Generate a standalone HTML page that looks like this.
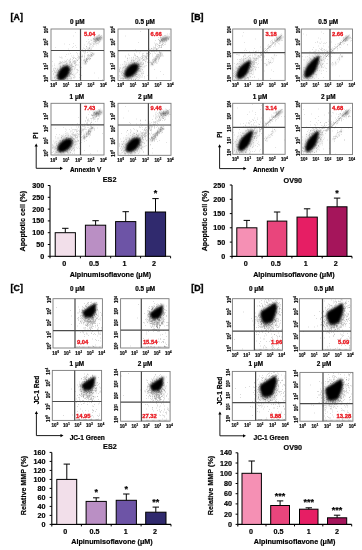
<!DOCTYPE html>
<html><head><meta charset="utf-8"><style>
html,body{margin:0;padding:0;background:#fff;width:362px;height:550px;overflow:hidden}
svg{display:block;filter:blur(.3px)}
text{font-family:"Liberation Sans", sans-serif;stroke:#000;stroke-width:.2px}
</style></head><body>
<svg width="362" height="550" viewBox="0 0 362 550">
<defs><filter id="bl" x="-50%" y="-50%" width="200%" height="200%"><feGaussianBlur stdDeviation="0.8"/></filter><filter id="bl2" x="-50%" y="-50%" width="200%" height="200%"><feGaussianBlur stdDeviation="2.5"/></filter>
<g id="h0"><text x="0" y="0" font-size="4.5" font-weight="bold" text-anchor="middle" fill="#111" stroke="#111" stroke-width=".2">10<tspan font-size="2.8" dy="-1.8" dx=".2">0</tspan></text></g>
<g id="v0"><text x="0" y="0" font-size="4.5" font-weight="bold" text-anchor="middle" fill="#111" stroke="#111" stroke-width=".2" transform="rotate(-90)">10<tspan font-size="2.8" dy="-1.8" dx=".2">0</tspan></text></g>
<g id="h1"><text x="0" y="0" font-size="4.5" font-weight="bold" text-anchor="middle" fill="#111" stroke="#111" stroke-width=".2">10<tspan font-size="2.8" dy="-1.8" dx=".2">1</tspan></text></g>
<g id="v1"><text x="0" y="0" font-size="4.5" font-weight="bold" text-anchor="middle" fill="#111" stroke="#111" stroke-width=".2" transform="rotate(-90)">10<tspan font-size="2.8" dy="-1.8" dx=".2">1</tspan></text></g>
<g id="h2"><text x="0" y="0" font-size="4.5" font-weight="bold" text-anchor="middle" fill="#111" stroke="#111" stroke-width=".2">10<tspan font-size="2.8" dy="-1.8" dx=".2">2</tspan></text></g>
<g id="v2"><text x="0" y="0" font-size="4.5" font-weight="bold" text-anchor="middle" fill="#111" stroke="#111" stroke-width=".2" transform="rotate(-90)">10<tspan font-size="2.8" dy="-1.8" dx=".2">2</tspan></text></g>
<g id="h3"><text x="0" y="0" font-size="4.5" font-weight="bold" text-anchor="middle" fill="#111" stroke="#111" stroke-width=".2">10<tspan font-size="2.8" dy="-1.8" dx=".2">3</tspan></text></g>
<g id="v3"><text x="0" y="0" font-size="4.5" font-weight="bold" text-anchor="middle" fill="#111" stroke="#111" stroke-width=".2" transform="rotate(-90)">10<tspan font-size="2.8" dy="-1.8" dx=".2">3</tspan></text></g>
<g id="h4"><text x="0" y="0" font-size="4.5" font-weight="bold" text-anchor="middle" fill="#111" stroke="#111" stroke-width=".2">10<tspan font-size="2.8" dy="-1.8" dx=".2">4</tspan></text></g>
<g id="v4"><text x="0" y="0" font-size="4.5" font-weight="bold" text-anchor="middle" fill="#111" stroke="#111" stroke-width=".2" transform="rotate(-90)">10<tspan font-size="2.8" dy="-1.8" dx=".2">4</tspan></text></g>
<clipPath id="c10"><rect x="51.5" y="29.5" width="52.0" height="50.5"/></clipPath>
<clipPath id="c11"><rect x="51.5" y="29.5" width="52.0" height="50.5"/></clipPath>
<clipPath id="c12"><rect x="51.5" y="29.5" width="52.0" height="50.5"/></clipPath>
<clipPath id="c13"><rect x="118.5" y="29.5" width="52.0" height="50.5"/></clipPath>
<clipPath id="c14"><rect x="118.5" y="29.5" width="52.0" height="50.5"/></clipPath>
<clipPath id="c15"><rect x="118.5" y="29.5" width="52.0" height="50.5"/></clipPath>
<clipPath id="c16"><rect x="51.5" y="103.8" width="52.0" height="50.7"/></clipPath>
<clipPath id="c17"><rect x="51.5" y="103.8" width="52.0" height="50.7"/></clipPath>
<clipPath id="c18"><rect x="51.5" y="103.8" width="52.0" height="50.7"/></clipPath>
<clipPath id="c19"><rect x="118.5" y="103.8" width="52.0" height="51.0"/></clipPath>
<clipPath id="c20"><rect x="118.5" y="103.8" width="52.0" height="51.0"/></clipPath>
<clipPath id="c21"><rect x="118.5" y="103.8" width="52.0" height="51.0"/></clipPath>
<clipPath id="c22"><rect x="233.2" y="29.5" width="51.4" height="50.4"/></clipPath>
<clipPath id="c23"><rect x="233.2" y="29.5" width="51.4" height="50.4"/></clipPath>
<clipPath id="c24"><rect x="233.2" y="29.5" width="51.4" height="50.4"/></clipPath>
<clipPath id="c25"><rect x="301.8" y="29.5" width="50.2" height="50.4"/></clipPath>
<clipPath id="c26"><rect x="301.8" y="29.5" width="50.2" height="50.4"/></clipPath>
<clipPath id="c27"><rect x="301.8" y="29.5" width="50.2" height="50.4"/></clipPath>
<clipPath id="c28"><rect x="233.2" y="103.8" width="51.4" height="50.0"/></clipPath>
<clipPath id="c29"><rect x="233.2" y="103.8" width="51.4" height="50.0"/></clipPath>
<clipPath id="c30"><rect x="233.2" y="103.8" width="51.4" height="50.0"/></clipPath>
<clipPath id="c31"><rect x="301.8" y="103.8" width="50.2" height="50.3"/></clipPath>
<clipPath id="c32"><rect x="301.8" y="103.8" width="50.2" height="50.3"/></clipPath>
<clipPath id="c33"><rect x="301.8" y="103.8" width="50.2" height="50.3"/></clipPath>
<clipPath id="c34"><rect x="53.5" y="299.2" width="48.4" height="48.3"/></clipPath>
<clipPath id="c35"><rect x="53.5" y="299.2" width="48.4" height="48.3"/></clipPath>
<clipPath id="c36"><rect x="121.1" y="299.2" width="47.4" height="48.3"/></clipPath>
<clipPath id="c37"><rect x="121.1" y="299.2" width="47.4" height="48.3"/></clipPath>
<clipPath id="c38"><rect x="52.8" y="370.9" width="48.3" height="49.0"/></clipPath>
<clipPath id="c39"><rect x="52.8" y="370.9" width="48.3" height="49.0"/></clipPath>
<clipPath id="c40"><rect x="121.1" y="372.0" width="48.5" height="48.7"/></clipPath>
<clipPath id="c41"><rect x="121.1" y="372.0" width="48.5" height="48.7"/></clipPath>
<clipPath id="c42"><rect x="232.9" y="299.2" width="49.0" height="50.6"/></clipPath>
<clipPath id="c43"><rect x="232.9" y="299.2" width="49.0" height="50.6"/></clipPath>
<clipPath id="c44"><rect x="232.9" y="299.2" width="49.0" height="50.6"/></clipPath>
<clipPath id="c45"><rect x="299.9" y="299.2" width="50.6" height="50.6"/></clipPath>
<clipPath id="c46"><rect x="299.9" y="299.2" width="50.6" height="50.6"/></clipPath>
<clipPath id="c47"><rect x="299.9" y="299.2" width="50.6" height="50.6"/></clipPath>
<clipPath id="c48"><rect x="232.8" y="371.9" width="52.5" height="48.0"/></clipPath>
<clipPath id="c49"><rect x="232.8" y="371.9" width="52.5" height="48.0"/></clipPath>
<clipPath id="c50"><rect x="232.8" y="371.9" width="52.5" height="48.0"/></clipPath>
<clipPath id="c51"><rect x="300.4" y="372.9" width="52.0" height="47.8"/></clipPath>
<clipPath id="c52"><rect x="300.4" y="372.9" width="52.0" height="47.8"/></clipPath>
<clipPath id="c53"><rect x="300.4" y="372.9" width="52.0" height="47.8"/></clipPath></defs>
<g clip-path="url(#c10)"><ellipse cx="63.7" cy="73" rx="11.25" ry="7.68" opacity="0.12" transform="rotate(-55 63.7 73)" filter="url(#bl2)"/></g>
<g clip-path="url(#c11)"><ellipse cx="63.7" cy="73" rx="8.4" ry="4.896" opacity="1" transform="rotate(-55 63.7 73)" filter="url(#bl)"/></g>
<g clip-path="url(#c12)"><ellipse cx="98" cy="38.8" rx="4.5" ry="1.7" opacity="0.5" transform="rotate(-18 98 38.8)" filter="url(#bl)"/></g>
<path d="M83.0 63.5L93.0 53.0" stroke="#000" stroke-width="2.2" stroke-linecap="round" opacity="0.09" filter="url(#bl)"/>
<path transform="scale(.5)" d="M0 0m150 65h1m47 4h1m-2 1h1m-1 1h1m0 0h1m4 0h1m-58 1h1m48 0h1m4 1h1m-12 1h1m2 0h1m5 1h1m4 0h1m-15 1h1m4 0h1m-9 1h1m0 0h1m4 0h1m0 1h1m0 0h1m4 0h1m-23 1h1m9 0h1m1 0h1m5 0h1m5 0h1m-21 1h1m1 0h1m11 0h1m0 0h1m-15 1h1m8 0h1m3 0h1m0 0h1m0 0h1m-5 1h1m5 0h1m1 0h1m-29 1h1m5 0h1m7 0h1m1 0h1m1 0h1m1 0h1m4 0h1m-23 1h1m12 0h1m0 0h1m6 0h1m-8 1h1m7 0h1m-22 1h1m0 0h1m4 0h1m0 0h1m2 0h1m3 0h1m1 0h1m0 0h1m1 0h1m-51 1h1m34 0h1m4 0h1m1 0h1m4 0h1m1 0h1m-67 1h1m45 0h1m3 0h1m11 0h1m4 0h1m-58 1h1m40 0h1m1 0h1m3 0h1m1 0h1m-20 1h1m10 0h1m6 0h1m5 0h1m-43 1h1m26 0h1m5 0h1m-38 2h1m24 0h1m0 0h1m12 0h1m-14 1h1m5 0h1m1 0h1m0 0h1m1 0h1m-74 1h1m32 0h1m7 0h1m25 0h1m-13 1h1m8 0h1m1 0h1m0 0h1m-11 1h1m3 0h1m5 0h1m0 0h1m3 0h1m-47 1h1m38 0h1m1 0h1m1 0h1m-17 1h1m5 0h1m4 0h1m0 0h1m6 0h1m-13 1h1m8 0h1m-16 1h1m1 0h1m11 0h1m-42 1h1m31 0h1m6 0h1m-13 1h1m0 0h1m2 0h1m0 0h1m7 0h1m-13 1h1m3 0h1m4 0h1m4 0h1m-28 1h1m21 0h1m7 0h1m-16 1h1m2 0h1m12 0h1m-45 1h1m13 0h1m6 0h1m23 0h1m1 0h1m-52 1h1m22 0h1m9 0h1m10 0h1m3 0h1m3 0h1m-56 1h1m27 0h1m15 0h1m4 0h1m0 0h1m3 0h1m-34 1h1m10 0h1m8 0h1m2 0h1m2 0h1m1 0h1m0 0h1m3 0h1m-19 1h1m4 0h1m3 0h1m4 0h1m1 0h1m-43 1h1m3 0h1m9 0h1m7 0h1m10 0h1m0 0h1m0 0h1m2 0h1m0 0h1m1 0h1m-54 1h1m25 0h1m1 0h1m1 0h1m0 0h1m2 0h1m3 0h1m10 0h1m2 0h1m-65 1h1m3 0h1m34 0h1m4 0h1m1 0h1m3 0h1m5 0h1m-56 1h1m24 0h1m0 0h1m2 0h1m5 0h1m1 0h1m0 0h1m2 0h1m17 0h1m-58 1h1m1 0h1m33 0h1m9 0h1m6 0h1m1 0h1m-37 1h1m4 0h1m0 0h1m2 0h1m0 0h1m6 0h1m1 0h1m11 0h1m0 0h1m2 0h1m2 0h1m0 0h1m0 0h1m-29 1h1m2 0h1m0 0h1m2 0h1m11 0h1m0 0h1m1 0h1m1 0h1m2 0h1m-46 1h1m5 0h1m2 0h1m16 0h1m7 0h1m3 0h1m0 0h1m0 0h1m3 0h1m-41 1h1m0 0h1m11 0h1m2 0h1m7 0h1m2 0h1m1 0h1m1 0h1m1 0h1m0 0h1m4 0h1m-47 1h1m16 0h1m0 0h1m3 0h1m0 0h1m11 0h1m1 0h1m2 0h1m0 0h1m-45 1h1m6 0h1m1 0h1m0 0h1m4 0h1m2 0h1m0 0h1m22 0h1m2 0h1m-71 1h1m20 0h1m5 0h1m1 0h1m7 0h1m4 0h1m2 0h1m0 0h1m17 0h1m1 0h1m0 0h1m1 0h1m0 0h1m-57 1h1m1 0h1m0 0h1m9 0h1m8 0h1m0 0h1m5 0h1m1 0h1m0 0h1m2 0h1m16 0h1m0 0h1m0 0h1m1 0h1m-53 1h1m4 0h1m1 0h1m8 0h1m1 0h1m4 0h1m4 0h1m8 0h1m10 0h1m0 0h1m-51 1h1m1 0h1m0 0h1m7 0h1m2 0h1m3 0h1m6 0h1m1 0h1m0 0h1m0 0h1m9 0h1m7 0h1m1 0h1m-53 1h1m0 0h1m0 0h1m11 0h1m10 0h1m5 0h1m20 0h1m2 0h1m-65 1h1m7 0h1m14 0h1m2 0h1m2 0h1m2 0h1m1 0h1m1 0h1m3 0h1m0 0h1m0 0h1m8 0h1m7 0h1m4 0h1m-43 1h1m7 0h1m2 0h1m9 0h1m18 0h1m-54 1h1m2 0h1m3 0h1m1 0h1m1 0h1m3 0h1m2 0h1m3 0h1m2 0h1m0 0h1m7 0h1m1 0h1m1 0h1m-48 1h1m16 0h1m0 0h1m6 0h1m0 0h1m4 0h1m1 0h1m7 0h1m0 0h1m-47 1h1m14 0h1m3 0h1m1 0h1m1 0h1m2 0h1m0 0h1m0 0h1m0 0h1m4 0h1m0 0h1m1 0h1m0 0h1m0 0h1m-25 1h1m0 0h1m11 0h1m1 0h1m1 0h1m0 0h1m5 0h1m0 0h1m0 0h1m0 0h1m-29 1h1m9 0h1m5 0h1m2 0h1m3 0h1m5 0h1m1 0h1m7 0h1m-38 1h1m3 0h1m0 0h1m3 0h1m0 0h1m3 0h1m0 0h1m3 0h1m2 0h1m19 0h1m-55 1h1m10 0h1m3 0h1m0 0h1m1 0h1m3 0h1m0 0h1m8 0h1m0 0h1m2 0h1m5 0h1m-41 1h1m9 0h1m0 0h1m1 0h1m5 0h1m2 0h1m0 0h1m1 0h1m2 0h1m1 0h1m-36 1h1m0 0h1m2 0h1m3 0h1m0 0h1m11 0h1m1 0h1m3 0h1m2 0h1m2 0h1m0 0h1m0 0h1m1 0h1m0 0h1m3 0h1m0 0h1m-32 1h1m2 0h1m0 0h1m2 0h1m0 0h1m3 0h1m2 0h1m0 0h1m2 0h1m0 0h1m0 0h1m3 0h1m1 0h1m7 0h1m0 0h1m-40 1h1m5 0h1m0 0h1m0 0h1m4 0h1m0 0h1m1 0h1m0 0h1m1 0h1m0 0h1m1 0h1m0 0h1m0 0h1m0 0h1m2 0h1m11 0h1m-50 1h1m2 0h1m2 0h1m3 0h1m0 0h1m2 0h1m4 0h1m3 0h1m0 0h1m1 0h1m1 0h1m1 0h1m2 0h1m0 0h1m16 0h1m-38 1h1m3 0h1m0 0h1m0 0h1m7 0h1m1 0h1m3 0h1m2 0h1m1 0h1m9 0h1m-52 1h1m4 0h1m7 0h1m0 0h1m0 0h1m2 0h1m3 0h1m1 0h1m0 0h1m11 0h1m-32 1h1m1 0h1m3 0h1m1 0h1m1 0h1m0 0h1m3 0h1m0 0h1m3 0h1m0 0h1m1 0h1m1 0h1m3 0h1m-32 1h1m2 0h1m3 0h1m0 0h1m5 0h1m1 0h1m3 0h1m1 0h1m0 0h1m4 0h1m0 0h1m5 0h1m10 0h1m-36 1h1m1 0h1m2 0h1m0 0h1m3 0h1m0 0h1m0 0h1m1 0h1m0 0h1m0 0h1m2 0h1m0 0h1m3 0h1m9 0h1m35 0h1m-84 1h1m11 0h1m4 0h1m1 0h1m0 0h1m1 0h1m1 0h1m2 0h1m3 0h1m2 0h1m0 0h1m1 0h1m-30 1h1m1 0h1m3 0h1m3 0h1m1 0h1m5 0h1m1 0h1m1 0h1m3 0h1m5 0h1m3 0h1m-45 1h1m7 0h1m0 0h1m4 0h1m1 0h1m0 0h1m2 0h1m0 0h1m1 0h1m0 0h1m1 0h1m5 0h1m1 0h1m1 0h1m1 0h1m0 0h1m12 0h1m-46 1h1m3 0h1m1 0h1m1 0h1m0 0h1m0 0h1m0 0h1m1 0h1m4 0h1m7 0h1m8 0h1m-37 1h1m1 0h1m0 0h1m0 0h1m0 0h1m4 0h1m0 0h1m3 0h1m1 0h1m8 0h1m7 0h1m15 0h1m-53 1h1m1 0h1m1 0h1m3 0h1m1 0h1m1 0h1m3 0h1m5 0h1m0 0h1m0 0h1m0 0h1m1 0h1m1 0h1m8 0h1m-33 1h1m1 0h1m6 0h1m0 0h1m3 0h1m3 0h1m3 0h1m1 0h1m-33 1h1m6 0h1m0 0h1m6 0h1m25 0h1m0 0h1m-42 1h1m0 0h1m11 0h1m4 0h1m0 0h1m2 0h1m11 0h1m3 0h1m10 0h1m-55 1h1m10 0h1m0 0h1m0 0h1m0 0h1m4 0h1m1 0h1m14 0h1m6 0h1m1 0h1m47 0h1m-89 1h1m3 0h1m0 0h1m0 0h1m0 0h1m0 0h1m0 0h1m2 0h1m0 0h1m4 0h1m2 0h1m0 0h1m2 0h1m3 0h1m4 0h1m-28 1h1m0 0h1m0 0h1m1 0h1m0 0h1m5 0h1m1 0h1m3 0h1m1 0h1m0 0h1m3 0h1m1 0h1m-32 1h1m15 0h1m1 0h1m4 0h1m70 0h1m-101 1h1" stroke="#000" stroke-width="1.3" stroke-opacity="0.35" fill="none"/>
<g clip-path="url(#c13)"><ellipse cx="131.5" cy="70.5" rx="12.0" ry="8.0" opacity="0.12" transform="rotate(-45 131.5 70.5)" filter="url(#bl2)"/></g>
<g clip-path="url(#c14)"><ellipse cx="131.5" cy="70.5" rx="8.96" ry="5.1" opacity="1" transform="rotate(-45 131.5 70.5)" filter="url(#bl)"/></g>
<g clip-path="url(#c15)"><ellipse cx="165" cy="38.8" rx="4.5" ry="1.7" opacity="0.5" transform="rotate(-18 165 38.8)" filter="url(#bl)"/></g>
<path d="M151.1 64.7L161.1 53.2" stroke="#000" stroke-width="2.2" stroke-linecap="round" opacity="0.15" filter="url(#bl)"/>
<path transform="scale(.5)" d="M0 0m280 63h1m39 4h1m14 1h1m2 0h1m-17 3h1m5 0h1m2 0h1m-81 1h1m72 0h1m-4 2h1m5 0h1m10 0h1m0 0h1m-23 1h1m2 0h1m1 0h1m-3 1h1m3 0h1m6 0h1m1 0h1m-10 1h1m11 0h1m-14 1h1m2 0h1m0 0h1m1 0h1m7 0h1m-22 1h1m0 0h1m4 0h1m0 0h1m1 0h1m4 0h1m1 0h1m3 0h1m-14 1h1m3 0h1m1 0h1m-20 1h1m7 0h1m0 0h1m2 0h1m0 0h1m0 0h1m0 0h1m2 0h1m1 0h1m1 0h1m0 0h1m-16 1h1m1 0h1m0 0h1m0 0h1m2 0h1m1 0h1m-8 1h1m0 0h1m3 0h1m1 0h1m0 0h1m4 0h1m-15 1h1m0 0h1m2 0h1m0 0h1m3 0h1m2 0h1m-56 1h1m44 0h1m2 0h1m-16 1h1m8 0h1m0 0h1m6 0h1m4 0h1m-20 1h1m5 0h1m2 0h1m4 0h1m-17 1h1m3 0h1m9 0h1m0 0h1m-16 1h1m4 0h1m8 0h1m4 0h1m0 0h1m-18 1h1m2 0h1m5 0h1m0 0h1m0 0h1m-14 1h1m4 0h1m1 0h1m0 0h1m0 0h1m1 0h1m4 0h1m-17 1h1m6 0h1m0 0h1m-5 1h1m6 0h1m-16 1h1m3 0h1m6 0h1m3 0h1m-14 1h1m1 0h1m4 0h1m1 0h1m2 0h1m0 0h1m0 0h1m-18 1h1m-5 1h1m0 0h1m4 0h1m2 0h1m1 0h1m0 0h1m2 0h1m-19 1h1m3 0h1m0 0h1m2 0h1m4 0h1m0 0h1m-43 1h1m29 0h1m4 0h1m5 0h1m0 0h1m0 0h1m-6 1h1m0 0h1m-5 1h1m-5 1h1m-23 1h1m22 0h1m0 0h1m2 0h1m0 0h1m3 0h1m5 0h1m-47 1h1m23 0h1m1 0h1m0 0h1m19 0h1m-21 1h1m19 0h1m0 0h1m-43 1h1m13 0h1m1 0h1m2 0h1m10 0h1m9 0h1m2 0h1m0 0h1m-55 1h1m15 0h1m1 0h1m5 0h1m1 0h1m0 0h1m4 0h1m0 0h1m8 0h1m9 0h1m-64 1h1m34 0h1m2 0h1m1 0h1m0 0h1m5 0h1m10 0h1m4 0h1m3 0h1m-40 1h1m11 0h1m1 0h1m14 0h1m1 0h1m4 0h1m-65 1h1m10 0h1m0 0h1m1 0h1m21 0h1m0 0h1m17 0h1m0 0h1m2 0h1m0 0h1m1 0h1m3 0h1m1 0h1m-68 1h1m11 0h1m13 0h1m2 0h1m1 0h1m5 0h1m19 0h1m4 0h1m-71 1h1m34 0h1m1 0h1m2 0h1m1 0h1m3 0h1m1 0h1m5 0h1m8 0h1m4 0h1m1 0h1m1 0h1m1 0h1m1 0h1m-54 1h1m0 0h1m0 0h1m6 0h1m1 0h1m4 0h1m1 0h1m0 0h1m2 0h1m15 0h1m0 0h1m1 0h1m0 0h1m1 0h1m3 0h1m-72 1h1m16 0h1m3 0h1m3 0h1m15 0h1m1 0h1m19 0h1m2 0h1m1 0h1m-56 1h1m2 0h1m10 0h1m2 0h1m3 0h1m0 0h1m1 0h1m3 0h1m0 0h1m4 0h1m13 0h1m3 0h1m3 0h1m-66 1h1m3 0h1m16 0h1m3 0h1m8 0h1m3 0h1m0 0h1m3 0h1m9 0h1m1 0h1m3 0h1m1 0h1m0 0h1m1 0h1m-65 1h1m15 0h1m2 0h1m3 0h1m4 0h1m1 0h1m0 0h1m7 0h1m1 0h1m14 0h1m0 0h1m0 0h1m5 0h1m-65 1h1m8 0h1m3 0h1m13 0h1m0 0h1m6 0h1m0 0h1m3 0h1m14 0h1m1 0h1m0 0h1m3 0h1m2 0h1m-50 1h1m7 0h1m7 0h1m0 0h1m5 0h1m10 0h1m2 0h1m1 0h1m1 0h1m0 0h1m3 0h1m-52 1h1m9 0h1m1 0h1m1 0h1m4 0h1m2 0h1m0 0h1m2 0h1m4 0h1m10 0h1m2 0h1m0 0h1m1 0h1m-59 1h1m7 0h1m2 0h1m0 0h1m1 0h1m8 0h1m6 0h1m0 0h1m1 0h1m9 0h1m6 0h1m2 0h1m2 0h1m-50 1h1m0 0h1m12 0h1m4 0h1m10 0h1m15 0h1m0 0h1m0 0h1m0 0h1m4 0h1m0 0h1m-70 1h1m18 0h1m6 0h1m0 0h1m14 0h1m0 0h1m14 0h1m-59 1h1m2 0h1m26 0h1m3 0h1m2 0h1m8 0h1m4 0h1m0 0h1m4 0h1m0 0h1m0 0h1m2 0h1m1 0h1m0 0h1m-53 1h1m0 0h1m5 0h1m0 0h1m3 0h1m3 0h1m3 0h1m1 0h1m2 0h1m7 0h1m4 0h1m0 0h1m2 0h1m3 0h1m3 0h1m-60 1h1m4 0h1m7 0h1m0 0h1m2 0h1m1 0h1m0 0h1m2 0h1m4 0h1m9 0h1m12 0h1m1 0h1m2 0h1m6 0h1m-48 1h1m0 0h1m4 0h1m2 0h1m1 0h1m1 0h1m0 0h1m3 0h1m0 0h1m15 0h1m0 0h1m7 0h1m-64 1h1m8 0h1m5 0h1m1 0h1m5 0h1m3 0h1m0 0h1m1 0h1m0 0h1m3 0h1m17 0h1m1 0h1m-60 1h1m6 0h1m4 0h1m3 0h1m3 0h1m10 0h1m0 0h1m0 0h1m1 0h1m1 0h1m1 0h1m2 0h1m14 0h1m1 0h1m0 0h1m-66 1h1m10 0h1m7 0h1m3 0h1m0 0h1m1 0h1m2 0h1m0 0h1m2 0h1m0 0h1m1 0h1m0 0h1m1 0h1m2 0h1m1 0h1m19 0h1m2 0h1m-52 1h1m2 0h1m0 0h1m1 0h1m0 0h1m6 0h1m0 0h1m0 0h1m2 0h1m3 0h1m12 0h1m-43 1h1m5 0h1m2 0h1m2 0h1m4 0h1m1 0h1m1 0h1m1 0h1m0 0h1m1 0h1m1 0h1m2 0h1m7 0h1m1 0h1m-44 1h1m2 0h1m2 0h1m4 0h1m8 0h1m4 0h1m0 0h1m2 0h1m0 0h1m1 0h1m0 0h1m0 0h1m0 0h1m-37 1h1m3 0h1m0 0h1m2 0h1m0 0h1m0 0h1m3 0h1m2 0h1m0 0h1m0 0h1m1 0h1m1 0h1m1 0h1m0 0h1m3 0h1m0 0h1m1 0h1m4 0h1m0 0h1m1 0h1m-49 1h1m6 0h1m0 0h1m5 0h1m0 0h1m1 0h1m1 0h1m0 0h1m0 0h1m3 0h1m3 0h1m5 0h1m-37 1h1m5 0h1m1 0h1m16 0h1m0 0h1m0 0h1m2 0h1m0 0h1m0 0h1m1 0h1m-33 1h1m8 0h1m2 0h1m0 0h1m2 0h1m0 0h1m1 0h1m1 0h1m1 0h1m2 0h1m0 0h1m2 0h1m1 0h1m2 0h1m0 0h1m0 0h1m0 0h1m-35 1h1m8 0h1m2 0h1m1 0h1m0 0h1m4 0h1m1 0h1m1 0h1m4 0h1m1 0h1m0 0h1m3 0h1m0 0h1m-45 1h1m0 0h1m14 0h1m1 0h1m3 0h1m5 0h1m2 0h1m1 0h1m1 0h1m1 0h1m8 0h1m23 0h1m-58 1h1m7 0h1m4 0h1m3 0h1m0 0h1m3 0h1m1 0h1m1 0h1m0 0h1m1 0h1m4 0h1m-48 1h1m6 0h1m3 0h1m1 0h1m7 0h1m0 0h1m8 0h1m3 0h1m1 0h1m1 0h1m1 0h1m-42 1h1m15 0h1m7 0h1m1 0h1m0 0h1m4 0h1m2 0h1m6 0h1m-42 1h1m2 0h1m6 0h1m4 0h1m2 0h1m4 0h1m0 0h1m1 0h1m0 0h1m0 0h1m2 0h1m5 0h1m1 0h1m2 0h1m4 0h1m34 0h1m-84 1h1m1 0h1m4 0h1m4 0h1m0 0h1m7 0h1m1 0h1m10 0h1m2 0h1m6 0h1m-39 1h1m11 0h1m0 0h1m0 0h1m2 0h1m0 0h1m0 0h1m0 0h1m3 0h1m3 0h1m-30 1h1m4 0h1m4 0h1m1 0h1m3 0h1m0 0h1m4 0h1m2 0h1m16 0h1m1 0h1m-45 1h1m2 0h1m0 0h1m5 0h1m2 0h1m5 0h1m0 0h1m0 0h1m2 0h1m1 0h1m1 0h1m10 0h1m4 0h1m-40 1h1m0 0h1m0 0h1m1 0h1m1 0h1m1 0h1m4 0h1m3 0h1m6 0h1m4 0h1m4 0h1m1 0h1m-34 1h1m4 0h1m0 0h1m7 0h1m4 0h1m1 0h1m0 0h1m1 0h1m2 0h1m47 0h1m-85 1h1m1 0h1m2 0h1m1 0h1m2 0h1m1 0h1m3 0h1m5 0h1m2 0h1m2 0h1m-32 1h1m5 0h1m6 0h1m0 0h1m4 0h1m0 0h1m0 0h1m0 0h1m1 0h1m0 0h1m3 0h1m1 0h1m5 0h1m4 0h1m2 0h1m10 0h1m-49 1h1m0 0h1m3 0h1m1 0h1m0 0h1m4 0h1m5 0h1m11 0h1m-33 1h1m2 0h1m6 0h1m7 0h1m0 0h1m0 0h1m3 0h1m1 0h1m1 0h1m13 0h1m-51 1h1m1 0h1m7 0h1m0 0h1m1 0h1m2 0h1m5 0h1m3 0h1m4 0h1m3 0h1m4 0h1m2 0h1m0 0h1m1 0h1m-41 1h1m5 0h1m4 0h1m19 0h1m0 0h1m-34 1h1m3 0h1m3 0h1m1 0h1m8 0h1m26 0h1m22 0h1m-73 1h1m1 0h1m1 0h1m2 0h1m1 0h1m0 0h1m0 0h1m3 0h1m2 0h1m1 0h1m12 0h1m5 0h1m-40 1h1m3 0h1m1 0h1m0 0h1m5 0h1m2 0h1m2 0h1m2 0h1m0 0h1m2 0h1m3 0h1m-16 1h1m0 0h1m6 0h1m2 0h1m3 0h1m0 0h1m5 0h1m-4 1h1" stroke="#000" stroke-width="1.3" stroke-opacity="0.35" fill="none"/>
<g clip-path="url(#c16)"><ellipse cx="65" cy="145.3" rx="12.0" ry="8.0" opacity="0.12" transform="rotate(-40 65 145.3)" filter="url(#bl2)"/></g>
<g clip-path="url(#c17)"><ellipse cx="65" cy="145.3" rx="8.96" ry="5.1" opacity="1" transform="rotate(-40 65 145.3)" filter="url(#bl)"/></g>
<g clip-path="url(#c18)"><ellipse cx="98" cy="113.1" rx="4.5" ry="1.7" opacity="0.5" transform="rotate(-18 98 113.1)" filter="url(#bl)"/></g>
<path d="M83.0 138.8L93.0 127.3" stroke="#000" stroke-width="2.2" stroke-linecap="round" opacity="0.132" filter="url(#bl)"/>
<path transform="scale(.5)" d="M0 0m186 209h1m-16 1h1m16 5h1m-7 3h1m18 0h1m-5 1h1m1 0h1m-1 2h1m-16 1h1m1 0h1m1 0h1m1 0h1m3 0h1m2 0h1m0 0h1m0 0h1m0 0h1m-2 1h1m-21 1h1m9 0h1m2 0h1m0 0h1m-8 1h1m1 0h1m0 0h1m3 0h1m1 0h1m7 0h1m-17 1h1m0 0h1m1 0h1m1 0h1m2 0h1m-10 1h1m3 0h1m1 0h1m0 0h1m0 0h1m1 0h1m-8 1h1m0 0h1m2 0h1m2 0h1m0 0h1m1 0h1m-23 1h1m4 0h1m3 0h1m4 0h1m0 0h1m4 0h1m2 0h1m-18 1h1m0 0h1m1 0h1m1 0h1m1 0h1m1 0h1m1 0h1m1 0h1m1 0h1m-16 1h1m0 0h1m0 0h1m0 0h1m2 0h1m2 0h1m4 0h1m-14 1h1m0 0h1m1 0h1m5 0h1m0 0h1m4 0h1m-9 1h1m0 0h1m0 0h1m3 0h1m-26 1h1m14 0h1m0 0h1m0 0h1m1 0h1m0 0h1m6 0h1m-44 1h1m16 0h1m11 0h1m0 0h1m0 0h1m2 0h1m-19 2h1m7 0h1m2 0h1m0 0h1m1 0h1m2 0h1m5 0h1m0 0h1m-20 1h1m5 0h1m2 0h1m3 0h1m6 0h1m-9 1h1m4 0h1m-21 1h1m0 0h1m0 0h1m9 0h1m-17 2h1m0 0h1m3 0h1m0 0h1m1 0h1m4 0h1m11 0h1m-5 1h1m-18 2h1m7 0h1m0 0h1m-12 1h1m7 0h1m-27 1h1m20 0h1m4 0h1m-13 1h1m3 0h1m13 0h1m-42 1h1m13 0h1m2 0h1m2 0h1m5 0h1m2 0h1m5 0h1m-6 1h1m0 0h1m1 0h1m3 0h1m-19 1h1m3 0h1m6 0h1m0 0h1m3 0h1m-12 1h1m-13 1h1m3 0h1m2 0h1m2 0h1m13 0h1m1 0h1m-32 1h1m16 0h1m1 0h1m11 0h1m-58 1h1m30 0h1m16 0h1m2 0h1m4 0h1m1 0h1m0 0h1m-43 1h1m18 0h1m8 0h1m8 0h1m2 0h1m0 0h1m0 0h1m0 0h1m8 0h1m-85 1h1m49 0h1m17 0h1m0 0h1m1 0h1m0 0h1m1 0h1m2 0h1m-58 1h1m23 0h1m4 0h1m2 0h1m1 0h1m1 0h1m0 0h1m0 0h1m12 0h1m-45 1h1m6 0h1m1 0h1m0 0h1m1 0h1m1 0h1m11 0h1m1 0h1m3 0h1m2 0h1m3 0h1m1 0h1m0 0h1m7 0h1m-56 1h1m17 0h1m7 0h1m2 0h1m3 0h1m10 0h1m-25 1h1m2 0h1m4 0h1m0 0h1m1 0h1m12 0h1m1 0h1m1 0h1m6 0h1m-48 1h1m0 0h1m1 0h1m3 0h1m6 0h1m2 0h1m1 0h1m0 0h1m2 0h1m1 0h1m9 0h1m0 0h1m0 0h1m0 0h1m3 0h1m-54 1h1m21 0h1m2 0h1m3 0h1m1 0h1m0 0h1m13 0h1m0 0h1m1 0h1m0 0h1m0 0h1m-41 1h1m10 0h1m5 0h1m4 0h1m6 0h1m2 0h1m0 0h1m1 0h1m0 0h1m1 0h1m0 0h1m0 0h1m-36 1h1m15 0h1m13 0h1m3 0h1m-48 1h1m0 0h1m10 0h1m1 0h1m10 0h1m4 0h1m2 0h1m6 0h1m0 0h1m1 0h1m0 0h1m-48 1h1m23 0h1m17 0h1m1 0h1m2 0h1m0 0h1m0 0h1m25 0h1m-69 1h1m4 0h1m1 0h1m5 0h1m1 0h1m1 0h1m1 0h1m2 0h1m1 0h1m1 0h1m4 0h1m3 0h1m0 0h1m2 0h1m1 0h1m1 0h1m0 0h1m-69 1h1m5 0h1m25 0h1m0 0h1m2 0h1m7 0h1m0 0h1m4 0h1m9 0h1m1 0h1m1 0h1m0 0h1m-53 1h1m5 0h1m1 0h1m12 0h1m1 0h1m0 0h1m0 0h1m0 0h1m14 0h1m1 0h1m3 0h1m2 0h1m0 0h1m0 0h1m-57 1h1m7 0h1m6 0h1m3 0h1m7 0h1m2 0h1m14 0h1m13 0h1m-58 1h1m6 0h1m5 0h1m7 0h1m1 0h1m0 0h1m1 0h1m0 0h1m2 0h1m0 0h1m1 0h1m0 0h1m2 0h1m6 0h1m4 0h1m1 0h1m-65 1h1m13 0h1m14 0h1m2 0h1m6 0h1m14 0h1m1 0h1m0 0h1m3 0h1m0 0h1m0 0h1m-52 1h1m2 0h1m2 0h1m5 0h1m7 0h1m11 0h1m3 0h1m3 0h1m4 0h1m0 0h1m1 0h1m0 0h1m6 0h1m-58 1h1m9 0h1m0 0h1m8 0h1m2 0h1m5 0h1m1 0h1m0 0h1m7 0h1m4 0h1m0 0h1m0 0h1m-60 1h1m4 0h1m1 0h1m4 0h1m0 0h1m6 0h1m1 0h1m1 0h1m1 0h1m3 0h1m0 0h1m2 0h1m0 0h1m4 0h1m2 0h1m1 0h1m11 0h1m2 0h1m-39 1h1m4 0h1m0 0h1m0 0h1m0 0h1m0 0h1m0 0h1m3 0h1m0 0h1m1 0h1m17 0h1m1 0h1m-46 1h1m2 0h1m5 0h1m2 0h1m0 0h1m0 0h1m1 0h1m1 0h1m0 0h1m17 0h1m6 0h1m0 0h1m-44 1h1m4 0h1m0 0h1m0 0h1m12 0h1m2 0h1m5 0h1m-16 1h1m2 0h1m0 0h1m0 0h1m3 0h1m13 0h1m-45 1h1m0 0h1m3 0h1m0 0h1m0 0h1m6 0h1m2 0h1m0 0h1m0 0h1m5 0h1m0 0h1m4 0h1m3 0h1m1 0h1m0 0h1m15 0h1m-68 1h1m14 0h1m2 0h1m0 0h1m4 0h1m8 0h1m0 0h1m3 0h1m0 0h1m1 0h1m-35 1h1m11 0h1m2 0h1m0 0h1m3 0h1m1 0h1m0 0h1m1 0h1m1 0h1m1 0h1m7 0h1m2 0h1m0 0h1m1 0h1m11 0h1m-58 1h1m7 0h1m0 0h1m5 0h1m1 0h1m0 0h1m2 0h1m2 0h1m0 0h1m0 0h1m6 0h1m1 0h1m1 0h1m0 0h1m1 0h1m0 0h1m-37 1h1m9 0h1m0 0h1m6 0h1m1 0h1m0 0h1m0 0h1m0 0h1m4 0h1m15 0h1m1 0h1m-55 1h1m12 0h1m0 0h1m2 0h1m1 0h1m0 0h1m5 0h1m1 0h1m1 0h1m0 0h1m0 0h1m0 0h1m1 0h1m2 0h1m3 0h1m10 0h1m-50 1h1m5 0h1m2 0h1m2 0h1m0 0h1m0 0h1m1 0h1m10 0h1m5 0h1m0 0h1m11 0h1m-47 1h1m4 0h1m1 0h1m1 0h1m2 0h1m0 0h1m2 0h1m5 0h1m2 0h1m0 0h1m2 0h1m1 0h1m1 0h1m6 0h1m2 0h1m-40 1h1m6 0h1m0 0h1m4 0h1m20 0h1m-47 1h1m0 0h1m7 0h1m8 0h1m2 0h1m1 0h1m5 0h1m0 0h1m0 0h1m3 0h1m0 0h1m3 0h1m0 0h1m1 0h1m0 0h1m0 0h1m1 0h1m-39 1h1m4 0h1m1 0h1m1 0h1m1 0h1m3 0h1m0 0h1m2 0h1m2 0h1m1 0h1m0 0h1m0 0h1m0 0h1m0 0h1m0 0h1m-37 1h1m7 0h1m0 0h1m1 0h1m0 0h1m1 0h1m4 0h1m4 0h1m0 0h1m0 0h1m1 0h1m1 0h1m0 0h1m5 0h1m34 0h1m-69 1h1m5 0h1m2 0h1m1 0h1m2 0h1m3 0h1m1 0h1m1 0h1m1 0h1m2 0h1m2 0h1m1 0h1m0 0h1m-40 1h1m1 0h1m1 0h1m5 0h1m1 0h1m0 0h1m2 0h1m1 0h1m6 0h1m3 0h1m1 0h1m3 0h1m2 0h1m0 0h1m0 0h1m2 0h1m0 0h1m8 0h1m-54 1h1m6 0h1m2 0h1m1 0h1m3 0h1m2 0h1m2 0h1m0 0h1m3 0h1m2 0h1m6 0h1m11 0h1m-47 1h1m1 0h1m4 0h1m3 0h1m1 0h1m0 0h1m0 0h1m0 0h1m1 0h1m0 0h1m1 0h1m1 0h1m1 0h1m3 0h1m0 0h1m1 0h1m7 0h1m0 0h1m-45 1h1m6 0h1m1 0h1m0 0h1m2 0h1m0 0h1m0 0h1m6 0h1m0 0h1m3 0h1m1 0h1m1 0h1m0 0h1m3 0h1m4 0h1m1 0h1m7 0h1m2 0h1m-49 1h1m5 0h1m0 0h1m5 0h1m4 0h1m5 0h1m8 0h1m-36 1h1m5 0h1m0 0h1m2 0h1m2 0h1m6 0h1m6 0h1m3 0h1m1 0h1m3 0h1m3 0h1m-36 1h1m2 0h1m4 0h1m0 0h1m1 0h1m3 0h1m0 0h1m3 0h1m3 0h1m9 0h1m-35 1h1m0 0h1m11 0h1m1 0h1m0 0h1m11 0h1m0 0h1m4 0h1m19 0h1m-56 1h1m5 0h1m1 0h1m3 0h1m5 0h1m1 0h1m1 0h1m0 0h1m2 0h1m7 0h1m46 0h1m-88 1h1m3 0h1m6 0h1m0 0h1m0 0h1m0 0h1m4 0h1m6 0h1m0 0h1m-23 1h1m4 0h1m3 0h1m5 0h1m6 0h1m6 0h1m6 0h1m-46 1h1m0 0h1m5 0h1m1 0h1m2 0h1m3 0h1m1 0h1m13 0h1m5 0h1m-30 1h1m8 0h1m5 0h1m7 0h1m0 0h1m0 0h1m1 0h1m0 0h1m-32 1h1m0 0h1m34 0h1m2 0h1m31 0h1m-66 1h1m1 0h1m5 0h1m5 0h1" stroke="#000" stroke-width="1.3" stroke-opacity="0.35" fill="none"/>
<g clip-path="url(#c19)"><ellipse cx="133" cy="144.8" rx="12.299999999999999" ry="8.0" opacity="0.12" transform="rotate(-45 133 144.8)" filter="url(#bl2)"/></g>
<g clip-path="url(#c20)"><ellipse cx="133" cy="144.8" rx="9.184" ry="5.1" opacity="1" transform="rotate(-45 133 144.8)" filter="url(#bl)"/></g>
<g clip-path="url(#c21)"><ellipse cx="165" cy="113.1" rx="4.5" ry="1.7" opacity="0.5" transform="rotate(-18 165 113.1)" filter="url(#bl)"/></g>
<path d="M150.9 140.5L162.4 127.5" stroke="#000" stroke-width="2.2" stroke-linecap="round" opacity="0.21" filter="url(#bl)"/>
<path transform="scale(.5)" d="M0 0m300 209h1m-51 4h1m80 5h1m-12 1h1m4 0h1m7 0h1m5 0h1m-18 1h1m-3 1h1m0 0h1m12 0h1m0 0h1m1 0h1m-82 1h1m62 0h1m6 0h1m6 0h1m-11 1h1m3 0h1m8 0h1m-24 1h1m5 0h1m1 0h1m5 0h1m3 0h1m0 0h1m1 0h1m-17 1h1m0 0h1m5 0h1m11 0h1m-27 1h1m5 0h1m2 0h1m2 0h1m2 0h1m0 0h1m0 0h1m8 0h1m-24 1h1m3 0h1m2 0h1m1 0h1m0 0h1m1 0h1m0 0h1m0 0h1m1 0h1m0 0h1m2 0h1m2 0h1m-18 1h1m0 0h1m2 0h1m2 0h1m2 0h1m3 0h1m1 0h1m-27 1h1m5 0h1m3 0h1m2 0h1m3 0h1m0 0h1m5 0h1m3 0h1m1 0h1m-28 1h1m8 0h1m7 0h1m2 0h1m-18 1h1m3 0h1m1 0h1m0 0h1m3 0h1m1 0h1m0 0h1m0 0h1m-25 1h1m2 0h1m3 0h1m3 0h1m4 0h1m0 0h1m2 0h1m0 0h1m2 0h1m1 0h1m3 0h1m-25 1h1m3 0h1m1 0h1m1 0h1m3 0h1m1 0h1m-9 1h1m5 0h1m-15 1h1m2 0h1m3 0h1m0 0h1m3 0h1m0 0h1m4 0h1m-84 1h1m65 0h1m6 0h1m1 0h1m2 0h1m1 0h1m0 0h1m2 0h1m-20 1h1m13 0h1m0 0h1m0 0h1m-55 1h1m36 0h1m5 0h1m2 0h1m0 0h1m1 0h1m-19 1h1m11 0h1m12 0h1m0 0h1m-51 1h1m9 0h1m21 0h1m6 0h1m0 0h1m0 0h1m-42 1h1m10 0h1m23 0h1m0 0h1m1 0h1m2 0h1m2 0h1m3 0h1m-49 1h1m30 1h1m2 0h1m2 0h1m-20 1h1m7 0h1m0 0h1m1 0h1m1 0h1m0 0h1m6 0h1m-61 1h1m43 0h1m4 0h1m1 0h1m3 1h1m-54 1h1m18 0h1m16 0h1m0 0h1m12 0h1m3 0h1m-43 1h1m27 0h1m5 0h1m-2 1h1m1 0h1m0 0h1m1 0h1m4 0h1m-33 1h1m20 0h1m0 0h1m-8 1h1m0 0h1m1 0h1m6 0h1m2 0h1m-31 1h1m16 0h1m0 0h1m0 0h1m1 0h1m-25 1h1m15 0h1m2 0h1m4 0h1m0 0h1m4 0h1m4 0h1m11 0h1m-31 1h1m2 0h1m5 0h1m3 0h1m11 0h1m0 0h1m0 0h1m-46 1h1m2 0h1m3 0h1m4 0h1m1 0h1m6 0h1m2 0h1m5 0h1m4 0h1m2 0h1m4 0h1m1 0h1m-33 1h1m2 0h1m1 0h1m1 0h1m0 0h1m0 0h1m1 0h1m18 0h1m1 0h1m1 0h1m-60 1h1m32 0h1m8 0h1m7 0h1m7 0h1m0 0h1m0 0h1m-38 1h1m1 0h1m6 0h1m4 0h1m13 0h1m1 0h1m0 0h1m0 0h1m1 0h1m0 0h1m1 0h1m0 0h1m1 0h1m-70 1h1m8 0h1m15 0h1m3 0h1m2 0h1m7 0h1m1 0h1m17 0h1m0 0h1m1 0h1m0 0h1m1 0h1m-54 1h1m14 0h1m3 0h1m0 0h1m1 0h1m3 0h1m15 0h1m2 0h1m0 0h1m0 0h1m1 0h1m-69 1h1m0 0h1m18 0h1m14 0h1m0 0h1m0 0h1m8 0h1m0 0h1m1 0h1m10 0h1m6 0h1m1 0h1m1 0h1m-66 1h1m1 0h1m11 0h1m0 0h1m11 0h1m6 0h1m0 0h1m20 0h1m3 0h1m0 0h1m-47 1h1m5 0h1m8 0h1m23 0h1m0 0h1m1 0h1m1 0h1m0 0h1m0 0h1m1 0h1m-72 1h1m39 0h1m0 0h1m1 0h1m6 0h1m11 0h1m0 0h1m3 0h1m4 0h1m-64 1h1m21 0h1m0 0h1m2 0h1m1 0h1m0 0h1m0 0h1m21 0h1m0 0h1m0 0h1m0 0h1m0 0h1m1 0h1m4 0h1m-64 1h1m5 0h1m5 0h1m7 0h1m3 0h1m1 0h1m4 0h1m1 0h1m15 0h1m1 0h1m0 0h1m0 0h1m3 0h1m3 0h1m-81 1h1m25 0h1m0 0h1m13 0h1m0 0h1m3 0h1m0 0h1m0 0h1m0 0h1m0 0h1m5 0h1m3 0h1m6 0h1m0 0h1m1 0h1m1 0h1m1 0h1m1 0h1m-63 1h1m9 0h1m9 0h1m2 0h1m2 0h1m2 0h1m5 0h1m7 0h1m7 0h1m3 0h1m0 0h1m0 0h1m0 0h1m0 0h1m-51 1h1m6 0h1m0 0h1m10 0h1m3 0h1m0 0h1m1 0h1m3 0h1m0 0h1m7 0h1m1 0h1m2 0h1m1 0h1m2 0h1m0 0h1m-43 1h1m1 0h1m0 0h1m2 0h1m1 0h1m4 0h1m0 0h1m0 0h1m5 0h1m5 0h1m5 0h1m4 0h1m0 0h1m-60 1h1m6 0h1m5 0h1m1 0h1m5 0h1m2 0h1m5 0h1m0 0h1m1 0h1m1 0h1m1 0h1m0 0h1m1 0h1m15 0h1m0 0h1m2 0h1m0 0h1m0 0h1m-51 1h1m5 0h1m3 0h1m0 0h1m5 0h1m0 0h1m0 0h1m8 0h1m11 0h1m2 0h1m0 0h1m0 0h1m0 0h1m2 0h1m-50 1h1m9 0h1m9 0h1m2 0h1m0 0h1m0 0h1m0 0h1m10 0h1m3 0h1m0 0h1m0 0h1m2 0h1m-48 1h1m1 0h1m2 0h1m2 0h1m4 0h1m2 0h1m1 0h1m1 0h1m3 0h1m5 0h1m15 0h1m-43 1h1m3 0h1m2 0h1m3 0h1m0 0h1m3 0h1m0 0h1m0 0h1m4 0h1m10 0h1m0 0h1m0 0h1m0 0h1m2 0h1m1 0h1m0 0h1m-65 1h1m3 0h1m0 0h1m1 0h1m2 0h1m0 0h1m3 0h1m5 0h1m3 0h1m1 0h1m4 0h1m0 0h1m3 0h1m17 0h1m0 0h1m0 0h1m2 0h1m0 0h1m3 0h1m-55 1h1m5 0h1m1 0h1m0 0h1m1 0h1m3 0h1m3 0h1m0 0h1m0 0h1m0 0h1m4 0h1m4 0h1m7 0h1m3 0h1m2 0h1m0 0h1m1 0h1m-69 1h1m18 0h1m4 0h1m7 0h1m2 0h1m2 0h1m0 0h1m3 0h1m0 0h1m0 0h1m19 0h1m0 0h1m0 0h1m0 0h1m0 0h1m0 0h1m-60 1h1m1 0h1m5 0h1m4 0h1m2 0h1m3 0h1m3 0h1m1 0h1m0 0h1m1 0h1m0 0h1m5 0h1m2 0h1m10 0h1m3 0h1m6 0h1m-61 1h1m6 0h1m3 0h1m5 0h1m2 0h1m6 0h1m0 0h1m0 0h1m5 0h1m7 0h1m5 0h1m2 0h1m1 0h1m1 0h1m-53 1h1m2 0h1m0 0h1m2 0h1m2 0h1m3 0h1m3 0h1m0 0h1m0 0h1m2 0h1m0 0h1m12 0h1m2 0h1m7 0h1m0 0h1m3 0h1m8 0h1m-71 1h1m14 0h1m6 0h1m0 0h1m0 0h1m0 0h1m0 0h1m0 0h1m4 0h1m0 0h1m11 0h1m9 0h1m-62 1h1m4 0h1m4 0h1m4 0h1m3 0h1m5 0h1m6 0h1m0 0h1m7 0h1m20 0h1m3 0h1m5 0h1m-68 1h1m10 0h1m0 0h1m9 0h1m2 0h1m1 0h1m3 0h1m4 0h1m1 0h1m-29 1h1m4 0h1m2 0h1m0 0h1m4 0h1m2 0h1m2 0h1m1 0h1m1 0h1m2 0h1m1 0h1m46 0h1m-83 1h1m2 0h1m1 0h1m5 0h1m2 0h1m0 0h1m2 0h1m0 0h1m0 0h1m0 0h1m0 0h1m1 0h1m1 0h1m11 0h1m-51 1h1m7 0h1m4 0h1m2 0h1m2 0h1m1 0h1m1 0h1m7 0h1m1 0h1m1 0h1m0 0h1m0 0h1m0 0h1m0 0h1m9 0h1m-46 1h1m1 0h1m3 0h1m6 0h1m2 0h1m0 0h1m0 0h1m2 0h1m2 0h1m6 0h1m1 0h1m1 0h1m3 0h1m13 0h1m-53 1h1m0 0h1m5 0h1m1 0h1m5 0h1m1 0h1m0 0h1m0 0h1m0 0h1m0 0h1m11 0h1m0 0h1m0 0h1m1 0h1m0 0h1m18 0h1m-64 1h1m0 0h1m11 0h1m1 0h1m2 0h1m5 0h1m3 0h1m1 0h1m2 0h1m0 0h1m2 0h1m0 0h1m1 0h1m21 0h1m-47 1h1m0 0h1m3 0h1m1 0h1m0 0h1m1 0h1m1 0h1m5 0h1m5 0h1m0 0h1m0 0h1m0 0h1m0 0h1m0 0h1m8 0h1m-46 1h1m9 0h1m1 0h1m1 0h1m1 0h1m0 0h1m2 0h1m0 0h1m3 0h1m6 0h1m0 0h1m10 0h1m5 0h1m-60 1h1m3 0h1m4 0h1m11 0h1m1 0h1m0 0h1m2 0h1m2 0h1m0 0h1m5 0h1m0 0h1m2 0h1m3 0h1m1 0h1m3 0h1m6 0h1m-55 1h1m11 0h1m1 0h1m1 0h1m0 0h1m4 0h1m0 0h1m3 0h1m5 0h1m0 0h1m10 0h1m-39 1h1m9 0h1m0 0h1m3 0h1m3 0h1m0 0h1m0 0h1m0 0h1m2 0h1m1 0h1m2 0h1m2 0h1m1 0h1m-41 1h1m1 0h1m11 0h1m0 0h1m0 0h1m1 0h1m8 0h1m1 0h1m5 0h1m1 0h1m0 0h1m13 0h1m-56 1h1m13 0h1m5 0h1m0 0h1m0 0h1m2 0h1m0 0h1m0 0h1m0 0h1m7 0h1m3 0h1m0 0h1m22 0h1m-61 1h1m6 0h1m0 0h1m3 0h1m1 0h1m5 0h1m1 0h1m0 0h1m1 0h1m0 0h1m1 0h1m2 0h1m0 0h1m4 0h1m0 0h1m-33 1h1m0 0h1m1 0h1m8 0h1m1 0h1m1 0h1m6 0h1m-32 1h1m6 0h1m3 0h1m1 0h1m9 0h1m0 0h1m3 0h1m0 0h1m1 0h1m3 0h1m6 0h1m-43 1h1m3 0h1m0 0h1m2 0h1m0 0h1m12 0h1m5 0h1m2 0h1m-26 1h1m3 0h1m9 0h1m2 0h1m1 0h1m3 0h1m-26 1h1m4 0h1m10 0h1m5 0h1m4 0h1m11 0h1m-33 1h1m0 0h1m7 0h1m15 0h1m-36 1h1m3 0h1m19 0h1m2 0h1m15 0h1m-50 1h1m3 0h1m20 0h1m7 0h1m33 0h1m-58 1h1m2 0h1m8 0h1m16 0h1m-38 1h1m8 0h1m0 0h1m0 0h1m9 0h1m1 0h1m0 0h1m4 0h1m-14 1h1" stroke="#000" stroke-width="1.3" stroke-opacity="0.35" fill="none"/>
<g clip-path="url(#c22)"><ellipse cx="243.5" cy="70.3" rx="13.5" ry="7.2" opacity="0.12" transform="rotate(-55 243.5 70.3)" filter="url(#bl2)"/></g>
<g clip-path="url(#c23)"><path d="M250.3 60.6L250.7 61.3L250.7 62.8L250.3 64.8L249.6 67.3L248.6 70.1L247.4 73.0L245.8 75.0L244.0 76.7L242.2 78.0L240.5 78.7L239.0 78.8L237.8 78.4L237.0 77.4L236.6 76.0L236.7 74.1L237.3 72.0L238.3 69.8L239.6 67.6L241.9 65.4L244.2 63.6L246.4 62.0L248.1 61.0L249.5 60.5Z" opacity="1" filter="url(#bl)"/></g>
<g clip-path="url(#c24)"><ellipse cx="279.1" cy="38.5" rx="3.5" ry="1.3" opacity="0.45" transform="rotate(-35 279.1 38.5)" filter="url(#bl)"/></g>
<path d="M259.0 56.7L282.1 35.0" stroke="#000" stroke-width=".7" opacity="0.35"/>
<path d="M265.5 65.7L275.5 55.2" stroke="#000" stroke-width="2.2" stroke-linecap="round" opacity="0.036" filter="url(#bl)"/>
<path transform="scale(.5)" d="M0 0m486 65h1m76 3h1m-12 2h1m7 0h1m-77 2h1m67 1h1m5 1h1m8 0h1m-16 1h1m-1 1h1m2 0h1m5 0h1m-52 2h1m37 0h1m5 0h1m0 0h1m2 1h1m-14 1h1m2 0h1m3 0h1m1 0h1m-12 1h1m4 0h1m10 0h1m3 0h1m1 0h1m-16 1h1m0 0h1m2 0h1m2 0h1m-18 1h1m4 0h1m7 0h1m-9 1h1m7 0h1m-66 1h1m56 0h1m1 0h1m6 0h1m-15 1h1m2 0h1m3 0h1m2 0h1m6 1h1m-13 1h1m2 0h1m1 0h1m0 0h1m6 0h1m-22 1h1m10 1h1m-9 1h1m-6 1h1m0 0h1m1 0h1m3 0h1m7 0h1m-13 1h1m7 0h1m-27 1h1m16 0h1m3 0h1m-4 1h1m2 0h1m-34 2h1m21 0h1m3 0h1m2 0h1m-48 1h1m38 0h1m-4 2h1m11 0h1m-51 1h1m4 0h1m32 0h1m7 0h1m-28 1h1m4 0h1m3 0h1m-18 1h1m10 0h1m0 0h1m13 0h1m7 0h1m1 0h1m-24 1h1m8 0h1m0 0h1m3 0h1m-43 2h1m19 0h1m16 0h1m4 0h1m10 0h1m-18 1h1m0 0h1m8 0h1m-30 1h1m18 0h1m1 0h1m-51 1h1m1 0h1m14 0h1m19 0h1m39 0h1m18 0h1m-93 1h1m2 0h1m11 0h1m13 0h1m2 0h1m1 0h1m0 0h1m1 0h1m12 0h1m-39 1h1m9 0h1m2 0h1m14 0h1m0 0h1m4 0h1m0 0h1m24 0h1m3 0h1m-67 1h1m3 0h1m5 0h1m7 0h1m10 0h1m8 0h1m4 0h1m-43 1h1m8 0h1m20 0h1m-32 1h1m22 0h1m1 0h1m2 0h1m2 0h1m3 0h1m4 0h1m1 0h1m-34 1h1m3 0h1m12 0h1m5 0h1m2 0h1m20 0h1m-51 1h1m5 0h1m1 0h1m0 0h1m2 0h1m1 0h1m0 0h1m8 0h1m-35 1h1m3 0h1m3 0h1m0 0h1m16 0h1m0 0h1m0 0h1m1 0h1m0 0h1m0 0h1m30 0h1m-58 1h1m7 0h1m3 0h1m6 0h1m3 0h1m0 0h1m0 0h1m0 0h1m1 0h1m29 0h1m-73 1h1m4 0h1m0 0h1m5 0h1m22 0h1m22 0h1m3 0h1m-55 1h1m2 0h1m1 0h1m9 0h1m2 0h1m7 0h1m1 0h1m0 0h1m0 0h1m10 0h1m-37 1h1m9 0h1m1 0h1m7 0h1m3 0h1m1 0h1m-33 1h1m18 0h1m0 0h1m5 0h1m0 0h1m7 0h1m23 0h1m6 0h1m-69 1h1m7 0h1m5 0h1m8 0h1m2 0h1m3 0h1m27 0h1m-56 1h1m4 0h1m12 0h1m4 0h1m0 0h1m0 0h1m1 0h1m-22 1h1m6 0h1m8 0h1m1 0h1m2 0h1m0 0h1m1 0h1m26 0h1m0 0h1m0 0h1m2 0h1m-64 1h1m2 0h1m6 0h1m0 0h1m3 0h1m0 0h1m2 0h1m0 0h1m3 0h1m7 0h1m23 0h1m0 0h1m3 0h1m-75 1h1m5 0h1m3 0h1m8 0h1m2 0h1m2 0h1m1 0h1m0 0h1m2 0h1m0 0h1m2 0h1m2 0h1m1 0h1m7 0h1m12 0h1m1 0h1m-58 1h1m1 0h1m6 0h1m4 0h1m0 0h1m13 0h1m0 0h1m2 0h1m0 0h1m30 0h1m-67 1h1m6 0h1m5 0h1m2 0h1m4 0h1m8 0h1m3 0h1m0 0h1m5 0h1m18 0h1m-50 1h1m1 0h1m2 0h1m1 0h1m4 0h1m0 0h1m0 0h1m6 0h1m1 0h1m24 0h1m1 0h1m-53 1h1m1 0h1m2 0h1m3 0h1m0 0h1m0 0h1m1 0h1m1 0h1m0 0h1m0 0h1m1 0h1m3 0h1m26 0h1m-55 1h1m0 0h1m10 0h1m6 0h1m1 0h1m0 0h1m0 0h1m-26 1h1m1 0h1m0 0h1m2 0h1m1 0h1m1 0h1m1 0h1m2 0h1m1 0h1m2 0h1m3 0h1m0 0h1m3 0h1m0 0h1m0 0h1m0 0h1m-39 1h1m5 0h1m2 0h1m0 0h1m0 0h1m3 0h1m0 0h1m3 0h1m2 0h1m1 0h1m1 0h1m2 0h1m1 0h1m0 0h1m6 0h1m-27 1h1m0 0h1m7 0h1m1 0h1m0 0h1m0 0h1m0 0h1m0 0h1m1 0h1m0 0h1m5 0h1m3 0h1m3 0h1m-45 1h1m0 0h1m1 0h1m4 0h1m1 0h1m2 0h1m0 0h1m2 0h1m1 0h1m2 0h1m0 0h1m9 0h1m-32 1h1m2 0h1m2 0h1m1 0h1m1 0h1m3 0h1m7 0h1m1 0h1m0 0h1m7 0h1m-38 1h1m6 0h1m0 0h1m5 0h1m0 0h1m1 0h1m3 0h1m0 0h1m6 0h1m3 0h1m0 0h1m6 0h1m-37 1h1m5 0h1m0 0h1m0 0h1m0 0h1m0 0h1m0 0h1m2 0h1m5 0h1m0 0h1m4 0h1m3 0h1m5 0h1m-45 1h1m9 0h1m4 0h1m0 0h1m0 0h1m1 0h1m0 0h1m6 0h1m3 0h1m2 0h1m0 0h1m3 0h1m4 0h1m30 0h1m-69 1h1m8 0h1m2 0h1m0 0h1m0 0h1m2 0h1m0 0h1m9 0h1m0 0h1m1 0h1m-37 1h1m5 0h1m6 0h1m2 0h1m0 0h1m2 0h1m1 0h1m2 0h1m1 0h1m0 0h1m3 0h1m27 0h1m-60 1h1m5 0h1m2 0h1m3 0h1m2 0h1m0 0h1m2 0h1m1 0h1m5 0h1m1 0h1m1 0h1m44 0h1m-75 1h1m14 0h1m1 0h1m5 0h1m0 0h1m9 0h1m-39 1h1m5 0h1m1 0h1m2 0h1m0 0h1m0 0h1m0 0h1m1 0h1m0 0h1m1 0h1m6 0h1m-21 1h1m1 0h1m0 0h1m1 0h1m0 0h1m2 0h1m4 0h1m0 0h1m4 0h1m0 0h1m2 0h1m3 0h1m-37 1h1m3 0h1m7 0h1m1 0h1m0 0h1m0 0h1m1 0h1m0 0h1m0 0h1m2 0h1m10 0h1m0 0h1m-26 1h1m2 0h1m1 0h1m8 0h1m1 0h1m4 0h1m7 0h1m-39 1h1m4 0h1m2 0h1m2 0h1m0 0h1m0 0h1m8 0h1m14 0h1m-33 1h1m2 0h1m0 0h1m1 0h1m0 0h1m1 0h1m0 0h1m0 0h1m1 0h1m-20 1h1m3 0h1m2 0h1m4 0h1m0 0h1m4 0h1m0 0h1m0 0h1m5 0h1m-24 1h1m2 0h1m5 0h1m1 0h1m4 0h1m0 0h1m10 0h1m-32 1h1m0 0h1m11 0h1m2 0h1m2 0h1m1 0h1m11 0h1m7 0h1m-39 1h1m5 0h1m1 0h1m2 0h1m7 0h1m1 0h1m1 0h1m6 0h1m-30 1h1m9 0h1m3 0h1m0 0h1m7 0h1m0 0h1m0 0h1m8 0h1m3 0h1m-40 1h1m11 0h1m1 0h1m3 0h1m2 0h1m3 0h1m0 0h1m-18 1h1m1 0h1m8 0h1m2 0h1m3 0h1m42 0h1m-69 1h1m3 0h1m4 0h1m1 0h1m5 0h1m26 0h1m-48 1h1m5 0h1m0 0h1m12 0h1m1 0h1m4 0h1" stroke="#000" stroke-width="1.3" stroke-opacity="0.35" fill="none"/>
<g clip-path="url(#c25)"><ellipse cx="311.6" cy="67.9" rx="15.75" ry="7.2" opacity="0.12" transform="rotate(-58 311.6 67.9)" filter="url(#bl2)"/></g>
<g clip-path="url(#c26)"><path d="M318.9 56.1L319.3 56.9L319.3 58.5L318.8 60.9L318.0 63.8L317.0 67.0L315.6 70.4L313.9 72.9L312.0 75.0L310.1 76.6L308.3 77.6L306.7 78.0L305.5 77.7L304.7 76.7L304.3 75.1L304.4 73.1L305.1 70.6L306.1 68.0L307.6 65.4L310.0 62.7L312.5 60.3L314.8 58.3L316.7 56.9L318.1 56.1Z" opacity="1" filter="url(#bl)"/></g>
<g clip-path="url(#c27)"><ellipse cx="346.5" cy="38.5" rx="3.5" ry="1.3" opacity="0.45" transform="rotate(-35 346.5 38.5)" filter="url(#bl)"/></g>
<path d="M326.0 56.9L349.5 35.0" stroke="#000" stroke-width=".7" opacity="0.35"/>
<path d="M332.5 65.9L342.5 55.4" stroke="#000" stroke-width="2.2" stroke-linecap="round" opacity="0.036" filter="url(#bl)"/>
<path transform="scale(.5)" d="M0 0m642 64h1m4 3h1m19 0h1m-62 1h1m78 0h1m-74 2h1m77 2h1m2 0h1m-7 3h1m12 0h1m-64 1h1m40 0h1m11 0h1m1 0h1m6 0h1m1 0h1m1 1h1m-64 1h1m46 0h1m-1 2h1m1 0h1m0 0h1m1 0h1m0 0h1m-12 1h1m3 0h1m4 0h1m3 0h1m6 0h1m-17 1h1m4 0h1m9 0h1m-13 1h1m0 0h1m-57 1h1m0 0h1m6 0h1m15 0h1m4 0h1m16 0h1m3 0h1m2 0h1m-57 1h1m20 0h1m27 0h1m0 0h1m-44 1h1m9 0h1m29 0h1m2 0h1m2 0h1m-44 1h1m5 0h1m2 0h1m26 0h1m11 0h1m-15 1h1m3 0h1m0 0h1m6 0h1m-17 1h1m6 0h1m1 0h1m0 0h1m13 0h1m-13 1h1m11 0h1m-18 1h1m-43 1h1m10 0h1m21 1h1m5 0h1m-20 1h1m14 0h1m7 0h1m-53 1h1m52 0h1m-39 1h1m21 0h1m9 0h1m-37 1h1m5 0h1m22 0h1m1 0h1m4 0h1m-33 1h1m20 0h1m-40 1h1m16 0h1m1 0h1m4 0h1m12 0h1m1 0h1m-34 1h1m1 0h1m13 0h1m2 0h1m3 0h1m8 0h1m1 0h1m10 0h1m-40 1h1m6 0h1m0 0h1m5 0h1m14 0h1m-12 1h1m1 0h1m4 0h1m3 0h1m-38 1h1m2 0h1m16 0h1m3 0h1m1 0h1m0 0h1m3 0h1m0 0h1m0 0h1m1 0h1m-45 1h1m1 0h1m5 0h1m8 0h1m2 0h1m4 0h1m21 0h1m-40 1h1m32 0h1m6 0h1m-21 1h1m6 0h1m0 0h1m7 0h1m-31 1h1m6 0h1m4 0h1m19 0h1m2 0h1m-40 1h1m0 0h1m5 0h1m5 0h1m7 0h1m1 0h1m-19 1h1m3 0h1m8 0h1m2 0h1m0 0h1m29 0h1m-64 1h1m11 0h1m14 0h1m1 0h1m6 0h1m0 0h1m5 0h1m19 0h1m-34 1h1m2 0h1m7 0h1m-35 1h1m10 0h1m4 0h1m6 0h1m1 0h1m1 0h1m26 0h1m2 0h1m1 0h1m-81 1h1m10 0h1m11 0h1m5 0h1m3 0h1m1 0h1m1 0h1m1 0h1m3 0h1m4 0h1m0 0h1m3 0h1m0 0h1m3 0h1m19 0h1m2 0h1m-76 1h1m23 0h1m0 0h1m0 0h1m2 0h1m3 0h1m6 0h1m31 0h1m2 0h1m-67 1h1m7 0h1m0 0h1m0 0h1m8 0h1m8 0h1m30 0h1m-51 1h1m0 0h1m4 0h1m2 0h1m0 0h1m7 0h1m1 0h1m2 0h1m8 0h1m15 0h1m-57 1h1m8 0h1m0 0h1m3 0h1m0 0h1m14 0h1m-32 1h1m0 0h1m2 0h1m2 0h1m0 0h1m1 0h1m1 0h1m1 0h1m0 0h1m2 0h1m4 0h1m2 0h1m32 0h1m0 0h1m-60 1h1m5 0h1m7 0h1m1 0h1m10 0h1m6 0h1m19 0h1m-69 1h1m1 0h1m6 0h1m6 0h1m1 0h1m2 0h1m0 0h1m3 0h1m1 0h1m0 0h1m1 0h1m2 0h1m1 0h1m0 0h1m2 0h1m1 0h1m29 0h1m-61 1h1m6 0h1m3 0h1m0 0h1m2 0h1m1 0h1m0 0h1m6 0h1m0 0h1m-24 1h1m1 0h1m1 0h1m0 0h1m2 0h1m1 0h1m5 0h1m1 0h1m2 0h1m-26 1h1m5 0h1m1 0h1m1 0h1m1 0h1m1 0h1m2 0h1m3 0h1m0 0h1m8 0h1m-36 1h1m5 0h1m1 0h1m4 0h1m2 0h1m1 0h1m0 0h1m1 0h1m0 0h1m34 0h1m5 0h1m-63 1h1m7 0h1m0 0h1m0 0h1m3 0h1m2 0h1m2 0h1m0 0h1m0 0h1m2 0h1m24 0h1m6 0h1m-55 1h1m3 0h1m1 0h1m0 0h1m0 0h1m0 0h1m1 0h1m1 0h1m0 0h1m0 0h1m1 0h1m4 0h1m0 0h1m2 0h1m20 0h1m-50 1h1m1 0h1m1 0h1m2 0h1m2 0h1m2 0h1m4 0h1m0 0h1m0 0h1m0 0h1m2 0h1m6 0h1m5 0h1m1 0h1m15 0h1m-58 1h1m2 0h1m5 0h1m0 0h1m3 0h1m1 0h1m0 0h1m1 0h1m0 0h1m1 0h1m1 0h1m3 0h1m2 0h1m0 0h1m17 0h1m3 0h1m5 0h1m-59 1h1m4 0h1m3 0h1m2 0h1m1 0h1m2 0h1m2 0h1m0 0h1m3 0h1m3 0h1m-30 1h1m2 0h1m4 0h1m4 0h1m5 0h1m0 0h1m7 0h1m20 0h1m5 0h1m-49 1h1m1 0h1m1 0h1m0 0h1m3 0h1m9 0h1m1 0h1m-32 1h1m3 0h1m0 0h1m0 0h1m1 0h1m0 0h1m2 0h1m0 0h1m5 0h1m0 0h1m1 0h1m14 0h1m-32 1h1m0 0h1m4 0h1m0 0h1m2 0h1m1 0h1m1 0h1m2 0h1m6 0h1m-28 1h1m2 0h1m1 0h1m0 0h1m0 0h1m1 0h1m0 0h1m3 0h1m9 0h1m2 0h1m1 0h1m-38 1h1m1 0h1m6 0h1m7 0h1m0 0h1m1 0h1m1 0h1m5 0h1m6 0h1m4 0h1m-37 1h1m6 0h1m3 0h1m4 0h1m5 0h1m2 0h1m13 0h1m-37 1h1m9 0h1m1 0h1m2 0h1m1 0h1m2 0h1m17 0h1m-46 1h1m5 0h1m0 0h1m2 0h1m3 0h1m1 0h1m1 0h1m0 0h1m2 0h1m2 0h1m1 0h1m-15 1h1m6 0h1m0 0h1m1 0h1m-24 1h1m4 0h1m3 0h1m2 0h1m1 0h1m3 0h1m0 0h1m0 0h1m6 0h1m-18 1h1m0 0h1m1 0h1m0 0h1m3 0h1m0 0h1m8 0h1m2 0h1m8 0h1m-41 1h1m0 0h1m8 0h1m0 0h1m0 0h1m3 0h1m1 0h1m2 0h1m14 0h1m-36 1h1m1 0h1m1 0h1m0 0h1m0 0h1m1 0h1m1 0h1m3 0h1m0 0h1m1 0h1m0 0h1m0 0h1m3 0h1m20 0h1m-47 1h1m6 0h1m5 0h1m2 0h1m-14 1h1m9 0h1m0 0h1m0 0h1m4 0h1m0 0h1m-12 1h1m5 0h1m0 0h1m2 0h1m-19 1h1m4 0h1m4 0h1m2 0h1m4 0h1m0 0h1m14 0h1m-34 1h1m9 0h1m1 0h1m0 0h1m0 0h1m0 0h1m4 0h1m-23 1h1m10 0h1m0 0h1m1 0h1m0 0h1m3 0h1m3 0h1m1 0h1m-27 1h1m4 0h1m4 0h1m1 0h1m0 0h1m0 0h1m0 0h1m10 0h1m-24 1h1m8 0h1m-14 1h1m2 0h1m7 0h1m0 0h1m0 0h1m4 0h1m54 0h1m-71 1h1m1 0h1m1 0h1m4 0h1m2 0h1m0 0h1m0 0h1m2 0h1m-22 1h1m10 0h1m3 0h1m1 0h1m2 0h1m2 0h1m5 0h1m-27 1h1m3 0h1m13 0h1m20 0h1m-23 1h1m-18 1h1m0 0h1m3 0h1m1 0h1m4 0h1m1 0h1m1 0h1m5 0h1m7 0h1m-23 1h1m1 0h1m-13 1h1m11 0h1" stroke="#000" stroke-width="1.3" stroke-opacity="0.35" fill="none"/>
<g clip-path="url(#c28)"><ellipse cx="245.3" cy="141.4" rx="15.0" ry="7.2" opacity="0.12" transform="rotate(-57 245.3 141.4)" filter="url(#bl2)"/></g>
<g clip-path="url(#c29)"><path d="M252.5 130.3L252.9 131.1L252.8 132.7L252.4 134.9L251.6 137.6L250.6 140.8L249.3 144.0L247.6 146.3L245.7 148.2L243.9 149.7L242.1 150.7L240.5 151.0L239.3 150.6L238.5 149.6L238.1 148.1L238.3 146.1L238.9 143.8L239.9 141.3L241.3 138.8L243.7 136.3L246.1 134.1L248.4 132.3L250.2 131.0L251.6 130.3Z" opacity="1" filter="url(#bl)"/></g>
<g clip-path="url(#c30)"><ellipse cx="279.1" cy="112.8" rx="3.5" ry="1.3" opacity="0.45" transform="rotate(-35 279.1 112.8)" filter="url(#bl)"/></g>
<path d="M259.0 131.3L282.1 109.3" stroke="#000" stroke-width=".7" opacity="0.35"/>
<path d="M265.5 140.3L275.5 129.8" stroke="#000" stroke-width="2.2" stroke-linecap="round" opacity="0.036" filter="url(#bl)"/>
<path transform="scale(.5)" d="M0 0m505 209h1m16 2h1m-49 5h1m45 3h1m43 0h1m-33 2h1m-28 1h1m44 0h1m2 1h1m3 0h1m-59 1h1m64 0h1m-54 1h1m39 0h1m1 0h1m-8 1h1m1 0h1m3 0h1m0 1h1m2 0h1m1 1h1m-65 1h1m15 0h1m42 0h1m0 0h1m0 0h1m-29 1h1m15 0h1m7 0h1m1 0h1m2 0h1m-6 1h1m0 0h1m1 0h1m1 0h1m-12 1h1m1 0h1m0 0h1m1 0h1m0 0h1m1 0h1m4 0h1m-16 1h1m2 0h1m3 0h1m0 0h1m1 0h1m0 0h1m8 0h1m4 0h1m-25 1h1m1 0h1m4 0h1m5 0h1m-16 1h1m2 0h1m1 0h1m0 0h1m0 0h1m1 0h1m1 0h1m-46 1h1m5 0h1m8 0h1m15 0h1m10 0h1m3 0h1m1 0h1m-8 1h1m-46 2h1m9 0h1m23 0h1m1 0h1m4 0h1m0 0h1m5 0h1m-46 1h1m32 0h1m0 0h1m1 0h1m0 0h1m5 0h1m-52 1h1m7 0h1m3 0h1m27 0h1m0 0h1m2 0h1m-5 1h1m2 0h1m8 0h1m-49 1h1m32 0h1m2 0h1m4 0h1m-44 1h1m11 0h1m6 0h1m8 0h1m5 0h1m4 0h1m-44 1h1m11 0h1m26 0h1m1 0h1m-46 1h1m4 0h1m31 0h1m1 0h1m1 0h1m2 0h1m2 0h1m-54 1h1m9 0h1m26 0h1m6 0h1m3 0h1m-55 1h1m16 0h1m7 0h1m10 0h1m10 0h1m1 0h1m1 0h1m0 0h1m-32 1h1m15 0h1m0 0h1m17 0h1m-47 1h1m15 0h1m18 0h1m5 0h1m-42 1h1m34 0h1m9 0h1m-35 1h1m6 0h1m0 0h1m2 0h1m19 0h1m-48 1h1m12 0h1m12 0h1m3 0h1m2 0h1m4 0h1m-35 1h1m2 0h1m0 0h1m2 0h1m6 0h1m18 0h1m0 0h1m7 0h1m-45 1h1m5 0h1m7 0h1m20 0h1m0 0h1m5 0h1m-18 1h1m4 0h1m-11 1h1m2 0h1m7 0h1m2 0h1m-28 1h1m4 0h1m1 0h1m6 0h1m4 0h1m3 0h1m4 0h1m2 0h1m17 0h1m-67 1h1m15 0h1m1 0h1m8 0h1m2 0h1m9 0h1m1 0h1m27 0h1m0 0h1m-53 1h1m0 0h1m1 0h1m12 0h1m-24 1h1m2 0h1m1 0h1m0 0h1m9 0h1m0 0h1m0 0h1m6 0h1m29 0h1m-53 1h1m11 0h1m5 0h1m1 0h1m36 0h1m-61 1h1m5 0h1m9 0h1m8 0h1m3 0h1m0 0h1m22 0h1m0 0h1m-48 1h1m9 0h1m3 0h1m1 0h1m0 0h1m3 0h1m25 0h1m1 0h1m-80 1h1m12 0h1m17 0h1m3 0h1m1 0h1m0 0h1m3 0h1m0 0h1m0 0h1m0 0h1m-37 1h1m8 0h1m0 0h1m2 0h1m3 0h1m0 0h1m3 0h1m0 0h1m3 0h1m2 0h1m1 0h1m0 0h1m0 0h1m1 0h1m0 0h1m1 0h1m-32 1h1m1 0h1m9 0h1m0 0h1m3 0h1m2 0h1m0 0h1m2 0h1m2 0h1m0 0h1m10 0h1m19 0h1m1 0h1m-56 1h1m2 0h1m3 0h1m0 0h1m1 0h1m2 0h1m1 0h1m4 0h1m1 0h1m5 0h1m-25 1h1m1 0h1m0 0h1m0 0h1m0 0h1m0 0h1m3 0h1m2 0h1m0 0h1m2 0h1m29 0h1m1 0h1m-76 1h1m12 0h1m10 0h1m0 0h1m0 0h1m3 0h1m8 0h1m4 0h1m24 0h1m5 0h1m-61 1h1m2 0h1m2 0h1m4 0h1m1 0h1m1 0h1m1 0h1m1 0h1m11 0h1m4 0h1m18 0h1m5 0h1m-68 1h1m5 0h1m4 0h1m2 0h1m0 0h1m0 0h1m1 0h1m0 0h1m0 0h1m0 0h1m1 0h1m0 0h1m1 0h1m1 0h1m4 0h1m0 0h1m5 0h1m-43 1h1m15 0h1m8 0h1m2 0h1m1 0h1m1 0h1m0 0h1m0 0h1m0 0h1m-28 1h1m6 0h1m13 0h1m3 0h1m3 0h1m1 0h1m16 0h1m2 0h1m2 0h1m2 0h1m-59 1h1m1 0h1m1 0h1m8 0h1m0 0h1m0 0h1m1 0h1m0 0h1m4 0h1m2 0h1m30 0h1m-66 1h1m9 0h1m0 0h1m2 0h1m0 0h1m0 0h1m0 0h1m0 0h1m0 0h1m0 0h1m2 0h1m1 0h1m6 0h1m1 0h1m4 0h1m19 0h1m1 0h1m-54 1h1m0 0h1m3 0h1m3 0h1m0 0h1m5 0h1m9 0h1m0 0h1m2 0h1m15 0h1m3 0h1m-53 1h1m2 0h1m3 0h1m11 0h1m5 0h1m1 0h1m25 0h1m-61 1h1m5 0h1m9 0h1m4 0h1m3 0h1m2 0h1m0 0h1m-36 1h1m10 0h1m2 0h1m5 0h1m0 0h1m2 0h1m1 0h1m0 0h1m6 0h1m2 0h1m26 0h1m37 0h1m-96 1h1m4 0h1m0 0h1m3 0h1m0 0h1m1 0h1m2 0h1m8 0h1m0 0h1m5 0h1m6 0h1m17 0h1m-59 1h1m6 0h1m5 0h1m1 0h1m0 0h1m3 0h1m39 0h1m0 0h1m-65 1h1m7 0h1m2 0h1m0 0h1m1 0h1m0 0h1m2 0h1m1 0h1m0 0h1m6 0h1m1 0h1m3 0h1m-36 1h1m1 0h1m4 0h1m2 0h1m4 0h1m1 0h1m1 0h1m2 0h1m6 0h1m17 0h1m-38 1h1m3 0h1m3 0h1m0 0h1m1 0h1m2 0h1m0 0h1m12 0h1m-36 1h1m5 0h1m0 0h1m0 0h1m0 0h1m1 0h1m0 0h1m0 0h1m1 0h1m0 0h1m11 0h1m4 0h1m0 0h1m-40 1h1m13 0h1m1 0h1m2 0h1m1 0h1m3 0h1m4 0h1m1 0h1m3 0h1m10 0h1m-44 1h1m2 0h1m2 0h1m3 0h1m0 0h1m1 0h1m2 0h1m9 0h1m1 0h1m-28 1h1m0 0h1m0 0h1m1 0h1m3 0h1m1 0h1m1 0h1m0 0h1m2 0h1m0 0h1m0 0h1m2 0h1m8 0h1m13 0h1m-40 1h1m1 0h1m3 0h1m2 0h1m2 0h1m2 0h1m1 0h1m5 0h1m1 0h1m4 0h1m10 0h1m-47 1h1m7 0h1m1 0h1m3 0h1m2 0h1m1 0h1m0 0h1m0 0h1m17 0h1m-42 1h1m4 0h1m2 0h1m4 0h1m4 0h1m3 0h1m0 0h1m7 0h1m-29 1h1m3 0h1m0 0h1m1 0h1m1 0h1m0 0h1m1 0h1m0 0h1m0 0h1m7 0h1m4 0h1m6 0h1m7 0h1m-44 1h1m1 0h1m0 0h1m1 0h1m1 0h1m3 0h1m3 0h1m0 0h1m16 0h1m-29 1h1m3 0h1m0 0h1m1 0h1m8 0h1m0 0h1m9 0h1m45 0h1m-77 1h1m5 0h1m8 0h1m5 0h1m-10 1h1m0 0h1m1 0h1m-21 1h1m8 0h1m4 0h1m1 0h1m2 0h1m3 0h1m5 0h1m-27 1h1m1 0h1m2 0h1m4 0h1m7 0h1m4 0h1m24 0h1m-44 1h1m3 0h1m2 0h1m0 0h1m3 0h1m3 0h1m17 0h1m-43 1h1m3 0h1m3 0h1m0 0h1m8 0h1m4 0h1m6 0h1m-31 1h1m15 0h1m33 0h1m-47 1h1m2 0h1m5 0h1m7 0h1m10 0h1m3 0h1m3 0h1m-43 1h1m4 0h1m0 0h1m8 0h1m2 0h1m1 0h1m0 0h1m2 0h1m0 0h1m0 0h1m-19 1h1m2 0h1m0 0h1m1 0h1m1 0h1m0 0h1m5 0h1m0 0h1m-21 1h1m0 0h1m14 0h1m10 0h1m2 0h1m-27 1h1m2 0h1m19 0h1" stroke="#000" stroke-width="1.3" stroke-opacity="0.35" fill="none"/>
<g clip-path="url(#c31)"><ellipse cx="311.9" cy="142.2" rx="14.549999999999999" ry="6.720000000000001" opacity="0.12" transform="rotate(-60 311.9 142.2)" filter="url(#bl2)"/></g>
<g clip-path="url(#c32)"><path d="M318.3 131.1L318.7 131.8L318.7 133.3L318.4 135.5L317.7 138.2L316.9 141.2L315.7 144.4L314.2 146.7L312.5 148.7L310.8 150.3L309.2 151.3L307.7 151.7L306.6 151.4L305.8 150.6L305.4 149.1L305.4 147.2L305.9 144.9L306.8 142.5L308.1 140.0L310.2 137.4L312.5 135.1L314.5 133.2L316.2 131.9L317.5 131.1Z" opacity="1" filter="url(#bl)"/></g>
<g clip-path="url(#c33)"><ellipse cx="346.5" cy="112.8" rx="3.5" ry="1.3" opacity="0.5" transform="rotate(-35 346.5 112.8)" filter="url(#bl)"/></g>
<path d="M326.0 131.5L349.5 109.3" stroke="#000" stroke-width=".7" opacity="0.35"/>
<path d="M332.5 140.5L342.5 130.0" stroke="#000" stroke-width="2.2" stroke-linecap="round" opacity="0.036" filter="url(#bl)"/>
<path transform="scale(.5)" d="M0 0m701 216h1m-65 2h1m-32 1h1m81 0h1m-7 1h1m10 0h1m-4 1h1m9 0h1m-18 1h1m6 0h1m-31 2h1m25 0h1m6 0h1m0 0h1m-38 1h1m6 0h1m2 1h1m22 0h1m1 0h1m1 0h1m-38 1h1m22 0h1m0 0h1m2 0h1m6 0h1m0 0h1m3 0h1m-74 1h1m49 0h1m4 0h1m1 0h1m8 0h1m0 0h1m3 0h1m-87 1h1m67 0h1m6 0h1m0 0h1m1 0h1m4 0h1m1 0h1m0 0h1m-46 1h1m30 0h1m5 0h1m10 0h1m-15 1h1m0 0h1m0 0h1m0 0h1m3 0h1m1 0h1m6 0h1m-37 1h1m15 0h1m5 0h1m2 0h1m-53 1h1m39 0h1m0 0h1m6 0h1m1 0h1m2 0h1m3 0h1m2 0h1m0 0h1m0 0h1m2 0h1m-16 1h1m1 0h1m2 0h1m5 0h1m-28 2h1m3 0h1m2 0h1m1 0h1m0 0h1m0 0h1m3 0h1m7 0h1m-64 1h1m45 0h1m1 0h1m4 0h1m-5 1h1m3 0h1m-12 1h1m9 0h1m4 0h1m-32 1h1m15 0h1m5 0h1m-42 1h1m39 0h1m1 0h1m2 0h1m-13 1h1m3 0h1m7 0h1m-62 1h1m35 0h1m5 0h1m3 1h1m7 0h1m0 0h1m-44 1h1m6 0h1m0 0h1m8 0h1m1 0h1m0 0h1m6 0h1m5 0h1m1 0h1m2 0h1m-13 1h1m3 0h1m2 0h1m4 0h1m0 0h1m1 0h1m-15 1h1m7 0h1m6 0h1m-41 1h1m12 0h1m0 0h1m13 0h1m0 0h1m1 0h1m5 0h1m-45 1h1m28 0h1m5 0h1m5 0h1m-49 1h1m9 0h1m29 0h1m-20 1h1m5 0h1m0 0h1m3 0h1m13 0h1m-38 1h1m14 0h1m17 0h1m0 0h1m-19 1h1m3 0h1m6 0h1m0 0h1m0 0h1m0 0h1m1 0h1m2 0h1m5 0h1m-59 1h1m32 0h1m2 0h1m7 0h1m0 0h1m1 0h1m-41 1h1m10 0h1m3 0h1m10 0h1m8 0h1m3 0h1m5 0h1m-24 1h1m0 0h1m10 0h1m2 0h1m0 0h1m9 0h1m27 0h1m-72 1h1m0 0h1m3 0h1m2 0h1m4 0h1m5 0h1m0 0h1m0 0h1m1 0h1m5 0h1m0 0h1m0 0h1m3 0h1m-28 1h1m49 0h1m-57 1h1m1 0h1m4 0h1m5 0h1m12 0h1m1 0h1m-39 1h1m5 0h1m18 0h1m7 0h1m2 0h1m2 0h1m24 0h1m0 0h1m-62 1h1m3 0h1m1 0h1m4 0h1m4 0h1m0 0h1m1 0h1m0 0h1m5 0h1m0 0h1m1 0h1m2 0h1m4 0h1m16 0h1m-56 1h1m0 0h1m6 0h1m3 0h1m0 0h1m4 0h1m4 0h1m3 0h1m2 0h1m3 0h1m10 0h1m15 0h1m1 0h1m-70 1h1m13 0h1m0 0h1m9 0h1m1 0h1m2 0h1m33 0h1m2 0h1m0 0h1m0 0h1m-52 1h1m0 0h1m1 0h1m3 0h1m1 0h1m33 0h1m3 0h1m1 0h1m-63 1h1m10 0h1m0 0h1m2 0h1m0 0h1m5 0h1m0 0h1m1 0h1m0 0h1m28 0h1m2 0h1m5 0h1m-60 1h1m0 0h1m0 0h1m2 0h1m5 0h1m0 0h1m0 0h1m4 0h1m2 0h1m29 0h1m-55 1h1m1 0h1m3 0h1m3 0h1m1 0h1m5 0h1m10 0h1m-32 1h1m3 0h1m0 0h1m3 0h1m1 0h1m0 0h1m0 0h1m0 0h1m0 0h1m2 0h1m1 0h1m2 0h1m1 0h1m28 0h1m4 0h1m-67 1h1m0 0h1m5 0h1m3 0h1m5 0h1m0 0h1m2 0h1m0 0h1m1 0h1m0 0h1m2 0h1m0 0h1m1 0h1m0 0h1m31 0h1m6 0h1m-66 1h1m0 0h1m11 0h1m1 0h1m2 0h1m1 0h1m8 0h1m-32 1h1m8 0h1m2 0h1m5 0h1m7 0h1m35 0h1m-60 1h1m4 0h1m7 0h1m0 0h1m3 0h1m1 0h1m1 0h1m3 0h1m25 0h1m1 0h1m3 0h1m0 0h1m-66 1h1m4 0h1m2 0h1m6 0h1m0 0h1m0 0h1m3 0h1m1 0h1m29 0h1m1 0h1m1 0h1m2 0h1m-69 1h1m19 0h1m3 0h1m0 0h1m1 0h1m0 0h1m0 0h1m1 0h1m1 0h1m1 0h1m34 0h1m-57 1h1m0 0h1m0 0h1m3 0h1m2 0h1m1 0h1m0 0h1m1 0h1m0 0h1m1 0h1m1 0h1m0 0h1m2 0h1m31 0h1m-61 1h1m4 0h1m1 0h1m1 0h1m7 0h1m0 0h1m0 0h1m0 0h1m1 0h1m0 0h1m0 0h1m3 0h1m5 0h1m17 0h1m4 0h1m-44 1h1m0 0h1m0 0h1m0 0h1m0 0h1m3 0h1m0 0h1m0 0h1m2 0h1m27 0h1m1 0h1m-61 1h1m5 0h1m7 0h1m4 0h1m2 0h1m0 0h1m0 0h1m5 0h1m23 0h1m0 0h1m1 0h1m-54 1h1m0 0h1m7 0h1m0 0h1m3 0h1m4 0h1m5 0h1m0 0h1m1 0h1m3 0h1m41 0h1m-85 1h1m6 0h1m3 0h1m2 0h1m2 0h1m1 0h1m1 0h1m0 0h1m0 0h1m3 0h1m0 0h1m1 0h1m1 0h1m17 0h1m13 0h1m-59 1h1m5 0h1m8 0h1m0 0h1m61 0h1m-75 1h1m0 0h1m0 0h1m0 0h1m3 0h1m2 0h1m0 0h1m0 0h1m1 0h1m0 0h1m0 0h1m1 0h1m0 0h1m4 0h1m0 0h1m0 0h1m1 0h1m0 0h1m-35 1h1m3 0h1m1 0h1m3 0h1m0 0h1m0 0h1m0 0h1m4 0h1m2 0h1m0 0h1m4 0h1m30 0h1m-58 1h1m5 0h1m2 0h1m2 0h1m0 0h1m0 0h1m4 0h1m0 0h1m1 0h1m0 0h1m3 0h1m5 0h1m-33 1h1m2 0h1m4 0h1m1 0h1m0 0h1m0 0h1m2 0h1m2 0h1m4 0h1m1 0h1m-26 1h1m4 0h1m0 0h1m4 0h1m0 0h1m2 0h1m5 0h1m0 0h1m8 0h1m15 0h1m-49 1h1m2 0h1m0 0h1m2 0h1m1 0h1m4 0h1m1 0h1m1 0h1m14 0h1m-41 1h1m4 0h1m6 0h1m2 0h1m3 0h1m2 0h1m0 0h1m0 0h1m0 0h1m1 0h1m1 0h1m5 0h1m0 0h1m-30 1h1m2 0h1m1 0h1m2 0h1m3 0h1m0 0h1m0 0h1m3 0h1m1 0h1m-15 1h1m12 0h1m0 0h1m0 0h1m11 0h1m-30 1h1m0 0h1m3 0h1m4 0h1m4 0h1m2 0h1m2 0h1m0 0h1m-30 1h1m2 0h1m8 0h1m3 0h1m0 0h1m2 0h1m0 0h1m0 0h1m6 0h1m-29 1h1m1 0h1m0 0h1m1 0h1m3 0h1m0 0h1m0 0h1m2 0h1m2 0h1m9 0h1m-33 1h1m5 0h1m1 0h1m0 0h1m1 0h1m0 0h1m4 0h1m2 0h1m4 0h1m1 0h1m6 0h1m-33 1h1m3 0h1m9 0h1m0 0h1m0 0h1m0 0h1m8 0h1m2 0h1m-32 1h1m0 0h1m5 0h1m0 0h1m3 0h1m3 0h1m3 0h1m0 0h1m0 0h1m-21 1h1m0 0h1m8 0h1m3 0h1m4 0h1m2 0h1m3 0h1m0 0h1m25 0h1m-46 1h1m6 0h1m3 0h1m11 0h1m8 0h1m-37 1h1m2 0h1m0 0h1m5 0h1m1 0h1m11 0h1m-20 1h1m0 0h1m3 0h1m1 0h1m16 0h1m-35 1h1m5 0h1m-7 1h1m2 0h1m4 0h1m1 0h1m0 0h1m2 0h1m5 0h1m6 0h1m0 0h1m-28 1h1m2 0h1m1 0h1m5 0h1m0 0h1m4 0h1m1 0h1m-20 1h1m6 0h1m0 0h1m0 0h1m0 0h1m2 0h1m0 0h1m0 0h1m1 0h1m1 0h1m7 0h1m-19 1h1m3 0h1m1 0h1m6 0h1m0 0h1m-17 1h1m3 0h1m-11 1h1m13 0h1m48 1h1" stroke="#000" stroke-width="1.3" stroke-opacity="0.35" fill="none"/>
<g clip-path="url(#c34)"><ellipse cx="88.8" cy="315.5" rx="7.0" ry="6.3" opacity="0.15" transform="rotate(-40 88.8 315.5)" filter="url(#bl2)"/></g>
<g clip-path="url(#c35)"><path d="M95.7 303.8L95.0 311.4L91.6 316.7L85.2 316.9L82.9 312.3L89.3 307.6Z" opacity="1" filter="url(#bl)" stroke="#000" stroke-width="1.2" stroke-linejoin="round"/></g>
<path transform="scale(.5)" d="M0 0m183 604h1m-8 1h1m4 0h1m11 0h1m-20 1h1m2 0h1m4 0h1m6 0h1m-22 1h1m6 0h1m8 0h1m1 0h1m1 1h1m-16 1h1m2 0h1m3 0h1m2 0h1m3 0h1m4 0h1m1 0h1m-21 1h1m11 0h1m0 0h1m2 0h1m-21 1h1m10 0h1m0 0h1m1 0h1m0 0h1m-16 1h1m1 0h1m6 0h1m0 0h1m3 0h1m0 0h1m2 0h1m0 0h1m-25 1h1m4 0h1m2 0h1m2 0h1m1 0h1m1 0h1m1 0h1m0 0h1m-28 1h1m15 0h1m4 0h1m2 0h1m2 0h1m0 0h1m-73 1h1m53 0h1m7 0h1m1 0h1m1 0h1m0 0h1m2 0h1m0 0h1m0 0h1m0 0h1m0 0h1m0 0h1m-23 1h1m3 0h1m6 0h1m7 0h1m9 0h1m-27 1h1m6 0h1m6 0h1m1 0h1m0 0h1m0 0h1m0 0h1m-16 1h1m1 0h1m4 0h1m1 0h1m1 0h1m5 0h1m0 0h1m0 0h1m-33 1h1m4 0h1m5 0h1m3 0h1m0 0h1m0 0h1m1 0h1m0 0h1m0 0h1m0 0h1m1 0h1m3 0h1m0 0h1m2 0h1m2 0h1m-32 1h1m4 0h1m1 0h1m0 0h1m1 0h1m0 0h1m0 0h1m0 0h1m0 0h1m1 0h1m1 0h1m0 0h1m0 0h1m1 0h1m0 0h1m2 0h1m0 0h1m1 0h1m1 0h1m0 0h1m-55 1h1m22 0h1m0 0h1m1 0h1m0 0h1m3 0h1m0 0h1m2 0h1m0 0h1m0 0h1m0 0h1m0 0h1m0 0h1m0 0h1m0 0h1m0 0h1m0 0h1m2 0h1m1 0h1m0 0h1m-33 1h1m4 0h1m1 0h1m0 0h1m3 0h1m4 0h1m7 0h1m0 0h1m0 0h1m1 0h1m0 0h1m0 0h1m0 0h1m4 0h1m-27 1h1m0 0h1m1 0h1m1 0h1m1 0h1m0 0h1m0 0h1m0 0h1m0 0h1m2 0h1m0 0h1m0 0h1m0 0h1m1 0h1m-31 1h1m4 0h1m0 0h1m5 0h1m1 0h1m4 0h1m1 0h1m0 0h1m0 0h1m0 0h1m1 0h1m1 0h1m0 0h1m0 0h1m1 0h1m-29 1h1m2 0h1m3 0h1m0 0h1m0 0h1m0 0h1m1 0h1m0 0h1m0 0h1m3 0h1m2 0h1m0 0h1m0 0h1m0 0h1m2 0h1m0 0h1m9 0h1m-47 1h1m1 0h1m11 0h1m4 0h1m0 0h1m0 0h1m0 0h1m0 0h1m0 0h1m0 0h1m0 0h1m2 0h1m0 0h1m1 0h1m1 0h1m6 0h1m-28 1h1m0 0h1m8 0h1m0 0h1m0 0h1m0 0h1m1 0h1m1 0h1m0 0h1m3 0h1m0 0h1m-23 1h1m1 0h1m1 0h1m1 0h1m0 0h1m1 0h1m1 0h1m7 0h1m12 0h1m-36 1h1m0 0h1m1 0h1m1 0h1m0 0h1m0 0h1m0 0h1m0 0h1m1 0h1m0 0h1m0 0h1m1 0h1m0 0h1m2 0h1m1 0h1m1 0h1m1 0h1m0 0h1m-21 1h1m0 0h1m0 0h1m1 0h1m0 0h1m1 0h1m0 0h1m3 0h1m2 0h1m3 0h1m3 0h1m-37 1h1m2 0h1m0 0h1m2 0h1m4 0h1m0 0h1m0 0h1m1 0h1m1 0h1m0 0h1m0 0h1m0 0h1m0 0h1m0 0h1m0 0h1m0 0h1m2 0h1m0 0h1m5 0h1m7 0h1m-61 1h1m20 0h1m1 0h1m3 0h1m2 0h1m0 0h1m3 0h1m0 0h1m0 0h1m0 0h1m2 0h1m0 0h1m1 0h1m-27 1h1m2 0h1m5 0h1m0 0h1m0 0h1m4 0h1m0 0h1m0 0h1m0 0h1m0 0h1m0 0h1m8 0h1m5 0h1m-31 1h1m1 0h1m0 0h1m0 0h1m0 0h1m3 0h1m0 0h1m1 0h1m1 0h1m0 0h1m1 0h1m0 0h1m2 0h1m1 0h1m-35 1h1m5 0h1m11 0h1m0 0h1m1 0h1m0 0h1m1 0h1m3 0h1m0 0h1m0 0h1m0 0h1m6 0h1m-38 1h1m6 0h1m1 0h1m1 0h1m0 0h1m0 0h1m0 0h1m0 0h1m0 0h1m6 0h1m1 0h1m2 0h1m0 0h1m6 0h1m7 0h1m-47 1h1m4 0h1m4 0h1m5 0h1m0 0h1m1 0h1m2 0h1m0 0h1m4 0h1m1 0h1m0 0h1m5 0h1m2 0h1m-33 1h1m7 0h1m0 0h1m2 0h1m0 0h1m1 0h1m1 0h1m2 0h1m0 0h1m2 0h1m4 0h1m5 0h1m-42 1h1m8 0h1m9 0h1m0 0h1m0 0h1m4 0h1m1 0h1m1 0h1m2 0h1m6 0h1m-30 1h1m0 0h1m0 0h1m0 0h1m2 0h1m2 0h1m0 0h1m5 0h1m2 0h1m1 0h1m0 0h1m10 0h1m-45 1h1m11 0h1m3 0h1m1 0h1m4 0h1m0 0h1m5 0h1m2 0h1m-30 1h1m1 0h1m0 0h1m5 0h1m4 0h1m1 0h1m0 0h1m4 0h1m1 0h1m1 0h1m2 0h1m-30 1h1m8 0h1m2 0h1m0 0h1m0 0h1m0 0h1m1 0h1m1 0h1m0 0h1m1 0h1m0 0h1m1 0h1m1 0h1m0 0h1m0 0h1m-31 1h1m7 0h1m0 0h1m3 0h1m2 0h1m0 0h1m0 0h1m0 0h1m0 0h1m0 0h1m1 0h1m0 0h1m1 0h1m-25 1h1m3 0h1m7 0h1m1 0h1m1 0h1m4 0h1m1 0h1m0 0h1m1 0h1m-22 1h1m12 0h1m2 0h1m2 0h1m1 0h1m2 0h1m-33 1h1m2 0h1m11 0h1m2 0h1m3 0h1m0 0h1m2 0h1m0 0h1m1 0h1m2 0h1m6 0h1m-33 1h1m5 0h1m2 0h1m0 0h1m7 0h1m0 0h1m9 0h1m-54 1h1m27 0h1m3 0h1m4 0h1m5 0h1m-12 1h1m0 0h1m4 0h1m0 0h1m0 0h1m-12 1h1m0 0h1m0 0h1m3 0h1m6 0h1m6 0h1m3 0h1m-41 1h1m19 0h1m2 0h1m16 0h1m-22 1h1m8 0h1m1 0h1m0 0h1m-7 1h1m10 0h1m-22 1h1m7 0h1m3 0h1m14 0h1m5 0h1m-37 1h1m1 0h1m11 0h1m0 0h1m-4 1h1m5 0h1m-16 1h1m4 0h1m5 0h1m12 0h1m2 0h1m5 0h1m-23 1h1m13 0h1m-27 1h1m7 0h1m3 0h1m3 1h1m-21 1h1m31 0h1m-14 1h1m-21 1h1m2 0h1m29 0h1m-37 1h1m5 1h1m5 0h1m9 0h1m12 0h1m4 0h1m-20 1h1m5 0h1m-17 1h1m1 0h1m22 0h1m0 0h1m-30 1h1m17 0h1m2 0h1m10 0h1m-25 2h1m16 1h1m-26 1h1m30 3h1m-17 2h1m5 1h1m-32 2h1m32 0h1m3 0h1m-37 1h1m40 0h1m-31 4h1m-11 3h1m28 1h1m-6 2h1m16 0h1m-45 1h1m27 0h1m0 0h1m-11 1h1m21 0h1" stroke="#000" stroke-width="1.3" stroke-opacity="0.45" fill="none"/>
<path d="M76 347.1H101.4" stroke="#000" stroke-width="1" stroke-dasharray=".7 .5" opacity=".45"/>
<g clip-path="url(#c36)"><ellipse cx="155.8" cy="317" rx="7.5" ry="6.3" opacity="0.15" transform="rotate(-50 155.8 317)" filter="url(#bl2)"/></g>
<g clip-path="url(#c37)"><path d="M162.6 305.4L161.9 312.9L158.6 318.0L152.3 318.3L150.1 313.8L156.4 309.2Z" opacity="1" filter="url(#bl)" stroke="#000" stroke-width="1.2" stroke-linejoin="round"/></g>
<path transform="scale(.5)" d="M0 0m306 603h1m2 4h1m11 0h1m-7 1h1m6 0h1m-46 1h1m35 0h1m3 0h1m3 1h1m1 0h1m-10 1h1m2 0h1m0 0h1m-13 1h1m2 0h1m3 0h1m19 0h1m-35 1h1m3 0h1m1 0h1m2 0h1m4 0h1m0 0h1m-3 1h1m2 0h1m1 0h1m4 0h1m1 0h1m-21 1h1m1 0h1m4 0h1m4 0h1m1 0h1m2 0h1m-25 1h1m5 0h1m1 0h1m0 0h1m5 0h1m0 0h1m0 0h1m0 0h1m3 0h1m-21 1h1m4 0h1m0 0h1m4 0h1m2 0h1m0 0h1m6 0h1m5 0h1m-24 1h1m0 0h1m3 0h1m1 0h1m0 0h1m2 0h1m1 0h1m2 0h1m4 0h1m1 0h1m-26 1h1m0 0h1m0 0h1m4 0h1m0 0h1m2 0h1m0 0h1m3 0h1m4 0h1m4 0h1m-27 1h1m5 0h1m3 0h1m0 0h1m0 0h1m0 0h1m0 0h1m1 0h1m5 0h1m5 0h1m-36 1h1m12 0h1m0 0h1m0 0h1m0 0h1m0 0h1m2 0h1m2 0h1m0 0h1m2 0h1m4 0h1m4 0h1m-37 1h1m0 0h1m1 0h1m6 0h1m0 0h1m1 0h1m1 0h1m0 0h1m0 0h1m1 0h1m1 0h1m2 0h1m2 0h1m0 0h1m-27 1h1m8 0h1m0 0h1m0 0h1m0 0h1m1 0h1m1 0h1m0 0h1m0 0h1m1 0h1m0 0h1m0 0h1m1 0h1m3 0h1m-32 1h1m2 0h1m0 0h1m0 0h1m3 0h1m2 0h1m0 0h1m1 0h1m0 0h1m1 0h1m1 0h1m0 0h1m0 0h1m0 0h1m6 0h1m0 0h1m-28 1h1m2 0h1m1 0h1m0 0h1m1 0h1m3 0h1m1 0h1m0 0h1m1 0h1m0 0h1m0 0h1m2 0h1m0 0h1m3 0h1m1 0h1m2 0h1m-26 1h1m1 0h1m0 0h1m0 0h1m1 0h1m2 0h1m5 0h1m5 0h1m-39 1h1m6 0h1m2 0h1m4 0h1m2 0h1m2 0h1m0 0h1m3 0h1m1 0h1m2 0h1m3 0h1m1 0h1m2 0h1m-34 1h1m9 0h1m0 0h1m1 0h1m0 0h1m0 0h1m0 0h1m0 0h1m0 0h1m3 0h1m10 0h1m-33 1h1m1 0h1m6 0h1m1 0h1m0 0h1m0 0h1m1 0h1m0 0h1m0 0h1m0 0h1m0 0h1m2 0h1m1 0h1m0 0h1m1 0h1m2 0h1m0 0h1m-35 1h1m0 0h1m4 0h1m1 0h1m2 0h1m0 0h1m1 0h1m0 0h1m0 0h1m0 0h1m0 0h1m0 0h1m0 0h1m1 0h1m1 0h1m1 0h1m0 0h1m-17 1h1m0 0h1m0 0h1m3 0h1m0 0h1m1 0h1m0 0h1m0 0h1m2 0h1m3 0h1m2 0h1m0 0h1m5 0h1m-37 1h1m2 0h1m0 0h1m4 0h1m1 0h1m1 0h1m0 0h1m1 0h1m7 0h1m-26 1h1m2 0h1m0 0h1m2 0h1m2 0h1m0 0h1m0 0h1m0 0h1m1 0h1m1 0h1m1 0h1m1 0h1m3 0h1m10 0h1m-39 1h1m1 0h1m1 0h1m1 0h1m0 0h1m4 0h1m2 0h1m2 0h1m1 0h1m0 0h1m5 0h1m2 0h1m-26 1h1m4 0h1m0 0h1m2 0h1m0 0h1m3 0h1m1 0h1m1 0h1m2 0h1m0 0h1m0 0h1m4 0h1m-53 1h1m22 0h1m2 0h1m4 0h1m1 0h1m1 0h1m0 0h1m3 0h1m3 0h1m0 0h1m0 0h1m-23 1h1m0 0h1m1 0h1m2 0h1m1 0h1m1 0h1m1 0h1m1 0h1m0 0h1m0 0h1m7 0h1m2 0h1m-34 1h1m5 0h1m7 0h1m0 0h1m0 0h1m0 0h1m13 0h1m0 0h1m-35 1h1m3 0h1m3 0h1m0 0h1m6 0h1m1 0h1m0 0h1m3 0h1m0 0h1m1 0h1m0 0h1m0 0h1m3 0h1m2 0h1m1 0h1m-32 1h1m1 0h1m4 0h1m0 0h1m0 0h1m0 0h1m0 0h1m0 0h1m0 0h1m0 0h1m4 0h1m0 0h1m0 0h1m0 0h1m-22 1h1m2 0h1m1 0h1m0 0h1m2 0h1m0 0h1m0 0h1m1 0h1m5 0h1m1 0h1m0 0h1m6 0h1m-36 1h1m3 0h1m5 0h1m2 0h1m1 0h1m5 0h1m1 0h1m0 0h1m1 0h1m0 0h1m0 0h1m2 0h1m1 0h1m0 0h1m-29 1h1m1 0h1m0 0h1m0 0h1m0 0h1m1 0h1m5 0h1m0 0h1m11 0h1m2 0h1m-33 1h1m6 0h1m1 0h1m3 0h1m0 0h1m0 0h1m4 0h1m0 0h1m2 0h1m6 0h1m1 0h1m-42 1h1m7 0h1m9 0h1m0 0h1m1 0h1m3 0h1m1 0h1m0 0h1m0 0h1m5 0h1m0 0h1m0 0h1m0 0h1m6 0h1m1 0h1m1 0h1m-48 1h1m8 0h1m9 0h1m2 0h1m0 0h1m1 0h1m2 0h1m0 0h1m0 0h1m2 0h1m1 0h1m-25 1h1m0 0h1m0 0h1m0 0h1m0 0h1m1 0h1m5 0h1m2 0h1m1 0h1m4 0h1m0 0h1m0 0h1m0 0h1m-22 1h1m2 0h1m1 0h1m2 0h1m1 0h1m0 0h1m11 0h1m8 0h1m-33 1h1m2 0h1m1 0h1m0 0h1m2 0h1m1 0h1m0 0h1m2 0h1m2 0h1m2 0h1m-18 1h1m4 0h1m0 0h1m3 0h1m1 0h1m15 0h1m-46 1h1m12 0h1m8 0h1m1 0h1m2 0h1m0 0h1m0 0h1m0 0h1m10 0h1m2 0h1m-35 1h1m6 0h1m3 0h1m1 0h1m5 0h1m7 0h1m7 0h1m-33 1h1m7 0h1m0 0h1m0 0h1m4 0h1m-17 1h1m2 0h1m6 0h1m1 0h1m-13 1h1m10 0h1m0 0h1m2 0h1m0 0h1m-6 1h1m0 0h1m3 1h1m-13 1h1m0 0h1m0 0h1m7 0h1m-14 1h1m1 0h1m4 0h1m0 1h1m0 0h1m3 0h1m-10 1h1m2 0h1m0 0h1m5 0h1m8 0h1m-32 2h1m10 0h1m6 0h1m2 0h1m1 0h1m-27 1h1m36 2h1m-39 2h1m31 1h1m-4 1h1m11 3h1m-48 4h1m33 0h1m-24 1h1m19 0h1m3 1h1m5 0h1m0 0h1m-32 2h1m2 0h1m14 2h1m1 0h1m7 0h1m1 0h1m-14 1h1m4 0h1m7 0h1m-31 1h1m24 0h1m4 0h1m2 1h1m-41 2h1m17 0h1m-6 1h1m29 0h1m2 1h1m-77 2h1m67 0h1m-33 1h1m4 0h1m0 0h1m25 0h1m0 0h1m1 0h1m-24 1h1m8 0h1m-25 1h1" stroke="#000" stroke-width="1.3" stroke-opacity="0.45" fill="none"/>
<path d="M142.3 347.1H168" stroke="#000" stroke-width="1" stroke-dasharray=".7 .5" opacity=".45"/>
<g clip-path="url(#c38)"><ellipse cx="87.8" cy="388.5" rx="7.3" ry="6.3" opacity="0.15" transform="rotate(-55 87.8 388.5)" filter="url(#bl2)"/></g>
<g clip-path="url(#c39)"><path d="M94.6 376.9L93.9 384.4L90.6 389.5L84.3 389.8L82.0 385.3L88.3 380.7Z" opacity="1" filter="url(#bl)" stroke="#000" stroke-width="1.2" stroke-linejoin="round"/></g>
<path transform="scale(.5)" d="M0 0m168 748h1m5 0h1m0 1h1m0 1h1m7 0h1m-12 1h1m11 0h1m-2 1h1m-17 1h1m4 0h1m-3 1h1m2 0h1m5 0h1m3 0h1m-18 1h1m0 0h1m3 0h1m0 0h1m7 0h1m4 0h1m4 0h1m4 0h1m-26 1h1m4 0h1m3 0h1m0 0h1m1 0h1m-21 1h1m5 0h1m1 0h1m6 0h1m11 0h1m-29 1h1m8 0h1m0 0h1m3 0h1m0 0h1m1 0h1m2 0h1m4 0h1m3 0h1m-25 1h1m1 0h1m0 0h1m1 0h1m0 0h1m9 0h1m0 0h1m-9 1h1m0 0h1m0 0h1m2 0h1m0 0h1m1 0h1m0 0h1m0 0h1m2 0h1m-18 1h1m1 0h1m1 0h1m0 0h1m8 0h1m0 0h1m-20 1h1m3 0h1m0 0h1m0 0h1m1 0h1m4 0h1m0 0h1m0 0h1m-18 1h1m1 0h1m0 0h1m1 0h1m0 0h1m0 0h1m0 0h1m1 0h1m1 0h1m2 0h1m0 0h1m4 0h1m-29 1h1m4 0h1m0 0h1m7 0h1m1 0h1m3 0h1m0 0h1m1 0h1m0 0h1m2 0h1m0 0h1m1 0h1m-20 1h1m0 0h1m0 0h1m0 0h1m2 0h1m0 0h1m0 0h1m2 0h1m4 0h1m7 0h1m-32 1h1m3 0h1m0 0h1m0 0h1m2 0h1m1 0h1m1 0h1m3 0h1m0 0h1m0 0h1m2 0h1m0 0h1m2 0h1m2 0h1m2 0h1m-28 1h1m0 0h1m0 0h1m0 0h1m1 0h1m0 0h1m0 0h1m0 0h1m1 0h1m1 0h1m0 0h1m16 0h1m-41 1h1m4 0h1m4 0h1m5 0h1m1 0h1m0 0h1m0 0h1m4 0h1m0 0h1m-25 1h1m4 0h1m0 0h1m1 0h1m0 0h1m0 0h1m0 0h1m2 0h1m1 0h1m0 0h1m0 0h1m0 0h1m0 0h1m0 0h1m2 0h1m0 0h1m10 0h1m-43 1h1m4 0h1m6 0h1m1 0h1m1 0h1m1 0h1m0 0h1m1 0h1m0 0h1m0 0h1m0 0h1m0 0h1m0 0h1m0 0h1m1 0h1m1 0h1m0 0h1m0 0h1m0 0h1m3 0h1m-33 1h1m0 0h1m3 0h1m0 0h1m0 0h1m0 0h1m0 0h1m4 0h1m0 0h1m0 0h1m0 0h1m3 0h1m0 0h1m2 0h1m2 0h1m1 0h1m0 0h1m2 0h1m-29 1h1m0 0h1m1 0h1m0 0h1m2 0h1m0 0h1m0 0h1m0 0h1m0 0h1m0 0h1m0 0h1m0 0h1m0 0h1m0 0h1m2 0h1m1 0h1m1 0h1m-32 1h1m1 0h1m0 0h1m3 0h1m0 0h1m1 0h1m1 0h1m1 0h1m2 0h1m0 0h1m1 0h1m0 0h1m3 0h1m0 0h1m0 0h1m0 0h1m-30 1h1m5 0h1m1 0h1m0 0h1m2 0h1m0 0h1m1 0h1m1 0h1m0 0h1m0 0h1m1 0h1m1 0h1m0 0h1m1 0h1m0 0h1m1 0h1m0 0h1m10 0h1m-39 1h1m3 0h1m0 0h1m3 0h1m0 0h1m0 0h1m0 0h1m0 0h1m0 0h1m0 0h1m0 0h1m1 0h1m0 0h1m0 0h1m2 0h1m0 0h1m4 0h1m3 0h1m-30 1h1m4 0h1m0 0h1m0 0h1m0 0h1m3 0h1m1 0h1m1 0h1m3 0h1m6 0h1m1 0h1m6 0h1m-40 1h1m6 0h1m0 0h1m3 0h1m0 0h1m0 0h1m0 0h1m0 0h1m0 0h1m0 0h1m0 0h1m0 0h1m3 0h1m0 0h1m3 0h1m0 0h1m1 0h1m-51 1h1m19 0h1m5 0h1m1 0h1m2 0h1m0 0h1m0 0h1m1 0h1m4 0h1m4 0h1m-28 1h1m3 0h1m1 0h1m0 0h1m4 0h1m1 0h1m0 0h1m0 0h1m1 0h1m0 0h1m4 0h1m6 0h1m-34 1h1m0 0h1m0 0h1m0 0h1m6 0h1m0 0h1m0 0h1m0 0h1m2 0h1m0 0h1m0 0h1m0 0h1m4 0h1m0 0h1m0 0h1m5 0h1m-26 1h1m1 0h1m1 0h1m0 0h1m1 0h1m0 0h1m1 0h1m3 0h1m0 0h1m0 0h1m0 0h1m0 0h1m1 0h1m1 0h1m1 0h1m2 0h1m-31 1h1m0 0h1m3 0h1m0 0h1m0 0h1m1 0h1m1 0h1m1 0h1m0 0h1m1 0h1m0 0h1m0 0h1m2 0h1m5 0h1m2 0h1m6 0h1m-50 1h1m9 0h1m0 0h1m0 0h1m2 0h1m2 0h1m1 0h1m0 0h1m0 0h1m2 0h1m0 0h1m0 0h1m0 0h1m3 0h1m7 0h1m-22 1h1m0 0h1m0 0h1m0 0h1m0 0h1m0 0h1m3 0h1m1 0h1m0 0h1m0 0h1m15 0h1m1 0h1m-36 1h1m0 0h1m0 0h1m0 0h1m4 0h1m0 0h1m1 0h1m0 0h1m2 0h1m0 0h1m0 0h1m3 0h1m14 0h1m-41 1h1m2 0h1m2 0h1m2 0h1m1 0h1m1 0h1m2 0h1m0 0h1m0 0h1m0 0h1m0 0h1m1 0h1m0 0h1m0 0h1m5 0h1m-30 1h1m8 0h1m0 0h1m5 0h1m4 0h1m11 0h1m-35 1h1m4 0h1m2 0h1m5 0h1m2 0h1m-22 1h1m3 0h1m3 0h1m1 0h1m3 0h1m8 0h1m0 0h1m-24 1h1m5 0h1m1 0h1m1 0h1m1 0h1m1 0h1m0 0h1m3 0h1m5 0h1m-30 1h1m4 0h1m5 0h1m5 0h1m2 0h1m0 0h1m2 0h1m0 0h1m2 0h1m-21 1h1m1 0h1m1 0h1m8 0h1m1 0h1m0 0h1m0 0h1m-19 1h1m3 0h1m0 0h1m6 0h1m0 0h1m1 0h1m0 0h1m5 0h1m1 0h1m0 0h1m6 0h1m0 0h1m-29 1h1m5 0h1m0 0h1m8 0h1m2 0h1m1 0h1m1 0h1m-34 1h1m1 0h1m7 0h1m4 0h1m2 0h1m0 0h1m2 0h1m-10 1h1m5 0h1m3 0h1m1 0h1m0 0h1m-16 1h1m2 0h1m3 0h1m0 0h1m5 0h1m4 0h1m-35 1h1m4 0h1m21 0h1m0 0h1m3 0h1m1 0h1m-15 1h1m3 0h1m1 0h1m1 0h1m1 0h1m13 0h1m-40 1h1m23 0h1m1 0h1m-21 1h1m2 0h1m17 0h1m-32 1h1m6 0h1m14 0h1m7 0h1m3 0h1m-29 2h1m14 0h1m2 0h1m4 0h1m-31 1h1m29 0h1m-15 1h1m28 0h1m-33 1h1m30 1h1m-42 1h1m6 0h1m11 0h1m12 0h1m13 0h1m-19 3h1m-31 1h1m31 0h1m-27 5h1m32 1h1m-10 1h1m0 0h1m-15 1h1m15 0h1m-24 1h1m12 0h1m8 0h1m-33 1h1m35 0h1m-6 2h1m-20 1h1m32 2h1m-55 2h1m19 0h1m-39 1h1m32 0h1m11 0h1m2 0h1m9 0h1m9 0h1m3 0h1m-19 1h1m1 0h1m13 1h1m-11 1h1m-20 1h1m-16 1h1m5 0h1m22 2h1m13 0h1m-38 1h1m13 0h1" stroke="#000" stroke-width="1.3" stroke-opacity="0.45" fill="none"/>
<path d="M75.7 419.5H100.6" stroke="#000" stroke-width="1" stroke-dasharray=".7 .5" opacity=".45"/>
<g clip-path="url(#c40)"><ellipse cx="156.2" cy="389" rx="7.2" ry="6.58" opacity="0.15" transform="rotate(-55 156.2 389)" filter="url(#bl2)"/></g>
<g clip-path="url(#c41)"><path d="M163.0 377.4L162.3 384.9L159.0 390.0L152.7 390.3L150.4 385.8L156.8 381.2Z" opacity="1" filter="url(#bl)" stroke="#000" stroke-width="1.2" stroke-linejoin="round"/></g>
<path transform="scale(.5)" d="M0 0m256 747h1m53 2h1m10 0h1m-12 1h1m8 1h1m-77 1h1m79 0h1m-16 1h1m4 1h1m0 0h1m2 0h1m4 0h1m9 0h1m-9 1h1m-18 1h1m0 0h1m5 0h1m4 0h1m4 0h1m-12 1h1m4 0h1m0 0h1m1 0h1m1 0h1m-21 1h1m3 0h1m3 0h1m6 0h1m1 0h1m2 0h1m0 0h1m-21 1h1m7 0h1m0 0h1m9 0h1m-32 1h1m15 0h1m6 0h1m0 0h1m5 0h1m-28 1h1m9 0h1m3 0h1m2 0h1m5 0h1m0 0h1m-15 1h1m1 0h1m3 0h1m1 0h1m0 0h1m0 0h1m0 0h1m0 0h1m1 0h1m0 0h1m0 0h1m-22 1h1m8 0h1m0 0h1m2 0h1m0 0h1m2 0h1m3 0h1m3 0h1m-23 1h1m1 0h1m3 0h1m1 0h1m1 0h1m0 0h1m3 0h1m0 0h1m1 0h1m1 0h1m1 0h1m-31 1h1m6 0h1m1 0h1m8 0h1m1 0h1m0 0h1m0 0h1m0 0h1m4 0h1m2 0h1m7 0h1m-34 1h1m2 0h1m0 0h1m0 0h1m0 0h1m0 0h1m0 0h1m0 0h1m0 0h1m0 0h1m9 0h1m4 0h1m0 0h1m-33 1h1m6 0h1m0 0h1m0 0h1m0 0h1m0 0h1m0 0h1m5 0h1m0 0h1m1 0h1m1 0h1m4 0h1m2 0h1m-28 1h1m6 0h1m0 0h1m1 0h1m2 0h1m0 0h1m0 0h1m0 0h1m0 0h1m2 0h1m1 0h1m0 0h1m0 0h1m-28 1h1m0 0h1m6 0h1m2 0h1m1 0h1m0 0h1m1 0h1m0 0h1m0 0h1m0 0h1m0 0h1m1 0h1m0 0h1m1 0h1m1 0h1m-24 1h1m1 0h1m0 0h1m1 0h1m0 0h1m1 0h1m1 0h1m0 0h1m0 0h1m2 0h1m2 0h1m3 0h1m0 0h1m1 0h1m1 0h1m0 0h1m-25 1h1m1 0h1m0 0h1m0 0h1m2 0h1m1 0h1m0 0h1m0 0h1m3 0h1m2 0h1m1 0h1m1 0h1m-33 1h1m2 0h1m2 0h1m0 0h1m0 0h1m0 0h1m2 0h1m0 0h1m1 0h1m0 0h1m0 0h1m0 0h1m1 0h1m1 0h1m1 0h1m0 0h1m2 0h1m8 0h1m-39 1h1m2 0h1m6 0h1m0 0h1m0 0h1m0 0h1m0 0h1m0 0h1m2 0h1m0 0h1m0 0h1m0 0h1m4 0h1m0 0h1m1 0h1m-21 1h1m0 0h1m1 0h1m0 0h1m0 0h1m0 0h1m2 0h1m0 0h1m1 0h1m2 0h1m0 0h1m0 0h1m0 0h1m6 0h1m2 0h1m-37 1h1m7 0h1m2 0h1m0 0h1m1 0h1m0 0h1m0 0h1m1 0h1m0 0h1m0 0h1m0 0h1m3 0h1m1 0h1m0 0h1m-24 1h1m2 0h1m0 0h1m0 0h1m1 0h1m2 0h1m0 0h1m0 0h1m0 0h1m0 0h1m0 0h1m0 0h1m0 0h1m0 0h1m1 0h1m0 0h1m-23 1h1m2 0h1m1 0h1m1 0h1m0 0h1m0 0h1m0 0h1m1 0h1m0 0h1m0 0h1m0 0h1m1 0h1m1 0h1m0 0h1m0 0h1m0 0h1m3 0h1m4 0h1m-37 1h1m7 0h1m0 0h1m2 0h1m2 0h1m1 0h1m0 0h1m0 0h1m0 0h1m0 0h1m0 0h1m2 0h1m1 0h1m2 0h1m1 0h1m-35 1h1m6 0h1m4 0h1m0 0h1m0 0h1m1 0h1m1 0h1m3 0h1m2 0h1m7 0h1m1 0h1m1 0h1m-50 1h1m18 0h1m2 0h1m1 0h1m1 0h1m0 0h1m0 0h1m3 0h1m1 0h1m0 0h1m0 0h1m1 0h1m0 0h1m2 0h1m0 0h1m2 0h1m-31 1h1m0 0h1m0 0h1m2 0h1m3 0h1m0 0h1m0 0h1m3 0h1m2 0h1m0 0h1m0 0h1m0 0h1m5 0h1m4 0h1m0 0h1m-41 1h1m0 0h1m3 0h1m8 0h1m0 0h1m1 0h1m1 0h1m0 0h1m1 0h1m0 0h1m1 0h1m1 0h1m0 0h1m0 0h1m0 0h1m2 0h1m5 0h1m-34 1h1m1 0h1m5 0h1m0 0h1m4 0h1m1 0h1m0 0h1m0 0h1m1 0h1m0 0h1m1 0h1m0 0h1m0 0h1m1 0h1m0 0h1m1 0h1m-35 1h1m3 0h1m7 0h1m2 0h1m1 0h1m3 0h1m2 0h1m0 0h1m0 0h1m1 0h1m0 0h1m9 0h1m0 0h1m-35 1h1m0 0h1m1 0h1m2 0h1m0 0h1m2 0h1m3 0h1m0 0h1m1 0h1m1 0h1m0 0h1m0 0h1m1 0h1m0 0h1m0 0h1m-27 1h1m4 0h1m0 0h1m0 0h1m1 0h1m0 0h1m2 0h1m0 0h1m0 0h1m0 0h1m0 0h1m0 0h1m0 0h1m0 0h1m1 0h1m0 0h1m0 0h1m4 0h1m-31 1h1m6 0h1m1 0h1m3 0h1m4 0h1m6 0h1m1 0h1m-17 1h1m0 0h1m1 0h1m12 0h1m0 0h1m2 0h1m2 0h1m4 0h1m-30 1h1m4 0h1m2 0h1m0 0h1m1 0h1m1 0h1m1 0h1m1 0h1m-25 1h1m6 0h1m4 0h1m1 0h1m0 0h1m0 0h1m0 0h1m0 0h1m0 0h1m9 0h1m-82 1h1m46 0h1m5 0h1m9 0h1m2 0h1m5 0h1m0 0h1m12 0h1m-33 1h1m11 0h1m3 0h1m2 0h1m4 0h1m0 0h1m3 0h1m-34 1h1m3 0h1m3 0h1m3 0h1m0 0h1m3 0h1m2 0h1m2 0h1m2 0h1m0 0h1m8 0h1m-28 1h1m3 0h1m1 0h1m1 0h1m1 0h1m1 0h1m0 0h1m-7 1h1m1 0h1m1 0h1m1 0h1m1 0h1m5 0h1m-30 1h1m10 0h1m2 0h1m5 0h1m0 0h1m0 0h1m0 0h1m0 0h1m7 0h1m-37 1h1m7 0h1m3 0h1m2 0h1m1 0h1m0 0h1m0 0h1m3 0h1m1 0h1m-6 1h1m4 0h1m9 0h1m8 0h1m-36 1h1m7 0h1m1 0h1m5 0h1m1 0h1m0 0h1m0 0h1m-18 1h1m0 0h1m4 0h1m2 0h1m5 0h1m6 0h1m-22 1h1m8 0h1m2 0h1m-3 1h1m9 0h1m-26 1h1m3 0h1m6 0h1m0 0h1m11 0h1m-10 1h1m3 0h1m5 0h1m5 0h1m-26 1h1m4 1h1m0 0h1m8 1h1m4 1h1m-37 1h1m2 0h1m19 1h1m-19 2h1m17 0h1m6 0h1m7 0h1m-12 2h1m-15 1h1m0 1h1m6 0h1m21 0h1m-43 2h1m36 0h1m7 0h1m-34 1h1m13 0h1m16 0h1m-7 1h1m-15 1h1m6 0h1m13 0h1m-30 1h1m10 0h1m19 0h1m-18 1h1m5 1h1m4 0h1m-12 1h1m8 0h1m2 1h1m-37 1h1m14 1h1m20 0h1m-34 1h1m17 1h1m6 0h1m-5 1h1m5 0h1m0 1h1m-33 2h1m31 0h1m-37 1h1m32 3h1m7 0h1m-15 3h1" stroke="#000" stroke-width="1.3" stroke-opacity="0.45" fill="none"/>
<path d="M142.4 420.3H169.1" stroke="#000" stroke-width="1" stroke-dasharray=".7 .5" opacity=".45"/>
<g clip-path="url(#c42)"><ellipse cx="267.8" cy="317.8" rx="10.5" ry="8.399999999999999" opacity="0.15" transform="rotate(-60 267.8 317.8)" filter="url(#bl2)"/></g>
<g clip-path="url(#c43)"><path d="M275.5 303.1L276.6 308.2L274.8 314.8L272.1 321.0L266.8 322.6L263.5 322.1L261.0 315.8L261.3 311.8L267.6 308.0Z" opacity="1" filter="url(#bl)" stroke="#000" stroke-width="1.2" stroke-linejoin="round"/></g>
<g clip-path="url(#c44)"><ellipse cx="267.3" cy="320.8" rx="4.5" ry="3.5" opacity="0.3" transform="rotate(-50 267.3 320.8)" filter="url(#bl)"/></g>
<path transform="scale(.5)" d="M0 0m531 599h1m4 0h1m9 0h1m-10 1h1m3 0h1m11 0h1m1 0h1m-34 1h1m28 0h1m-24 1h1m3 0h1m3 0h1m1 0h1m4 0h1m9 1h1m-36 1h1m10 0h1m2 0h1m11 0h1m-13 1h1m2 0h1m8 0h1m8 0h1m0 0h1m4 0h1m-26 1h1m12 0h1m6 0h1m-32 1h1m15 0h1m17 0h1m-30 1h1m6 0h1m1 0h1m2 0h1m2 0h1m13 0h1m0 0h1m-28 1h1m6 0h1m0 0h1m0 0h1m3 0h1m0 0h1m15 0h1m-38 1h1m11 0h1m6 0h1m1 0h1m9 0h1m-37 1h1m4 0h1m7 0h1m2 0h1m0 0h1m6 0h1m0 0h1m2 0h1m0 0h1m0 0h1m0 0h1m-36 1h1m2 0h1m11 0h1m12 0h1m13 0h1m0 0h1m1 0h1m-41 1h1m3 0h1m13 0h1m0 0h1m2 0h1m1 0h1m4 0h1m1 0h1m0 0h1m1 0h1m1 0h1m-33 1h1m2 0h1m15 0h1m0 0h1m3 0h1m5 0h1m-26 1h1m6 0h1m0 0h1m3 0h1m0 0h1m0 0h1m2 0h1m2 0h1m4 0h1m3 0h1m-25 1h1m4 0h1m1 0h1m2 0h1m0 0h1m0 0h1m6 0h1m-27 1h1m18 0h1m3 0h1m2 0h1m4 0h1m0 0h1m0 0h1m-39 1h1m10 0h1m0 0h1m0 0h1m0 0h1m3 0h1m4 0h1m4 0h1m-24 1h1m6 0h1m2 0h1m1 0h1m19 0h1m-25 1h1m4 0h1m1 0h1m0 0h1m1 0h1m1 0h1m2 0h1m2 0h1m9 0h1m-42 1h1m0 0h1m12 0h1m0 0h1m2 0h1m0 0h1m0 0h1m1 0h1m0 0h1m-17 1h1m6 0h1m0 0h1m0 0h1m1 0h1m3 0h1m5 0h1m7 0h1m-35 1h1m0 0h1m2 0h1m2 0h1m3 0h1m2 0h1m3 0h1m4 0h1m0 0h1m1 0h1m1 0h1m6 0h1m-74 1h1m21 0h1m17 0h1m1 0h1m8 0h1m1 0h1m3 0h1m0 0h1m0 0h1m0 0h1m0 0h1m0 0h1m3 0h1m1 0h1m2 0h1m-28 1h1m3 0h1m0 0h1m0 0h1m7 0h1m1 0h1m5 0h1m0 0h1m4 0h1m3 0h1m-52 1h1m14 0h1m1 0h1m6 0h1m3 0h1m1 0h1m5 0h1m-26 1h1m5 0h1m1 0h1m0 0h1m0 0h1m0 0h1m2 0h1m5 0h1m0 0h1m2 0h1m6 0h1m3 0h1m-42 1h1m1 0h1m4 0h1m4 0h1m2 0h1m3 0h1m0 0h1m7 0h1m10 0h1m0 0h1m-34 1h1m0 0h1m6 0h1m3 0h1m2 0h1m1 0h1m1 0h1m0 0h1m4 0h1m10 0h1m1 0h1m-46 1h1m1 0h1m4 0h1m1 0h1m1 0h1m0 0h1m1 0h1m0 0h1m3 0h1m12 0h1m0 0h1m0 0h1m8 0h1m-44 1h1m1 0h1m9 0h1m2 0h1m1 0h1m0 0h1m2 0h1m3 0h1m0 0h1m1 0h1m0 0h1m3 0h1m10 0h1m-44 1h1m5 0h1m0 0h1m4 0h1m1 0h1m0 0h1m0 0h1m1 0h1m2 0h1m0 0h1m0 0h1m1 0h1m0 0h1m0 0h1m0 0h1m5 0h1m-41 1h1m1 0h1m3 0h1m3 0h1m2 0h1m4 0h1m0 0h1m1 0h1m0 0h1m0 0h1m0 0h1m1 0h1m0 0h1m0 0h1m1 0h1m4 0h1m-36 1h1m14 0h1m0 0h1m0 0h1m1 0h1m1 0h1m2 0h1m2 0h1m5 0h1m3 0h1m-35 1h1m4 0h1m1 0h1m1 0h1m7 0h1m1 0h1m0 0h1m3 0h1m0 0h1m0 0h1m0 0h1m3 0h1m0 0h1m2 0h1m-37 1h1m5 0h1m5 0h1m0 0h1m2 0h1m0 0h1m1 0h1m0 0h1m0 0h1m2 0h1m1 0h1m0 0h1m0 0h1m2 0h1m1 0h1m3 0h1m-49 1h1m22 0h1m0 0h1m3 0h1m0 0h1m1 0h1m2 0h1m0 0h1m0 0h1m3 0h1m0 0h1m2 0h1m5 0h1m2 0h1m-41 1h1m7 0h1m0 0h1m3 0h1m4 0h1m0 0h1m0 0h1m0 0h1m0 0h1m7 0h1m2 0h1m3 0h1m3 0h1m-46 1h1m4 0h1m2 0h1m1 0h1m4 0h1m0 0h1m1 0h1m0 0h1m0 0h1m0 0h1m5 0h1m1 0h1m2 0h1m0 0h1m3 0h1m0 0h1m1 0h1m-40 1h1m1 0h1m4 0h1m2 0h1m0 0h1m0 0h1m1 0h1m1 0h1m1 0h1m0 0h1m1 0h1m1 0h1m0 0h1m0 0h1m0 0h1m0 0h1m0 0h1m2 0h1m0 0h1m1 0h1m4 0h1m1 0h1m2 0h1m-34 1h1m6 0h1m0 0h1m1 0h1m0 0h1m2 0h1m0 0h1m2 0h1m1 0h1m0 0h1m0 0h1m3 0h1m0 0h1m0 0h1m9 0h1m-58 1h1m6 0h1m3 0h1m0 0h1m2 0h1m1 0h1m0 0h1m1 0h1m2 0h1m0 0h1m0 0h1m3 0h1m0 0h1m0 0h1m0 0h1m1 0h1m0 0h1m1 0h1m0 0h1m1 0h1m2 0h1m2 0h1m1 0h1m2 0h1m-42 1h1m5 0h1m1 0h1m0 0h1m1 0h1m10 0h1m0 0h1m0 0h1m0 0h1m2 0h1m2 0h1m4 0h1m0 0h1m4 0h1m-41 1h1m4 0h1m2 0h1m3 0h1m1 0h1m1 0h1m0 0h1m0 0h1m3 0h1m0 0h1m0 0h1m0 0h1m0 0h1m6 0h1m2 0h1m-32 1h1m4 0h1m5 0h1m1 0h1m0 0h1m1 0h1m0 0h1m1 0h1m0 0h1m0 0h1m3 0h1m1 0h1m-41 1h1m1 0h1m11 0h1m3 0h1m0 0h1m2 0h1m0 0h1m6 0h1m5 0h1m0 0h1m15 0h1m-45 1h1m4 0h1m0 0h1m3 0h1m1 0h1m1 0h1m0 0h1m1 0h1m0 0h1m3 0h1m0 0h1m3 0h1m-23 1h1m8 0h1m0 0h1m0 0h1m3 0h1m6 0h1m7 0h1m0 0h1m4 0h1m-38 1h1m1 0h1m4 0h1m0 0h1m0 0h1m0 0h1m1 0h1m2 0h1m0 0h1m1 0h1m2 0h1m0 0h1m0 0h1m-38 1h1m14 0h1m3 0h1m2 0h1m5 0h1m0 0h1m1 0h1m1 0h1m0 0h1m0 0h1m3 0h1m3 0h1m0 0h1m-36 1h1m10 0h1m1 0h1m0 0h1m1 0h1m2 0h1m0 0h1m2 0h1m10 0h1m2 0h1m1 0h1m-29 1h1m0 0h1m1 0h1m1 0h1m5 0h1m1 0h1m0 0h1m17 0h1m-42 1h1m6 0h1m0 0h1m2 0h1m2 0h1m0 0h1m2 0h1m6 0h1m-24 1h1m0 0h1m0 0h1m0 0h1m4 0h1m0 0h1m5 0h1m7 0h1m0 0h1m2 0h1m5 0h1m2 0h1m0 0h1m-46 1h1m3 0h1m7 0h1m8 0h1m2 0h1m2 0h1m4 0h1m10 0h1m-28 1h1m0 0h1m9 0h1m-11 1h1m1 0h1m2 0h1m1 0h1m6 0h1m3 0h1m-7 1h1m2 0h1m1 0h1m-14 1h1m3 0h1m3 0h1m11 0h1m8 0h1m-41 1h1m19 0h1m-12 1h1m0 0h1m7 0h1m-24 1h1m6 0h1m2 0h1m3 0h1m0 0h1m29 0h1m-40 1h1m1 0h1m20 0h1m-11 1h1m-25 1h1m5 0h1m6 0h1m10 0h1m20 1h1m-27 1h1m11 1h1m-31 1h1m3 0h1m30 0h1m0 0h1m-18 1h1m20 1h1m-26 1h1m30 0h1m-5 1h1m3 0h1m-16 1h1m17 0h1m-21 1h1m-23 1h1m33 0h1m-11 1h1m-18 1h1m1 0h1m-62 1h1m72 1h1m5 0h1m-36 2h1m29 0h1m6 0h1m11 0h1m-42 1h1m11 0h1m6 0h1m20 1h1m-42 3h1m37 1h1m-15 1h1m8 0h1m-1 1h1m4 0h1m-29 1h1m15 0h1m-25 1h1m22 0h1m1 0h1m-20 2h1m3 0h1m11 0h1m1 0h1m-14 1h1m14 0h1m9 0h1m-31 1h1m17 1h1m2 0h1m5 0h1m-70 1h1" stroke="#000" stroke-width="1.3" stroke-opacity="0.45" fill="none"/>
<path d="M255.4 349.40000000000003H281.4" stroke="#000" stroke-width="1" stroke-dasharray=".7 .5" opacity=".45"/>
<g clip-path="url(#c45)"><ellipse cx="334.2" cy="318.6" rx="10.5" ry="8.819999999999999" opacity="0.15" transform="rotate(-57 334.2 318.6)" filter="url(#bl2)"/></g>
<g clip-path="url(#c46)"><path d="M342.0 303.7L343.2 308.9L341.3 315.6L338.6 322.0L333.2 323.6L329.8 323.1L327.2 316.7L327.6 312.6L334.0 308.7Z" opacity="1" filter="url(#bl)" stroke="#000" stroke-width="1.2" stroke-linejoin="round"/></g>
<g clip-path="url(#c47)"><ellipse cx="333.7" cy="321.6" rx="4.5" ry="3.5" opacity="0.3" transform="rotate(-50 333.7 321.6)" filter="url(#bl)"/></g>
<path transform="scale(.5)" d="M0 0m682 599h1m-21 1h1m7 0h1m10 0h1m0 0h1m2 0h1m-38 2h1m18 0h1m9 0h1m14 0h1m-23 1h1m1 0h1m4 0h1m1 0h1m1 0h1m15 0h1m-29 1h1m20 0h1m-18 1h1m17 0h1m-25 1h1m5 0h1m16 0h1m1 0h1m-16 1h1m1 0h1m9 0h1m1 0h1m0 0h1m-37 1h1m14 0h1m8 0h1m4 0h1m-27 1h1m22 0h1m4 0h1m2 0h1m-21 1h1m2 0h1m25 0h1m-39 1h1m0 0h1m5 0h1m11 0h1m1 0h1m14 0h1m-43 1h1m3 0h1m3 0h1m0 0h1m5 0h1m7 0h1m0 0h1m5 0h1m4 0h1m4 0h1m4 0h1m-22 1h1m2 0h1m6 0h1m3 0h1m-36 1h1m9 0h1m7 0h1m0 0h1m6 0h1m-35 1h1m13 0h1m4 0h1m5 0h1m14 0h1m6 0h1m0 0h1m0 0h1m-30 1h1m7 0h1m1 0h1m2 0h1m7 0h1m3 0h1m-39 1h1m14 0h1m6 0h1m0 0h1m5 0h1m0 0h1m0 0h1m2 0h1m-42 1h1m4 0h1m3 0h1m3 0h1m2 0h1m1 0h1m1 0h1m2 0h1m0 0h1m2 0h1m4 0h1m1 0h1m4 0h1m-36 1h1m8 0h1m3 0h1m2 0h1m0 0h1m8 0h1m-20 1h1m3 0h1m4 0h1m6 0h1m6 0h1m4 0h1m-38 1h1m6 0h1m2 0h1m0 0h1m1 0h1m0 0h1m0 0h1m0 0h1m0 0h1m3 0h1m0 0h1m9 0h1m4 0h1m-44 1h1m13 0h1m4 0h1m6 0h1m12 0h1m1 0h1m0 0h1m2 0h1m-53 1h1m7 0h1m6 0h1m5 0h1m9 0h1m0 0h1m1 0h1m5 0h1m2 0h1m6 0h1m9 0h1m-53 1h1m9 0h1m14 0h1m1 0h1m0 0h1m0 0h1m0 0h1m0 0h1m1 0h1m0 0h1m2 0h1m-23 1h1m7 0h1m0 0h1m1 0h1m0 0h1m2 0h1m3 0h1m1 0h1m1 0h1m0 0h1m-45 1h1m16 0h1m3 0h1m0 0h1m1 0h1m2 0h1m6 0h1m0 0h1m4 0h1m1 0h1m2 0h1m4 0h1m-36 1h1m3 0h1m3 0h1m1 0h1m0 0h1m0 0h1m0 0h1m0 0h1m5 0h1m1 0h1m0 0h1m1 0h1m-31 1h1m7 0h1m0 0h1m2 0h1m4 0h1m1 0h1m0 0h1m2 0h1m1 0h1m2 0h1m1 0h1m2 0h1m0 0h1m1 0h1m0 0h1m5 0h1m0 0h1m0 0h1m-46 1h1m6 0h1m10 0h1m0 0h1m1 0h1m1 0h1m0 0h1m1 0h1m2 0h1m0 0h1m1 0h1m0 0h1m4 0h1m-37 1h1m6 0h1m0 0h1m0 0h1m1 0h1m0 0h1m0 0h1m1 0h1m0 0h1m6 0h1m0 0h1m3 0h1m3 0h1m0 0h1m8 0h1m-68 1h1m17 0h1m3 0h1m1 0h1m2 0h1m0 0h1m6 0h1m0 0h1m2 0h1m0 0h1m0 0h1m5 0h1m3 0h1m1 0h1m2 0h1m5 0h1m-47 1h1m3 0h1m1 0h1m3 0h1m1 0h1m1 0h1m1 0h1m2 0h1m3 0h1m0 0h1m0 0h1m0 0h1m1 0h1m3 0h1m5 0h1m2 0h1m0 0h1m0 0h1m0 0h1m2 0h1m2 0h1m-47 1h1m1 0h1m6 0h1m0 0h1m1 0h1m0 0h1m3 0h1m0 0h1m1 0h1m5 0h1m3 0h1m0 0h1m2 0h1m10 0h1m-49 1h1m0 0h1m5 0h1m10 0h1m0 0h1m2 0h1m0 0h1m0 0h1m1 0h1m1 0h1m1 0h1m0 0h1m0 0h1m1 0h1m3 0h1m7 0h1m-51 1h1m0 0h1m13 0h1m1 0h1m0 0h1m0 0h1m0 0h1m0 0h1m1 0h1m0 0h1m0 0h1m1 0h1m0 0h1m0 0h1m0 0h1m1 0h1m3 0h1m4 0h1m3 0h1m0 0h1m-37 1h1m1 0h1m2 0h1m0 0h1m0 0h1m0 0h1m3 0h1m4 0h1m0 0h1m1 0h1m1 0h1m1 0h1m0 0h1m0 0h1m1 0h1m0 0h1m4 0h1m12 0h1m-67 1h1m6 0h1m4 0h1m9 0h1m0 0h1m1 0h1m1 0h1m0 0h1m0 0h1m0 0h1m5 0h1m2 0h1m1 0h1m0 0h1m2 0h1m3 0h1m4 0h1m8 0h1m-45 1h1m4 0h1m2 0h1m0 0h1m3 0h1m2 0h1m1 0h1m0 0h1m0 0h1m3 0h1m0 0h1m2 0h1m2 0h1m0 0h1m-44 1h1m6 0h1m3 0h1m4 0h1m2 0h1m2 0h1m2 0h1m1 0h1m2 0h1m0 0h1m0 0h1m2 0h1m2 0h1m2 0h1m1 0h1m0 0h1m1 0h1m4 0h1m0 0h1m2 0h1m-39 1h1m0 0h1m2 0h1m0 0h1m2 0h1m0 0h1m1 0h1m0 0h1m1 0h1m1 0h1m0 0h1m3 0h1m0 0h1m1 0h1m4 0h1m4 0h1m1 0h1m-45 1h1m2 0h1m1 0h1m2 0h1m0 0h1m1 0h1m0 0h1m0 0h1m0 0h1m2 0h1m0 0h1m0 0h1m0 0h1m3 0h1m7 0h1m1 0h1m3 0h1m9 0h1m-53 1h1m9 0h1m1 0h1m4 0h1m0 0h1m0 0h1m0 0h1m0 0h1m3 0h1m0 0h1m0 0h1m0 0h1m1 0h1m1 0h1m2 0h1m-37 1h1m1 0h1m1 0h1m4 0h1m3 0h1m0 0h1m0 0h1m0 0h1m0 0h1m0 0h1m1 0h1m0 0h1m3 0h1m0 0h1m2 0h1m1 0h1m0 0h1m3 0h1m1 0h1m6 0h1m4 0h1m-47 1h1m6 0h1m2 0h1m1 0h1m1 0h1m0 0h1m0 0h1m1 0h1m3 0h1m2 0h1m2 0h1m0 0h1m0 0h1m2 0h1m-40 1h1m5 0h1m2 0h1m2 0h1m5 0h1m1 0h1m0 0h1m2 0h1m0 0h1m0 0h1m0 0h1m1 0h1m0 0h1m3 0h1m5 0h1m1 0h1m-34 1h1m1 0h1m1 0h1m0 0h1m2 0h1m1 0h1m1 0h1m2 0h1m0 0h1m0 0h1m0 0h1m2 0h1m7 0h1m4 0h1m2 0h1m-41 1h1m2 0h1m2 0h1m3 0h1m1 0h1m2 0h1m0 0h1m0 0h1m1 0h1m1 0h1m1 0h1m1 0h1m0 0h1m0 0h1m0 0h1m0 0h1m2 0h1m0 0h1m0 0h1m5 0h1m2 0h1m5 0h1m-46 1h1m0 0h1m6 0h1m3 0h1m0 0h1m0 0h1m1 0h1m0 0h1m1 0h1m3 0h1m14 0h1m-50 1h1m4 0h1m2 0h1m5 0h1m1 0h1m2 0h1m0 0h1m0 0h1m0 0h1m3 0h1m0 0h1m0 0h1m11 0h1m1 0h1m2 0h1m2 0h1m-50 1h1m1 0h1m9 0h1m6 0h1m0 0h1m0 0h1m1 0h1m2 0h1m1 0h1m3 0h1m1 0h1m7 0h1m3 0h1m-42 1h1m0 0h1m4 0h1m2 0h1m3 0h1m3 0h1m4 0h1m1 0h1m1 0h1m0 0h1m1 0h1m8 0h1m-50 1h1m11 0h1m4 0h1m2 0h1m3 0h1m7 0h1m0 0h1m4 0h1m0 0h1m5 0h1m5 0h1m3 0h1m-42 1h1m4 0h1m6 0h1m3 0h1m2 0h1m3 0h1m0 0h1m1 0h1m7 0h1m-68 1h1m11 0h1m19 0h1m13 0h1m0 0h1m3 0h1m11 0h1m0 0h1m-20 1h1m1 0h1m0 0h1m2 0h1m0 0h1m0 0h1m3 0h1m6 0h1m2 0h1m15 0h1m-55 1h1m9 0h1m1 0h1m5 0h1m2 0h1m7 0h1m2 0h1m0 0h1m-18 1h1m0 0h1m11 0h1m-25 1h1m0 0h1m7 0h1m8 0h1m7 0h1m-32 1h1m17 0h1m6 0h1m0 0h1m2 0h1m4 0h1m-22 1h1m4 0h1m21 0h1m-27 1h1m0 0h1m8 0h1m-26 1h1m1 0h1m7 0h1m-49 1h1m40 0h1m3 0h1m3 0h1m19 0h1m-21 1h1m0 1h1m2 0h1m3 0h1m2 0h1m-15 1h1m34 0h1m-30 1h1m35 0h1m-27 1h1m11 0h1m-12 1h1m13 1h1m0 0h1m-18 1h1m19 0h1m-22 2h1m17 0h1m11 0h1m-39 1h1m-19 2h1m7 0h1m33 0h1m15 0h1m2 0h1m-22 1h1m11 1h1m2 0h1m-22 1h1m5 0h1m9 0h1m-14 1h1m18 0h1m1 1h1m-15 1h1m12 2h1m1 0h1m-18 1h1m14 0h1m-39 2h1m26 0h1m9 1h1m-15 3h1m7 0h1m8 0h1m-42 1h1m39 0h1m-45 2h1m43 1h1m-25 1h1m-5 1h1m28 0h1m-40 1h1m18 0h1m-30 1h1" stroke="#000" stroke-width="1.3" stroke-opacity="0.45" fill="none"/>
<path d="M323.5 349.40000000000003H350" stroke="#000" stroke-width="1" stroke-dasharray=".7 .5" opacity=".45"/>
<g clip-path="url(#c48)"><ellipse cx="267.4" cy="391.2" rx="10.5" ry="8.819999999999999" opacity="0.15" transform="rotate(-55 267.4 391.2)" filter="url(#bl2)"/></g>
<g clip-path="url(#c49)"><path d="M275.2 376.3L276.4 381.5L274.5 388.2L271.8 394.6L266.4 396.2L263.0 395.7L260.4 389.3L260.8 385.2L267.2 381.3Z" opacity="1" filter="url(#bl)" stroke="#000" stroke-width="1.2" stroke-linejoin="round"/></g>
<g clip-path="url(#c50)"><ellipse cx="266.9" cy="394.2" rx="4.5" ry="3.5" opacity="0.3" transform="rotate(-50 266.9 394.2)" filter="url(#bl)"/></g>
<path transform="scale(.5)" d="M0 0m547 745h1m0 0h1m-11 1h1m15 0h1m-18 1h1m4 0h1m14 1h1m-24 1h1m16 0h1m0 1h1m9 0h1m-39 1h1m13 0h1m5 0h1m1 0h1m5 0h1m2 0h1m-37 1h1m13 0h1m4 0h1m6 0h1m4 0h1m17 0h1m-32 1h1m4 0h1m0 0h1m0 0h1m5 0h1m1 0h1m0 0h1m-14 1h1m16 0h1m-36 1h1m3 0h1m-2 1h1m4 0h1m2 0h1m10 0h1m2 0h1m0 0h1m0 0h1m18 0h1m-45 1h1m14 0h1m6 0h1m3 0h1m2 0h1m2 0h1m-40 1h1m10 0h1m2 0h1m0 0h1m5 0h1m2 0h1m0 0h1m2 0h1m3 0h1m6 0h1m0 0h1m-28 1h1m0 0h1m4 0h1m1 0h1m3 0h1m10 0h1m1 0h1m-41 1h1m6 0h1m9 0h1m1 0h1m0 0h1m5 0h1m2 0h1m2 0h1m0 0h1m16 0h1m-42 1h1m4 0h1m13 0h1m3 0h1m0 0h1m0 0h1m4 0h1m1 0h1m0 0h1m1 0h1m2 0h1m2 0h1m-34 1h1m0 0h1m2 0h1m0 0h1m1 0h1m6 0h1m5 0h1m1 0h1m0 0h1m-23 1h1m1 0h1m2 0h1m4 0h1m0 0h1m0 0h1m2 0h1m-30 1h1m9 0h1m6 0h1m0 0h1m4 0h1m4 0h1m0 0h1m1 0h1m3 0h1m-47 1h1m20 0h1m12 0h1m1 0h1m16 0h1m-54 1h1m12 0h1m5 0h1m0 0h1m1 0h1m2 0h1m7 0h1m0 0h1m0 0h1m0 0h1m2 0h1m2 0h1m3 0h1m6 0h1m-39 1h1m2 0h1m1 0h1m2 0h1m3 0h1m0 0h1m0 0h1m2 0h1m0 0h1m0 0h1m0 0h1m2 0h1m1 0h1m4 0h1m-33 1h1m0 0h1m3 0h1m5 0h1m2 0h1m1 0h1m2 0h1m1 0h1m9 0h1m0 0h1m1 0h1m-40 1h1m4 0h1m0 0h1m2 0h1m2 0h1m0 0h1m3 0h1m1 0h1m1 0h1m4 0h1m0 0h1m0 0h1m0 0h1m10 0h1m9 0h1m2 0h1m-44 1h1m6 0h1m1 0h1m0 0h1m1 0h1m3 0h1m7 0h1m2 0h1m-26 1h1m2 0h1m0 0h1m13 0h1m4 0h1m2 0h1m1 0h1m11 0h1m-59 1h1m9 0h1m2 0h1m2 0h1m0 0h1m1 0h1m0 0h1m2 0h1m4 0h1m0 0h1m4 0h1m3 0h1m8 0h1m6 0h1m5 0h1m-72 1h1m10 0h1m2 0h1m4 0h1m0 0h1m5 0h1m6 0h1m2 0h1m1 0h1m1 0h1m0 0h1m5 0h1m1 0h1m2 0h1m1 0h1m3 0h1m-51 1h1m14 0h1m0 0h1m3 0h1m2 0h1m1 0h1m1 0h1m0 0h1m0 0h1m2 0h1m0 0h1m0 0h1m0 0h1m6 0h1m1 0h1m0 0h1m3 0h1m-67 1h1m18 0h1m6 0h1m0 0h1m10 0h1m0 0h1m3 0h1m0 0h1m0 0h1m0 0h1m0 0h1m0 0h1m1 0h1m0 0h1m0 0h1m0 0h1m0 0h1m1 0h1m2 0h1m-28 1h1m0 0h1m5 0h1m2 0h1m2 0h1m1 0h1m0 0h1m2 0h1m0 0h1m1 0h1m4 0h1m-79 1h1m45 0h1m7 0h1m1 0h1m0 0h1m0 0h1m3 0h1m1 0h1m1 0h1m0 0h1m1 0h1m8 0h1m2 0h1m17 0h1m-61 1h1m0 0h1m7 0h1m4 0h1m0 0h1m2 0h1m0 0h1m0 0h1m1 0h1m1 0h1m0 0h1m0 0h1m4 0h1m0 0h1m1 0h1m0 0h1m7 0h1m1 0h1m0 0h1m-43 1h1m2 0h1m6 0h1m0 0h1m0 0h1m0 0h1m1 0h1m2 0h1m5 0h1m0 0h1m3 0h1m1 0h1m2 0h1m1 0h1m14 0h1m-49 1h1m8 0h1m0 0h1m0 0h1m1 0h1m0 0h1m1 0h1m1 0h1m0 0h1m0 0h1m3 0h1m0 0h1m5 0h1m1 0h1m4 0h1m-48 1h1m1 0h1m8 0h1m2 0h1m1 0h1m2 0h1m0 0h1m0 0h1m1 0h1m0 0h1m0 0h1m0 0h1m1 0h1m0 0h1m3 0h1m10 0h1m2 0h1m-43 1h1m12 0h1m0 0h1m0 0h1m0 0h1m4 0h1m0 0h1m0 0h1m0 0h1m2 0h1m0 0h1m2 0h1m0 0h1m1 0h1m1 0h1m3 0h1m-38 1h1m7 0h1m4 0h1m0 0h1m1 0h1m3 0h1m0 0h1m0 0h1m0 0h1m3 0h1m0 0h1m0 0h1m11 0h1m1 0h1m1 0h1m1 0h1m4 0h1m-51 1h1m6 0h1m0 0h1m0 0h1m7 0h1m0 0h1m1 0h1m2 0h1m1 0h1m0 0h1m0 0h1m0 0h1m2 0h1m3 0h1m-47 1h1m7 0h1m3 0h1m1 0h1m2 0h1m0 0h1m0 0h1m0 0h1m0 0h1m2 0h1m1 0h1m1 0h1m1 0h1m2 0h1m3 0h1m4 0h1m2 0h1m6 0h1m6 0h1m-46 1h1m0 0h1m0 0h1m4 0h1m0 0h1m1 0h1m1 0h1m0 0h1m0 0h1m1 0h1m0 0h1m3 0h1m2 0h1m1 0h1m1 0h1m1 0h1m-28 1h1m0 0h1m0 0h1m0 0h1m0 0h1m2 0h1m2 0h1m0 0h1m0 0h1m0 0h1m0 0h1m2 0h1m1 0h1m2 0h1m0 0h1m15 0h1m2 0h1m-46 1h1m2 0h1m2 0h1m0 0h1m0 0h1m0 0h1m0 0h1m1 0h1m0 0h1m0 0h1m0 0h1m0 0h1m0 0h1m0 0h1m2 0h1m0 0h1m0 0h1m2 0h1m2 0h1m4 0h1m-76 1h1m27 0h1m7 0h1m4 0h1m0 0h1m1 0h1m2 0h1m0 0h1m0 0h1m0 0h1m4 0h1m5 0h1m0 0h1m1 0h1m-29 1h1m2 0h1m4 0h1m6 0h1m0 0h1m1 0h1m0 0h1m0 0h1m0 0h1m1 0h1m0 0h1m3 0h1m15 0h1m9 0h1m-51 1h1m3 0h1m0 0h1m3 0h1m0 0h1m4 0h1m0 0h1m0 0h1m0 0h1m9 0h1m3 0h1m0 0h1m-41 1h1m8 0h1m0 0h1m0 0h1m1 0h1m0 0h1m0 0h1m0 0h1m2 0h1m0 0h1m1 0h1m3 0h1m1 0h1m1 0h1m5 0h1m0 0h1m17 0h1m-52 1h1m3 0h1m0 0h1m1 0h1m6 0h1m3 0h1m3 0h1m0 0h1m7 0h1m18 0h1m-52 1h1m4 0h1m1 0h1m1 0h1m0 0h1m1 0h1m0 0h1m0 0h1m0 0h1m3 0h1m2 0h1m1 0h1m0 0h1m3 0h1m-66 1h1m35 0h1m0 0h1m6 0h1m6 0h1m1 0h1m0 0h1m0 0h1m2 0h1m2 0h1m4 0h1m2 0h1m-18 1h1m1 0h1m0 0h1m0 0h1m3 0h1m2 0h1m1 0h1m2 0h1m1 0h1m-34 1h1m7 0h1m0 0h1m0 0h1m4 0h1m-24 1h1m5 0h1m0 0h1m4 0h1m0 0h1m1 0h1m2 0h1m1 0h1m1 0h1m3 0h1m0 0h1m1 0h1m4 0h1m2 0h1m18 0h1m-56 1h1m7 0h1m9 0h1m0 0h1m0 0h1m0 0h1m8 0h1m4 0h1m3 0h1m3 0h1m-36 1h1m7 0h1m4 0h1m9 0h1m-22 1h1m14 0h1m4 0h1m0 0h1m1 0h1m0 0h1m5 0h1m18 0h1m-61 1h1m21 0h1m7 0h1m27 0h1m-64 1h1m7 0h1m4 0h1m18 0h1m0 0h1m1 0h1m10 0h1m2 0h1m2 0h1m-26 1h1m5 0h1m10 0h1m4 0h1m-49 1h1m5 0h1m39 0h1m-44 1h1m8 0h1m1 0h1m16 0h1m19 0h1m4 0h1m-40 1h1m33 0h1m-43 1h1m12 0h1m18 0h1m9 0h1m2 0h1m-18 1h1m3 0h1m4 0h1m-30 1h1m-6 1h1m3 0h1m-4 1h1m6 0h1m32 0h1m7 0h1m-67 1h1m33 0h1m20 0h1m2 0h1m8 0h1m-64 1h1m17 0h1m5 0h1m18 2h1m1 0h1m-36 1h1m39 0h1m-29 1h1m41 0h1m0 0h1m-32 1h1m-25 4h1m22 0h1m-19 1h1m37 0h1m5 0h1m-22 1h1m20 1h1m-3 1h1m-12 1h1m17 1h1m-20 1h1m8 0h1m-54 1h1m49 1h1m-14 1h1m8 1h1m-19 2h1m30 0h1m-10 2h1m14 0h1m-55 1h1m6 0h1m32 0h1m12 0h1" stroke="#000" stroke-width="1.3" stroke-opacity="0.45" fill="none"/>
<path d="M256.6 419.5H284.8" stroke="#000" stroke-width="1" stroke-dasharray=".7 .5" opacity=".45"/>
<g clip-path="url(#c51)"><ellipse cx="333.2" cy="394.5" rx="11.0" ry="8.819999999999999" opacity="0.15" transform="rotate(-57 333.2 394.5)" filter="url(#bl2)"/></g>
<g clip-path="url(#c52)"><path d="M341.2 379.3L342.4 384.7L340.5 391.6L337.7 398.1L332.1 399.8L328.6 399.3L326.0 392.6L326.3 388.4L332.9 384.5Z" opacity="1" filter="url(#bl)" stroke="#000" stroke-width="1.2" stroke-linejoin="round"/></g>
<g clip-path="url(#c53)"><ellipse cx="332.7" cy="397.5" rx="4.5" ry="3.5" opacity="0.3" transform="rotate(-50 332.7 397.5)" filter="url(#bl)"/></g>
<path transform="scale(.5)" d="M0 0m667 747h1m32 0h1m3 0h1m-29 1h1m20 0h1m-41 1h1m23 0h1m16 0h1m-10 1h1m7 0h1m1 0h1m-33 1h1m-3 1h1m2 0h1m30 0h1m-29 1h1m-8 1h1m4 0h1m-12 1h1m13 0h1m19 0h1m-26 1h1m0 0h1m7 0h1m11 0h1m-35 2h1m19 0h1m22 0h1m1 0h1m-42 1h1m8 0h1m1 0h1m15 0h1m0 0h1m5 0h1m0 0h1m-34 1h1m2 0h1m2 0h1m18 0h1m6 0h1m-20 1h1m0 0h1m10 0h1m0 0h1m10 0h1m-40 1h1m-20 1h1m10 0h1m3 0h1m2 0h1m4 0h1m1 0h1m3 0h1m20 0h1m-34 1h1m13 0h1m1 0h1m14 0h1m-22 1h1m0 0h1m4 0h1m2 0h1m4 0h1m1 0h1m1 0h1m1 0h1m1 0h1m-46 1h1m3 0h1m6 0h1m5 0h1m15 0h1m-17 1h1m0 0h1m3 0h1m5 0h1m4 0h1m0 0h1m18 0h1m0 0h1m-48 1h1m12 0h1m11 0h1m0 0h1m6 0h1m3 0h1m1 0h1m2 0h1m-20 1h1m0 0h1m10 0h1m0 0h1m3 0h1m-71 1h1m38 0h1m4 0h1m8 0h1m16 0h1m3 0h1m0 0h1m-39 1h1m5 0h1m0 0h1m1 0h1m14 0h1m3 0h1m10 0h1m3 0h1m-40 1h1m8 0h1m7 0h1m6 0h1m7 0h1m3 0h1m5 0h1m-55 1h1m12 0h1m3 0h1m3 0h1m1 0h1m1 0h1m3 0h1m0 0h1m1 0h1m-32 1h1m6 0h1m2 0h1m7 0h1m3 0h1m2 0h1m1 0h1m12 0h1m-36 1h1m0 0h1m0 0h1m4 0h1m0 0h1m1 0h1m4 0h1m4 0h1m0 0h1m0 0h1m4 0h1m0 0h1m12 0h1m-39 1h1m0 0h1m1 0h1m1 0h1m7 0h1m1 0h1m1 0h1m4 0h1m2 0h1m0 0h1m0 0h1m12 0h1m-52 1h1m5 0h1m4 0h1m1 0h1m1 0h1m6 0h1m0 0h1m1 0h1m1 0h1m0 0h1m2 0h1m7 0h1m0 0h1m5 0h1m-54 1h1m5 0h1m3 0h1m4 0h1m3 0h1m0 0h1m1 0h1m0 0h1m1 0h1m2 0h1m0 0h1m5 0h1m6 0h1m-31 1h1m0 0h1m0 0h1m5 0h1m0 0h1m1 0h1m1 0h1m1 0h1m2 0h1m0 0h1m1 0h1m7 0h1m1 0h1m0 0h1m-33 1h1m1 0h1m3 0h1m9 0h1m1 0h1m2 0h1m4 0h1m5 0h1m8 0h1m-51 1h1m2 0h1m4 0h1m3 0h1m0 0h1m1 0h1m1 0h1m0 0h1m2 0h1m4 0h1m1 0h1m3 0h1m0 0h1m1 0h1m0 0h1m0 0h1m2 0h1m3 0h1m0 0h1m10 0h1m-52 1h1m4 0h1m1 0h1m3 0h1m4 0h1m4 0h1m1 0h1m0 0h1m2 0h1m1 0h1m7 0h1m6 0h1m0 0h1m-60 1h1m1 0h1m5 0h1m13 0h1m5 0h1m0 0h1m1 0h1m0 0h1m2 0h1m0 0h1m0 0h1m0 0h1m1 0h1m4 0h1m0 0h1m2 0h1m2 0h1m1 0h1m1 0h1m-36 1h1m2 0h1m0 0h1m0 0h1m3 0h1m0 0h1m0 0h1m0 0h1m0 0h1m0 0h1m2 0h1m0 0h1m1 0h1m2 0h1m0 0h1m4 0h1m-43 1h1m9 0h1m4 0h1m0 0h1m0 0h1m4 0h1m0 0h1m1 0h1m3 0h1m0 0h1m10 0h1m4 0h1m6 0h1m-55 1h1m6 0h1m3 0h1m1 0h1m6 0h1m2 0h1m0 0h1m3 0h1m1 0h1m1 0h1m0 0h1m1 0h1m0 0h1m0 0h1m0 0h1m0 0h1m4 0h1m6 0h1m4 0h1m-53 1h1m1 0h1m5 0h1m4 0h1m0 0h1m2 0h1m2 0h1m0 0h1m0 0h1m0 0h1m0 0h1m1 0h1m0 0h1m1 0h1m2 0h1m5 0h1m0 0h1m-31 1h1m1 0h1m0 0h1m2 0h1m4 0h1m1 0h1m2 0h1m2 0h1m1 0h1m0 0h1m5 0h1m3 0h1m15 0h1m-63 1h1m4 0h1m11 0h1m2 0h1m1 0h1m0 0h1m3 0h1m0 0h1m2 0h1m0 0h1m0 0h1m1 0h1m0 0h1m0 0h1m6 0h1m3 0h1m-53 1h1m2 0h1m12 0h1m0 0h1m1 0h1m5 0h1m1 0h1m0 0h1m1 0h1m2 0h1m5 0h1m0 0h1m3 0h1m5 0h1m-44 1h1m10 0h1m3 0h1m1 0h1m0 0h1m0 0h1m3 0h1m0 0h1m0 0h1m2 0h1m6 0h1m0 0h1m3 0h1m5 0h1m-44 1h1m6 0h1m0 0h1m3 0h1m1 0h1m0 0h1m0 0h1m0 0h1m0 0h1m1 0h1m0 0h1m2 0h1m6 0h1m0 0h1m12 0h1m-43 1h1m3 0h1m4 0h1m2 0h1m1 0h1m1 0h1m1 0h1m0 0h1m0 0h1m4 0h1m0 0h1m0 0h1m3 0h1m2 0h1m2 0h1m13 0h1m-54 1h1m5 0h1m2 0h1m2 0h1m4 0h1m0 0h1m1 0h1m2 0h1m3 0h1m1 0h1m3 0h1m0 0h1m-48 1h1m8 0h1m1 0h1m4 0h1m1 0h1m0 0h1m0 0h1m1 0h1m1 0h1m5 0h1m0 0h1m0 0h1m1 0h1m1 0h1m1 0h1m2 0h1m1 0h1m1 0h1m1 0h1m0 0h1m4 0h1m10 0h1m0 0h1m-51 1h1m2 0h1m4 0h1m3 0h1m1 0h1m0 0h1m0 0h1m2 0h1m0 0h1m2 0h1m-31 1h1m5 0h1m3 0h1m1 0h1m0 0h1m0 0h1m0 0h1m0 0h1m0 0h1m3 0h1m3 0h1m3 0h1m1 0h1m1 0h1m5 0h1m0 0h1m0 0h1m-29 1h1m1 0h1m1 0h1m0 0h1m2 0h1m3 0h1m2 0h1m1 0h1m2 0h1m-30 1h1m5 0h1m0 0h1m0 0h1m0 0h1m0 0h1m5 0h1m0 0h1m0 0h1m3 0h1m0 0h1m0 0h1m1 0h1m4 0h1m11 0h1m10 0h1m-54 1h1m1 0h1m2 0h1m0 0h1m1 0h1m1 0h1m0 0h1m1 0h1m0 0h1m4 0h1m2 0h1m0 0h1m0 0h1m1 0h1m1 0h1m1 0h1m2 0h1m18 0h1m-52 1h1m6 0h1m0 0h1m4 0h1m4 0h1m3 0h1m3 0h1m1 0h1m1 0h1m1 0h1m5 0h1m-44 1h1m5 0h1m1 0h1m4 0h1m2 0h1m0 0h1m1 0h1m1 0h1m0 0h1m0 0h1m0 0h1m1 0h1m0 0h1m0 0h1m4 0h1m0 0h1m2 0h1m-28 1h1m1 0h1m1 0h1m3 0h1m5 0h1m3 0h1m0 0h1m1 0h1m3 0h1m0 0h1m3 0h1m-38 1h1m5 0h1m0 0h1m3 0h1m6 0h1m0 0h1m2 0h1m14 0h1m1 0h1m-47 1h1m6 0h1m0 0h1m2 0h1m6 0h1m2 0h1m3 0h1m0 0h1m1 0h1m1 0h1m0 0h1m0 0h1m2 0h1m-38 1h1m4 0h1m2 0h1m3 0h1m1 0h1m0 0h1m0 0h1m1 0h1m2 0h1m7 0h1m1 0h1m1 0h1m1 0h1m3 0h1m17 0h1m4 0h1m-79 1h1m17 0h1m17 0h1m0 0h1m5 0h1m0 0h1m0 0h1m2 0h1m17 0h1m-26 1h1m1 0h1m0 0h1m2 0h1m0 0h1m3 0h1m1 0h1m5 0h1m10 0h1m-35 1h1m2 0h1m7 0h1m0 0h1m1 0h1m9 0h1m-61 1h1m22 0h1m11 0h1m0 0h1m4 0h1m29 0h1m-67 1h1m19 0h1m1 0h1m0 0h1m37 0h1m5 0h1m-51 1h1m2 0h1m5 0h1m5 0h1m6 0h1m-20 1h1m13 0h1m0 0h1m5 0h1m5 0h1m15 1h1m3 0h1m-45 1h1m16 0h1m-20 1h1m4 0h1m8 0h1m8 0h1m-11 1h1m11 0h1m9 0h1m-24 1h1m2 0h1m-14 1h1m-2 1h1m14 0h1m19 0h1m-3 1h1m3 0h1m-37 1h1m37 0h1m5 0h1m-20 1h1m-22 1h1m9 0h1m30 1h1m0 0h1m-68 1h1m21 1h1m9 0h1m3 3h1m34 0h1m-5 1h1m-48 1h1m4 1h1m30 0h1m-19 1h1m26 0h1m8 0h1m-47 1h1m26 0h1m-35 1h1m7 0h1m1 0h1m24 0h1m8 0h1m3 0h1m0 0h1m-16 1h1m11 1h1m-13 1h1m-7 1h1m-27 1h1" stroke="#000" stroke-width="1.3" stroke-opacity="0.45" fill="none"/>
<path d="M324 420.3H351.9" stroke="#000" stroke-width="1" stroke-dasharray=".7 .5" opacity=".45"/>
<rect x="51" y="29" width="53.0" height="51.5" fill="none" stroke="#7a7a7a" stroke-width="0.9"/>
<path d="M80.5 29V80.5M51 50.5H104" stroke="#4a4a4a" stroke-width="1.2"/>
<use href="#h0" x="53.6" y="87.2"/>
<use href="#v0" x="48.2" y="78.6"/>
<use href="#h1" x="66.0" y="87.2"/>
<use href="#v1" x="48.2" y="66.4"/>
<use href="#h2" x="78.5" y="87.2"/>
<use href="#v2" x="48.2" y="54.2"/>
<use href="#h3" x="90.9" y="87.2"/>
<use href="#v3" x="48.2" y="42.1"/>
<use href="#h4" x="103.3" y="87.2"/>
<use href="#v4" x="48.2" y="29.9"/>
<text x="77.25" y="24.1" font-size="6.4" font-weight="bold" text-anchor="middle" stroke="#000" stroke-width=".15">0 μM</text>
<text x="84" y="36.2" font-size="5.8" font-weight="bold" fill="#e8141c" style="stroke:#e8141c;stroke-width:.3px">5.04</text>
<rect x="118" y="29" width="53.0" height="51.5" fill="none" stroke="#7a7a7a" stroke-width="0.9"/>
<path d="M148.6 29V80.5M118 50.7H171" stroke="#4a4a4a" stroke-width="1.2"/>
<use href="#h0" x="120.6" y="87.2"/>
<use href="#v0" x="115.2" y="78.6"/>
<use href="#h1" x="133.0" y="87.2"/>
<use href="#v1" x="115.2" y="66.4"/>
<use href="#h2" x="145.4" y="87.2"/>
<use href="#v2" x="115.2" y="54.2"/>
<use href="#h3" x="157.9" y="87.2"/>
<use href="#v3" x="115.2" y="42.1"/>
<use href="#h4" x="170.3" y="87.2"/>
<use href="#v4" x="115.2" y="29.9"/>
<text x="145" y="23.9" font-size="6.4" font-weight="bold" text-anchor="middle" stroke="#000" stroke-width=".15">0.5 μM</text>
<text x="150.5" y="36.2" font-size="5.8" font-weight="bold" fill="#e8141c" style="stroke:#e8141c;stroke-width:.3px">6.66</text>
<rect x="51" y="103.3" width="53.0" height="51.7" fill="none" stroke="#7a7a7a" stroke-width="0.9"/>
<path d="M80.5 103.3V155M51 124.8H104" stroke="#4a4a4a" stroke-width="1.2"/>
<use href="#h0" x="53.6" y="161.7"/>
<use href="#v0" x="48.2" y="153.1"/>
<use href="#h1" x="66.0" y="161.7"/>
<use href="#v1" x="48.2" y="140.9"/>
<use href="#h2" x="78.5" y="161.7"/>
<use href="#v2" x="48.2" y="128.6"/>
<use href="#h3" x="90.9" y="161.7"/>
<use href="#v3" x="48.2" y="116.4"/>
<use href="#h4" x="103.3" y="161.7"/>
<use href="#v4" x="48.2" y="104.2"/>
<text x="76.9" y="98.8" font-size="6.4" font-weight="bold" text-anchor="middle" stroke="#000" stroke-width=".15">1 μM</text>
<text x="84" y="109.9" font-size="5.8" font-weight="bold" fill="#e8141c" style="stroke:#e8141c;stroke-width:.3px">7.43</text>
<rect x="118" y="103.3" width="53.0" height="52.0" fill="none" stroke="#7a7a7a" stroke-width="0.9"/>
<path d="M148.4 103.3V155.3M118 125H171" stroke="#4a4a4a" stroke-width="1.2"/>
<use href="#h0" x="120.6" y="162.0"/>
<use href="#v0" x="115.2" y="153.4"/>
<use href="#h1" x="133.0" y="162.0"/>
<use href="#v1" x="115.2" y="141.1"/>
<use href="#h2" x="145.4" y="162.0"/>
<use href="#v2" x="115.2" y="128.8"/>
<use href="#h3" x="157.9" y="162.0"/>
<use href="#v3" x="115.2" y="116.5"/>
<use href="#h4" x="170.3" y="162.0"/>
<use href="#v4" x="115.2" y="104.2"/>
<text x="145.2" y="99" font-size="6.4" font-weight="bold" text-anchor="middle" stroke="#000" stroke-width=".15">2 μM</text>
<text x="150.5" y="109.9" font-size="5.8" font-weight="bold" fill="#e8141c" style="stroke:#e8141c;stroke-width:.3px">9.46</text>
<rect x="232.7" y="29" width="52.4" height="51.4" fill="none" stroke="#7a7a7a" stroke-width="0.9"/>
<path d="M263 29V80.4M232.7 52.7H285.1" stroke="#4a4a4a" stroke-width="1.2"/>
<use href="#h0" x="235.3" y="87.1"/>
<use href="#v0" x="231.3" y="78.5"/>
<use href="#h1" x="247.6" y="87.1"/>
<use href="#v1" x="231.3" y="66.3"/>
<use href="#h2" x="259.9" y="87.1"/>
<use href="#v2" x="231.3" y="54.2"/>
<use href="#h3" x="272.1" y="87.1"/>
<use href="#v3" x="231.3" y="42.0"/>
<use href="#h4" x="284.4" y="87.1"/>
<use href="#v4" x="231.3" y="29.9"/>
<text x="260.75" y="24.4" font-size="6.4" font-weight="bold" text-anchor="middle" stroke="#000" stroke-width=".15">0 μM</text>
<text x="265.4" y="36.4" font-size="5.8" font-weight="bold" fill="#e8141c" style="stroke:#e8141c;stroke-width:.3px">3.18</text>
<rect x="301.3" y="29" width="51.2" height="51.4" fill="none" stroke="#7a7a7a" stroke-width="0.9"/>
<path d="M330 29V80.4M301.3 52.9H352.5" stroke="#4a4a4a" stroke-width="1.2"/>
<use href="#h0" x="303.9" y="87.1"/>
<use href="#v0" x="299.9" y="78.5"/>
<use href="#h1" x="315.9" y="87.1"/>
<use href="#v1" x="299.9" y="66.3"/>
<use href="#h2" x="327.9" y="87.1"/>
<use href="#v2" x="299.9" y="54.2"/>
<use href="#h3" x="339.8" y="87.1"/>
<use href="#v3" x="299.9" y="42.0"/>
<use href="#h4" x="351.8" y="87.1"/>
<use href="#v4" x="299.9" y="29.9"/>
<text x="328.2" y="23.9" font-size="6.4" font-weight="bold" text-anchor="middle" stroke="#000" stroke-width=".15">0.5 μM</text>
<text x="332" y="36.4" font-size="5.8" font-weight="bold" fill="#e8141c" style="stroke:#e8141c;stroke-width:.3px">2.66</text>
<rect x="232.7" y="103.3" width="52.4" height="51.0" fill="none" stroke="#7a7a7a" stroke-width="0.9"/>
<path d="M263 103.3V154.3M232.7 127.3H285.1" stroke="#4a4a4a" stroke-width="1.2"/>
<use href="#h0" x="235.3" y="161.0"/>
<use href="#v0" x="231.3" y="152.4"/>
<use href="#h1" x="247.6" y="161.0"/>
<use href="#v1" x="231.3" y="140.3"/>
<use href="#h2" x="259.9" y="161.0"/>
<use href="#v2" x="231.3" y="128.3"/>
<use href="#h3" x="272.1" y="161.0"/>
<use href="#v3" x="231.3" y="116.2"/>
<use href="#h4" x="284.4" y="161.0"/>
<use href="#v4" x="231.3" y="104.2"/>
<text x="260" y="98.8" font-size="6.4" font-weight="bold" text-anchor="middle" stroke="#000" stroke-width=".15">1 μM</text>
<text x="265.4" y="110.2" font-size="5.8" font-weight="bold" fill="#e8141c" style="stroke:#e8141c;stroke-width:.3px">3.14</text>
<rect x="301.3" y="103.3" width="51.2" height="51.3" fill="none" stroke="#7a7a7a" stroke-width="0.9"/>
<path d="M330 103.3V154.6M301.3 127.5H352.5" stroke="#4a4a4a" stroke-width="1.2"/>
<use href="#h0" x="303.9" y="161.3"/>
<use href="#v0" x="299.9" y="152.7"/>
<use href="#h1" x="315.9" y="161.3"/>
<use href="#v1" x="299.9" y="140.6"/>
<use href="#h2" x="327.9" y="161.3"/>
<use href="#v2" x="299.9" y="128.4"/>
<use href="#h3" x="339.8" y="161.3"/>
<use href="#v3" x="299.9" y="116.3"/>
<use href="#h4" x="351.8" y="161.3"/>
<use href="#v4" x="299.9" y="104.2"/>
<text x="328.2" y="99.2" font-size="6.4" font-weight="bold" text-anchor="middle" stroke="#000" stroke-width=".15">2 μM</text>
<text x="332" y="110.2" font-size="5.8" font-weight="bold" fill="#e8141c" style="stroke:#e8141c;stroke-width:.3px">4.68</text>
<rect x="53" y="298.7" width="49.4" height="49.3" fill="none" stroke="#7a7a7a" stroke-width="0.9"/>
<path d="M75 298.7V348M53 330.6H102.4" stroke="#4a4a4a" stroke-width="1.2"/>
<use href="#h0" x="55.6" y="354.7"/>
<use href="#v0" x="50.8" y="346.1"/>
<use href="#h1" x="67.1" y="354.7"/>
<use href="#v1" x="50.8" y="334.5"/>
<use href="#h2" x="78.7" y="354.7"/>
<use href="#v2" x="50.8" y="322.9"/>
<use href="#h3" x="90.2" y="354.7"/>
<use href="#v3" x="50.8" y="311.2"/>
<use href="#h4" x="101.7" y="354.7"/>
<use href="#v4" x="50.8" y="299.6"/>
<text x="77.25" y="290.8" font-size="6.4" font-weight="bold" text-anchor="middle" stroke="#000" stroke-width=".15">0 μM</text>
<text x="77" y="344.2" font-size="5.8" font-weight="bold" fill="#e8141c" style="stroke:#e8141c;stroke-width:.3px">9.04</text>
<rect x="120.6" y="298.7" width="48.4" height="49.3" fill="none" stroke="#7a7a7a" stroke-width="0.9"/>
<path d="M141.3 298.7V348M120.6 330.2H169" stroke="#4a4a4a" stroke-width="1.2"/>
<use href="#h0" x="123.2" y="354.7"/>
<use href="#v0" x="118.4" y="346.1"/>
<use href="#h1" x="134.5" y="354.7"/>
<use href="#v1" x="118.4" y="334.5"/>
<use href="#h2" x="145.8" y="354.7"/>
<use href="#v2" x="118.4" y="322.9"/>
<use href="#h3" x="157.0" y="354.7"/>
<use href="#v3" x="118.4" y="311.2"/>
<use href="#h4" x="168.3" y="354.7"/>
<use href="#v4" x="118.4" y="299.6"/>
<text x="145.2" y="290.8" font-size="6.4" font-weight="bold" text-anchor="middle" stroke="#000" stroke-width=".15">0.5 μM</text>
<text x="142.9" y="344.2" font-size="5.8" font-weight="bold" fill="#e8141c" style="stroke:#e8141c;stroke-width:.3px">15.54</text>
<rect x="52.3" y="370.4" width="49.3" height="50.0" fill="none" stroke="#7a7a7a" stroke-width="0.9"/>
<path d="M74.7 370.4V420.4M52.3 401.5H101.6" stroke="#4a4a4a" stroke-width="1.2"/>
<use href="#h0" x="54.9" y="427.1"/>
<use href="#v0" x="50.1" y="418.5"/>
<use href="#h1" x="66.4" y="427.1"/>
<use href="#v1" x="50.1" y="406.7"/>
<use href="#h2" x="77.9" y="427.1"/>
<use href="#v2" x="50.1" y="394.9"/>
<use href="#h3" x="89.4" y="427.1"/>
<use href="#v3" x="50.1" y="383.1"/>
<use href="#h4" x="100.9" y="427.1"/>
<use href="#v4" x="50.1" y="371.3"/>
<text x="76.9" y="365.9" font-size="6.4" font-weight="bold" text-anchor="middle" stroke="#000" stroke-width=".15">1 μM</text>
<text x="76" y="417.8" font-size="5.8" font-weight="bold" fill="#e8141c" style="stroke:#e8141c;stroke-width:.3px">14.95</text>
<rect x="120.6" y="371.5" width="49.5" height="49.7" fill="none" stroke="#7a7a7a" stroke-width="0.9"/>
<path d="M141.4 371.5V421.2M120.6 402.2H170.1" stroke="#4a4a4a" stroke-width="1.2"/>
<use href="#h0" x="123.2" y="427.9"/>
<use href="#v0" x="118.4" y="419.3"/>
<use href="#h1" x="134.8" y="427.9"/>
<use href="#v1" x="118.4" y="407.6"/>
<use href="#h2" x="146.3" y="427.9"/>
<use href="#v2" x="118.4" y="395.9"/>
<use href="#h3" x="157.8" y="427.9"/>
<use href="#v3" x="118.4" y="384.1"/>
<use href="#h4" x="169.4" y="427.9"/>
<use href="#v4" x="118.4" y="372.4"/>
<text x="145" y="366.4" font-size="6.4" font-weight="bold" text-anchor="middle" stroke="#000" stroke-width=".15">2 μM</text>
<text x="142.3" y="417.8" font-size="5.8" font-weight="bold" fill="#e8141c" style="stroke:#e8141c;stroke-width:.3px">27.32</text>
<rect x="232.4" y="298.7" width="50.0" height="51.6" fill="none" stroke="#7a7a7a" stroke-width="0.9"/>
<path d="M254.4 298.7V350.3M232.4 331.2H282.4" stroke="#4a4a4a" stroke-width="1.2"/>
<use href="#h0" x="235.0" y="357.0"/>
<use href="#v0" x="230.5" y="348.4"/>
<use href="#h1" x="246.7" y="357.0"/>
<use href="#v1" x="230.5" y="336.2"/>
<use href="#h2" x="258.3" y="357.0"/>
<use href="#v2" x="230.5" y="324.0"/>
<use href="#h3" x="270.0" y="357.0"/>
<use href="#v3" x="230.5" y="311.8"/>
<use href="#h4" x="281.7" y="357.0"/>
<use href="#v4" x="230.5" y="299.6"/>
<text x="256.3" y="291.2" font-size="6.4" font-weight="bold" text-anchor="middle" stroke="#000" stroke-width=".15">0 μM</text>
<text x="271" y="344.2" font-size="5.8" font-weight="bold" fill="#e8141c" style="stroke:#e8141c;stroke-width:.3px">1.96</text>
<rect x="299.4" y="298.7" width="51.6" height="51.6" fill="none" stroke="#7a7a7a" stroke-width="0.9"/>
<path d="M322.5 298.7V350.3M299.4 331.2H351" stroke="#4a4a4a" stroke-width="1.2"/>
<use href="#h0" x="302.0" y="357.0"/>
<use href="#v0" x="297.5" y="348.4"/>
<use href="#h1" x="314.1" y="357.0"/>
<use href="#v1" x="297.5" y="336.2"/>
<use href="#h2" x="326.2" y="357.0"/>
<use href="#v2" x="297.5" y="324.0"/>
<use href="#h3" x="338.2" y="357.0"/>
<use href="#v3" x="297.5" y="311.8"/>
<use href="#h4" x="350.3" y="357.0"/>
<use href="#v4" x="297.5" y="299.6"/>
<text x="324" y="290.8" font-size="6.4" font-weight="bold" text-anchor="middle" stroke="#000" stroke-width=".15">0.5 μM</text>
<text x="338" y="344.2" font-size="5.8" font-weight="bold" fill="#e8141c" style="stroke:#e8141c;stroke-width:.3px">5.09</text>
<rect x="232.3" y="371.4" width="53.5" height="49.0" fill="none" stroke="#7a7a7a" stroke-width="0.9"/>
<path d="M255.6 371.4V420.4M232.3 402.7H285.8" stroke="#4a4a4a" stroke-width="1.2"/>
<use href="#h0" x="234.9" y="427.1"/>
<use href="#v0" x="230.4" y="418.5"/>
<use href="#h1" x="247.5" y="427.1"/>
<use href="#v1" x="230.4" y="406.9"/>
<use href="#h2" x="260.0" y="427.1"/>
<use href="#v2" x="230.4" y="395.4"/>
<use href="#h3" x="272.6" y="427.1"/>
<use href="#v3" x="230.4" y="383.9"/>
<use href="#h4" x="285.1" y="427.1"/>
<use href="#v4" x="230.4" y="372.3"/>
<text x="255.8" y="366" font-size="6.4" font-weight="bold" text-anchor="middle" stroke="#000" stroke-width=".15">1 μM</text>
<text x="270" y="417.8" font-size="5.8" font-weight="bold" fill="#e8141c" style="stroke:#e8141c;stroke-width:.3px">5.88</text>
<rect x="299.9" y="372.4" width="53.0" height="48.8" fill="none" stroke="#7a7a7a" stroke-width="0.9"/>
<path d="M323 372.4V421.2M299.9 403.7H352.9" stroke="#4a4a4a" stroke-width="1.2"/>
<use href="#h0" x="302.5" y="427.9"/>
<use href="#v0" x="298.0" y="419.3"/>
<use href="#h1" x="314.9" y="427.9"/>
<use href="#v1" x="298.0" y="407.8"/>
<use href="#h2" x="327.4" y="427.9"/>
<use href="#v2" x="298.0" y="396.3"/>
<use href="#h3" x="339.8" y="427.9"/>
<use href="#v3" x="298.0" y="384.8"/>
<use href="#h4" x="352.2" y="427.9"/>
<use href="#v4" x="298.0" y="373.3"/>
<text x="324" y="366.4" font-size="6.4" font-weight="bold" text-anchor="middle" stroke="#000" stroke-width=".15">2 μM</text>
<text x="336.6" y="418.4" font-size="5.8" font-weight="bold" fill="#e8141c" style="stroke:#e8141c;stroke-width:.3px">13.28</text>
<path d="M36.2 168.3V145.5M36.2 168.3H61" stroke="#000" stroke-width="0.9" fill="none"/>
<path d="M34.6 146.5L36.2 143.5L37.800000000000004 146.5ZM60 166.70000000000002L63 168.3L60 169.9Z"/>
<text x="38.5" y="135.6" font-size="6.4" font-weight="bold" text-anchor="middle" transform="rotate(-90 38.5 135.6)">PI</text>
<text x="70" y="172.4" font-size="6.4" font-weight="bold">Annexin V</text>
<path d="M219.6 168.6V146.3M219.6 168.6H244.4" stroke="#000" stroke-width="0.9" fill="none"/>
<path d="M218.0 147.3L219.6 144.3L221.2 147.3ZM243.4 167.0L246.4 168.6L243.4 170.2Z"/>
<text x="222.3" y="134.8" font-size="6.4" font-weight="bold" text-anchor="middle" transform="rotate(-90 222.3 134.8)">PI</text>
<text x="253" y="172.4" font-size="6.4" font-weight="bold">Annexin V</text>
<path d="M36.4 435.6V413M36.4 435.6H61.5" stroke="#000" stroke-width="0.9" fill="none"/>
<path d="M34.8 414L36.4 411L38.0 414ZM60.5 434.0L63.5 435.6L60.5 437.20000000000005Z"/>
<text x="38.7" y="390" font-size="6.6" font-weight="bold" text-anchor="middle" transform="rotate(-90 38.7 390)">JC-1 Red</text>
<text x="69.7" y="439.5" font-size="6.6" font-weight="bold">JC-1 Green</text>
<path d="M219.9 435.8V413.5M219.9 435.8H244" stroke="#000" stroke-width="0.9" fill="none"/>
<path d="M218.3 414.5L219.9 411.5L221.5 414.5ZM243 434.2L246 435.8L243 437.40000000000003Z"/>
<text x="222.2" y="391" font-size="6.6" font-weight="bold" text-anchor="middle" transform="rotate(-90 222.2 391)">JC-1 Red</text>
<text x="253.5" y="439.5" font-size="6.6" font-weight="bold">JC-1 Green</text>
<text x="10.6" y="19.6" font-size="8.8" font-weight="bold" style="stroke-width:.35px">[A]</text>
<text x="191.3" y="19.6" font-size="8.8" font-weight="bold" style="stroke-width:.35px">[B]</text>
<text x="10.6" y="290.8" font-size="8.8" font-weight="bold" style="stroke-width:.35px">[C]</text>
<text x="191.3" y="290.8" font-size="8.8" font-weight="bold" style="stroke-width:.35px">[D]</text>
<text x="109.6" y="182.4" font-size="7.2" font-weight="bold" text-anchor="middle">ES2</text>
<text x="292.8" y="182.8" font-size="7.2" font-weight="bold" text-anchor="middle">OV90</text>
<text x="109.9" y="449.2" font-size="7.2" font-weight="bold" text-anchor="middle">ES2</text>
<text x="292.8" y="449.6" font-size="7.2" font-weight="bold" text-anchor="middle">OV90</text>
<path d="M50 185.5V258.3M50 256.3H170.6" stroke="#000" stroke-width="1.1" fill="none"/>
<text x="44.2" y="258.8" font-size="7.2" font-weight="bold" text-anchor="end">0</text>
<text x="44.2" y="247.0" font-size="7.2" font-weight="bold" text-anchor="end">50</text>
<text x="44.2" y="235.2" font-size="7.2" font-weight="bold" text-anchor="end">100</text>
<text x="44.2" y="223.4" font-size="7.2" font-weight="bold" text-anchor="end">150</text>
<text x="44.2" y="211.6" font-size="7.2" font-weight="bold" text-anchor="end">200</text>
<text x="44.2" y="199.8" font-size="7.2" font-weight="bold" text-anchor="end">250</text>
<text x="44.2" y="188.0" font-size="7.2" font-weight="bold" text-anchor="end">300</text>
<path d="M47.8 256.3H50M47.8 244.5H50M47.8 232.7H50M47.8 220.9H50M47.8 209.1H50M47.8 197.3H50M47.8 185.5H50M80.4 256.3v2M110.7 256.3v2M140.6 256.3v2M170.6 256.3v2" stroke="#000" stroke-width="1"/>
<rect x="55.2" y="232.7" width="20.2" height="23.6" fill="#f2dfea" stroke="#000" stroke-width="1"/>
<path d="M65.3 232.7V228.3M62.1 228.3H68.5" stroke="#000" stroke-width="1"/>
<rect x="85.4" y="225.2" width="20.3" height="31.1" fill="#ba8fc4" stroke="#000" stroke-width="1"/>
<path d="M95.6 225.2V220.7M92.4 220.7H98.8" stroke="#000" stroke-width="1"/>
<rect x="115.6" y="221.6" width="20.2" height="34.7" fill="#6d54a6" stroke="#000" stroke-width="1"/>
<path d="M125.7 221.6V211.7M122.5 211.7H128.9" stroke="#000" stroke-width="1"/>
<rect x="145.4" y="212.0" width="20.2" height="44.3" fill="#302a6e" stroke="#000" stroke-width="1"/>
<path d="M155.5 212.0V198.6M152.3 198.6H158.7" stroke="#000" stroke-width="1"/>
<text x="155.5" y="196.2" font-size="9" font-weight="bold" text-anchor="middle">*</text>
<path d="M232 185V258.4M232 256.4H352" stroke="#000" stroke-width="1.1" fill="none"/>
<text x="225.3" y="258.9" font-size="7.2" font-weight="bold" text-anchor="end">0</text>
<text x="225.3" y="244.6" font-size="7.2" font-weight="bold" text-anchor="end">50</text>
<text x="225.3" y="230.3" font-size="7.2" font-weight="bold" text-anchor="end">100</text>
<text x="225.3" y="216.1" font-size="7.2" font-weight="bold" text-anchor="end">150</text>
<text x="225.3" y="201.8" font-size="7.2" font-weight="bold" text-anchor="end">200</text>
<text x="225.3" y="187.5" font-size="7.2" font-weight="bold" text-anchor="end">250</text>
<path d="M229.8 256.4H232M229.8 242.1H232M229.8 227.8H232M229.8 213.6H232M229.8 199.3H232M229.8 185.0H232M262.1 256.4v2M291.9 256.4v2M322.2 256.4v2M352.0 256.4v2" stroke="#000" stroke-width="1"/>
<rect x="236.8" y="227.8" width="20.1" height="28.6" fill="#f590b4" stroke="#000" stroke-width="1"/>
<path d="M246.8 227.8V220.4M243.6 220.4H250.0" stroke="#000" stroke-width="1"/>
<rect x="267.3" y="221.1" width="19.5" height="35.3" fill="#e9457c" stroke="#000" stroke-width="1"/>
<path d="M277.1 221.1V212.0M273.9 212.0H280.3" stroke="#000" stroke-width="1"/>
<rect x="297" y="217.1" width="20.3" height="39.3" fill="#e61e64" stroke="#000" stroke-width="1"/>
<path d="M307.1 217.1V208.8M303.9 208.8H310.3" stroke="#000" stroke-width="1"/>
<rect x="327.1" y="206.8" width="19.9" height="49.6" fill="#a5155b" stroke="#000" stroke-width="1"/>
<path d="M337.1 206.8V198.1M333.9 198.1H340.3" stroke="#000" stroke-width="1"/>
<text x="337.1" y="195.7" font-size="9" font-weight="bold" text-anchor="middle">*</text>
<path d="M51.8 452.4V526.4M51.8 524.4H171" stroke="#000" stroke-width="1.1" fill="none"/>
<text x="45.4" y="526.9" font-size="7.2" font-weight="bold" text-anchor="end">0</text>
<text x="45.4" y="517.9" font-size="7.2" font-weight="bold" text-anchor="end">20</text>
<text x="45.4" y="508.9" font-size="7.2" font-weight="bold" text-anchor="end">40</text>
<text x="45.4" y="499.9" font-size="7.2" font-weight="bold" text-anchor="end">60</text>
<text x="45.4" y="490.9" font-size="7.2" font-weight="bold" text-anchor="end">80</text>
<text x="45.4" y="481.9" font-size="7.2" font-weight="bold" text-anchor="end">100</text>
<text x="45.4" y="472.9" font-size="7.2" font-weight="bold" text-anchor="end">120</text>
<text x="45.4" y="463.9" font-size="7.2" font-weight="bold" text-anchor="end">140</text>
<text x="45.4" y="454.9" font-size="7.2" font-weight="bold" text-anchor="end">160</text>
<path d="M49.599999999999994 524.4H51.8M49.599999999999994 515.4H51.8M49.599999999999994 506.4H51.8M49.599999999999994 497.4H51.8M49.599999999999994 488.4H51.8M49.599999999999994 479.4H51.8M49.599999999999994 470.4H51.8M49.599999999999994 461.4H51.8M49.599999999999994 452.4H51.8M81.4 524.4v2M111.2 524.4v2M141.1 524.4v2M171.0 524.4v2" stroke="#000" stroke-width="1"/>
<rect x="56.8" y="479.4" width="19.9" height="45.0" fill="#f2dfea" stroke="#000" stroke-width="1"/>
<path d="M66.8 479.4V464.1M63.6 464.1H70.0" stroke="#000" stroke-width="1"/>
<rect x="86.1" y="501.4" width="20.2" height="22.9" fill="#ba8fc4" stroke="#000" stroke-width="1"/>
<path d="M96.2 501.4V497.8M93.0 497.8H99.4" stroke="#000" stroke-width="1"/>
<text x="96.2" y="495.4" font-size="9" font-weight="bold" text-anchor="middle">*</text>
<rect x="116.2" y="500.3" width="20.2" height="24.1" fill="#6d54a6" stroke="#000" stroke-width="1"/>
<path d="M126.3 500.3V494.0M123.1 494.0H129.5" stroke="#000" stroke-width="1"/>
<text x="126.3" y="491.6" font-size="9" font-weight="bold" text-anchor="middle">*</text>
<rect x="145.7" y="512.2" width="20.3" height="12.1" fill="#302a6e" stroke="#000" stroke-width="1"/>
<path d="M155.8 512.2V507.1M152.6 507.1H159.0" stroke="#000" stroke-width="1"/>
<text x="155.8" y="504.7" font-size="9" font-weight="bold" text-anchor="middle">**</text>
<path d="M237.8 452.8V526.4M237.8 524.4H351.7" stroke="#000" stroke-width="1.1" fill="none"/>
<text x="232.0" y="526.9" font-size="7.2" font-weight="bold" text-anchor="end">0</text>
<text x="232.0" y="516.7" font-size="7.2" font-weight="bold" text-anchor="end">20</text>
<text x="232.0" y="506.4" font-size="7.2" font-weight="bold" text-anchor="end">40</text>
<text x="232.0" y="496.2" font-size="7.2" font-weight="bold" text-anchor="end">60</text>
<text x="232.0" y="486.0" font-size="7.2" font-weight="bold" text-anchor="end">80</text>
<text x="232.0" y="475.8" font-size="7.2" font-weight="bold" text-anchor="end">100</text>
<text x="232.0" y="465.5" font-size="7.2" font-weight="bold" text-anchor="end">120</text>
<text x="232.0" y="455.3" font-size="7.2" font-weight="bold" text-anchor="end">140</text>
<path d="M235.60000000000002 524.4H237.8M235.60000000000002 514.2H237.8M235.60000000000002 503.9H237.8M235.60000000000002 493.7H237.8M235.60000000000002 483.5H237.8M235.60000000000002 473.3H237.8M235.60000000000002 463.0H237.8M235.60000000000002 452.8H237.8M266.0 524.4v2M294.5 524.4v2M322.8 524.4v2M351.7 524.4v2" stroke="#000" stroke-width="1"/>
<rect x="242" y="473.3" width="19.4" height="51.1" fill="#f590b4" stroke="#000" stroke-width="1"/>
<path d="M251.7 473.3V461.0M248.5 461.0H254.9" stroke="#000" stroke-width="1"/>
<rect x="270.7" y="505.5" width="18.8" height="18.9" fill="#e9457c" stroke="#000" stroke-width="1"/>
<path d="M280.1 505.5V500.9M276.9 500.9H283.3" stroke="#000" stroke-width="1"/>
<text x="280.1" y="498.5" font-size="9" font-weight="bold" text-anchor="middle">***</text>
<rect x="299.5" y="509.2" width="18.5" height="15.2" fill="#e61e64" stroke="#000" stroke-width="1"/>
<path d="M308.8 509.2V507.8M305.6 507.8H312.0" stroke="#000" stroke-width="1"/>
<text x="308.8" y="505.4" font-size="9" font-weight="bold" text-anchor="middle">***</text>
<rect x="327.5" y="517.8" width="19.2" height="6.6" fill="#a5155b" stroke="#000" stroke-width="1"/>
<path d="M337.1 517.8V515.2M333.9 515.2H340.3" stroke="#000" stroke-width="1"/>
<text x="337.1" y="512.8" font-size="9" font-weight="bold" text-anchor="middle">***</text>
<text x="64.3" y="266" font-size="7.2" font-weight="bold" text-anchor="middle">0</text>
<text x="94" y="266" font-size="7.2" font-weight="bold" text-anchor="middle">0.5</text>
<text x="124.5" y="266" font-size="7.2" font-weight="bold" text-anchor="middle">1</text>
<text x="154" y="266" font-size="7.2" font-weight="bold" text-anchor="middle">2</text>
<text x="245.8" y="266.4" font-size="7.2" font-weight="bold" text-anchor="middle">0</text>
<text x="275.8" y="266.4" font-size="7.2" font-weight="bold" text-anchor="middle">0.5</text>
<text x="305.8" y="266.4" font-size="7.2" font-weight="bold" text-anchor="middle">1</text>
<text x="335.8" y="266.4" font-size="7.2" font-weight="bold" text-anchor="middle">2</text>
<text x="65.2" y="533.6" font-size="7.2" font-weight="bold" text-anchor="middle">0</text>
<text x="94.5" y="533.6" font-size="7.2" font-weight="bold" text-anchor="middle">0.5</text>
<text x="125.8" y="533.6" font-size="7.2" font-weight="bold" text-anchor="middle">1</text>
<text x="155" y="533.6" font-size="7.2" font-weight="bold" text-anchor="middle">2</text>
<text x="250.9" y="533.6" font-size="7.2" font-weight="bold" text-anchor="middle">0</text>
<text x="278.5" y="533.6" font-size="7.2" font-weight="bold" text-anchor="middle">0.5</text>
<text x="308.7" y="533.6" font-size="7.2" font-weight="bold" text-anchor="middle">1</text>
<text x="337.1" y="533.6" font-size="7.2" font-weight="bold" text-anchor="middle">2</text>
<text x="25.1" y="221.2" font-size="7.2" font-weight="bold" text-anchor="middle" transform="rotate(-90 25.1 221.2)">Apoptotic cell (%)</text>
<text x="206.6" y="221" font-size="7.2" font-weight="bold" text-anchor="middle" transform="rotate(-90 206.6 221)">Apoptotic cell (%)</text>
<text x="25.8" y="485.5" font-size="7.2" font-weight="bold" text-anchor="middle" transform="rotate(-90 25.8 485.5)">Relative MMP (%)</text>
<text x="212.8" y="485.5" font-size="7.2" font-weight="bold" text-anchor="middle" transform="rotate(-90 212.8 485.5)">Relative MMP (%)</text>
<text x="110.4" y="276.6" font-size="7.2" font-weight="bold" text-anchor="middle">Alpinumisoflavone (μM)</text>
<text x="293.9" y="276.6" font-size="7.2" font-weight="bold" text-anchor="middle">Alpinumisoflavone (μM)</text>
<text x="112" y="544" font-size="7.2" font-weight="bold" text-anchor="middle">Alpinumisoflavone (μM)</text>
<text x="294.6" y="544" font-size="7.2" font-weight="bold" text-anchor="middle">Alpinumisoflavone (μM)</text>
</svg></body></html>
